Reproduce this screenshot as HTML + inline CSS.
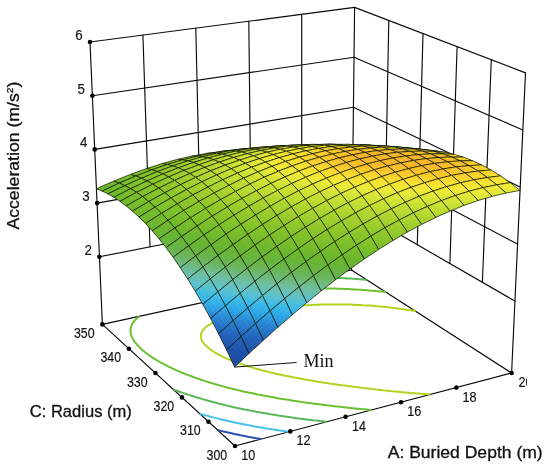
<!DOCTYPE html>
<html><head><meta charset="utf-8"><title>Response surface</title>
<style>html,body{margin:0;padding:0;background:#fff}svg{display:block}.s{stroke:none;shape-rendering:crispEdges}.m{fill:none;stroke:#161e06;stroke-width:.75;stroke-linejoin:round;shape-rendering:auto}</style></head>
<body>
<svg width="550" height="471" viewBox="0 0 550 471">
<rect width="550" height="471" fill="#fff"/>
<g stroke="#0a0a0a" stroke-width="1.15" fill="none" stroke-linecap="round">
<line x1="102.4" y1="324.4" x2="90" y2="42"/>
<line x1="150" y1="246.8" x2="142.9" y2="35.1"/>
<line x1="200.6" y1="236.9" x2="195.8" y2="28.2"/>
<line x1="251.1" y1="227" x2="248.8" y2="21.2"/>
<line x1="301.7" y1="217" x2="301.7" y2="14.3"/>
<line x1="351.5" y1="270" x2="354.6" y2="7.4"/>
<line x1="511.6" y1="373" x2="525.5" y2="72.9"/>
<line x1="482.4" y1="282.3" x2="491.3" y2="59.8"/>
<line x1="449.9" y1="263.5" x2="457.1" y2="46.7"/>
<line x1="417.3" y1="244.7" x2="423" y2="33.6"/>
<line x1="384.8" y1="225.9" x2="388.8" y2="20.5"/>
<line x1="102.4" y1="324.4" x2="351.5" y2="270"/>
<line x1="351.5" y1="270" x2="511.6" y2="373"/>
<line x1="99.4" y1="256.8" x2="352.2" y2="207.1"/>
<line x1="352.2" y1="207.1" x2="514.9" y2="301.1"/>
<line x1="97.1" y1="203.1" x2="352.8" y2="157.2"/>
<line x1="352.8" y1="157.2" x2="517.6" y2="244.1"/>
<line x1="94.7" y1="149.4" x2="353.4" y2="107.2"/>
<line x1="353.4" y1="107.2" x2="520.2" y2="187"/>
<line x1="92.4" y1="95.7" x2="354" y2="57.3"/>
<line x1="354" y1="57.3" x2="522.9" y2="130"/>
<line x1="90" y1="42" x2="354.6" y2="7.4"/>
<line x1="354.6" y1="7.4" x2="525.5" y2="72.9"/>
<line x1="102.4" y1="324.4" x2="235" y2="446"/>
<line x1="235" y1="446" x2="511.6" y2="373"/>
</g>
<g fill="none" stroke-width="2" stroke-linecap="butt">
<polyline stroke="#2a52b0" points="217.6,430 220,430.6 222.6,431.3 225.8,432 229,432.7 231.8,433.3 234.1,433.9 237.2,434.5 240.5,435.2 243.3,435.7 245.6,436.2 249,436.9 252.3,437.5 254.6,437.9 257.8,438.4 261.2,439 261.3,439"/>
<polyline stroke="#48c0e8" points="199.7,413.7 202.2,414.4 204.7,415.1 207.3,415.8 210.2,416.6 213.3,417.4 216.3,418.1 219.3,418.9 221.7,419.5 224,420 227.2,420.8 230.4,421.5 233.4,422.2 235.7,422.7 238.6,423.3 241.9,423.9 244.9,424.5 247.2,425 250.4,425.6 253.9,426.3 256.2,426.7 259.2,427.2 262.8,427.8 265,428.2 268.2,428.7 271.6,429.3 273.8,429.6 277.5,430.2 280.3,430.6 283.1,431 286.8,431.5 288.9,431.8"/>
<polyline stroke="#5ab85a" points="173.3,389.4 175.9,390.4 178.4,391.3 181,392.2 183.6,393.1 186.2,394 188.9,394.9 191.6,395.8 194.3,396.6 197.1,397.5 199.9,398.3 202.5,399.1 205,399.8 207.5,400.5 210,401.2 212.9,402 215.9,402.8 218.9,403.6 221.9,404.3 224.5,405 226.9,405.6 229.8,406.2 232.9,407 236.2,407.7 238.6,408.2 241.1,408.7 244.4,409.4 247.8,410.1 250.1,410.6 252.9,411.1 256.3,411.8 259.1,412.3 261.6,412.7 265.1,413.3 268,413.8 270.5,414.3 274.1,414.8 276.8,415.3 279.7,415.7 283.3,416.3 285.5,416.6 289.1,417.1 291.9,417.5 294.8,417.9 298.4,418.4 300.7,418.7 304.6,419.2 306.9,419.5 310.5,419.9 313.3,420.3 316.6,420.6 319.7,421 322.6,421.3 326,421.7 326.7,421.8"/>
<polyline stroke="#5ab85a" points="366.7,279.8 362.8,279.5 359.9,279.2 357.1,279 353.3,278.8 350.2,278.6 347.7,278.5 344.2,278.3 340.6,278.1 337.2,278 334.5,277.9 331.8,277.8 328.3,277.7 324.9,277.6 321.5,277.6 318.1,277.5 317.1,277.5"/>
<polyline stroke="#6cc030" points="385.8,292.1 382,291.6 379.6,291.4 375.6,291 373.5,290.8 369.5,290.5 366.7,290.2 363.7,290 359.9,289.7 357.3,289.6 354.3,289.4 350.6,289.2 347.3,289 344.6,288.9 341.6,288.8 338,288.7 334.5,288.6 331.1,288.5 327.8,288.5 324.8,288.4 321.7,288.4 318.5,288.4 315.3,288.4 312,288.5 308.6,288.5 305.1,288.6 301.5,288.7 298.2,288.8 295.1,288.9 292,289 288.9,289.1 285.8,289.3 281.9,289.5 278.2,289.7 275.2,289.8 272.2,290 268.4,290.3 264.8,290.5 261.8,290.8 258.4,291 254.6,291.4 253.1,291.5"/>
<polyline stroke="#6cc030" points="139.6,316.3 138,317.5 136.5,318.8 135,320.2 134.1,321.2 133.1,322.7 132.3,323.8 131.5,325.5 131.2,326.5 130.8,327.9 130.6,329.5 130.5,331 130.7,332.5 130.9,333.9 131.3,335.3 132,337.2 132.8,338.8 133.6,340.1 134.9,342.1 136.4,343.9 137.5,345.2 139.3,347.1 141.2,348.9 143.3,350.7 145.4,352.5 147.7,354.3 149.3,355.4 151.8,357.1 154.4,358.7 156.2,359.9 159,361.5 160.9,362.6 163.4,363.9 165.9,365.2 167.9,366.3 170.8,367.7 173.3,368.8 175.5,369.8 177.7,370.8 180.7,372.1 183.5,373.2 185.8,374.2 188.3,375.1 190.7,376 193.2,377 195.8,377.9 198.3,378.8 201,379.7 203.7,380.6 206.3,381.4 209,382.3 211.8,383.1 214.6,384 217.4,384.8 220.3,385.6 223.3,386.4 226.2,387.2 229.1,388 231.6,388.6 234,389.2 236.9,389.9 240,390.6 243.2,391.4 245.8,391.9 248.2,392.5 251.3,393.1 254.6,393.8 257.4,394.4 259.7,394.8 263.1,395.5 266.5,396.1 268.7,396.6 271.8,397.1 275.3,397.7 277.6,398.2 280.7,398.7 284.3,399.3 286.5,399.6 289.8,400.1 293.1,400.7 295.4,401 299.1,401.6 301.8,401.9 304.8,402.4 308.3,402.9 310.6,403.2 314.4,403.7 316.9,404 320.3,404.4 323.3,404.8 326.2,405.2 329.7,405.6 332.2,405.9 336.1,406.4 338.3,406.6 342.3,407.1 344.7,407.3 348.4,407.7 351,408 354.6,408.4 357.4,408.7 360.8,409 363.8,409.3 367.1,409.6 370.1,409.9 371.3,410"/>
<polyline stroke="#b2d420" points="415.6,311.2 413.2,310.8 410.2,310.3 406.7,309.8 403.8,309.3 401.2,309 397.4,308.4 394.9,308.1 391.5,307.7 388.4,307.3 385.4,307 382.2,306.7 379.1,306.4 376.1,306.1 372.4,305.8 370.1,305.6 366.3,305.4 362.9,305.2 360.5,305 356.9,304.9 353.3,304.7 350,304.6 347.3,304.5 344.4,304.5 340.9,304.4 337.4,304.4 334,304.4 330.7,304.4 327.3,304.5 324.1,304.5 320.8,304.6 317.6,304.7 314.4,304.8 311.2,305 307.1,305.2 303.5,305.4 300.4,305.6 297.4,305.8 293.5,306.1 289.9,306.4 286.9,306.7 282.6,307.1 279.7,307.5 276.3,307.9 272.6,308.3 269,308.8 265.6,309.3 261.5,309.9 258.7,310.3 254.7,311 250.7,311.7 246.8,312.4 243,313.2 239.2,314.1 235.4,315 231.8,315.9 228.2,317 224.7,318 222.4,318.8 219,320 216.9,320.9 214.8,321.8 212.3,323.1 210,324.3 208.2,325.5 206.7,326.5 205.4,327.6 204,328.9 202.8,330.4 202.2,331.4 201.4,332.9 201,334.4 200.9,335.7 200.9,337.1 201.3,338.7 201.8,340.3 202.5,341.6 203.9,343.5 204.9,344.8 206.8,346.6 208.9,348.3 211.2,350 212.8,351.1 215.4,352.8 218.2,354.4 220.2,355.4 222.6,356.6 225.4,357.9 227.7,358.9 229.9,359.8 233,361.1 235.9,362.2 238.4,363.1 240.9,363.9 243.5,364.8 246.2,365.7 248.9,366.5 251.6,367.4 254.4,368.2 257.3,369 260.2,369.8 263.1,370.6 265.8,371.2 268.3,371.9 270.8,372.5 273.8,373.2 277,373.9 280.2,374.6 282.8,375.2 285.2,375.7 288.3,376.3 291.7,377 294.6,377.6 296.9,378 300.2,378.6 303.7,379.3 306,379.7 308.9,380.2 312.5,380.8 315.1,381.2 317.9,381.7 321.5,382.3 324,382.7 327,383.1 330.7,383.7 332.9,384 336.4,384.5 339.5,384.9 342,385.3 345.9,385.8 348.3,386.1 351.7,386.6 354.8,387 357.5,387.3 361.4,387.8 363.5,388.1 367.4,388.5 370,388.8 373.4,389.2 376.5,389.6 379.5,389.9 383,390.3 385.6,390.5 389.4,390.9 391.8,391.2 395.9,391.6 398,391.8 402.2,392.2 404.4,392.4 408.6,392.7 410.8,392.9 415,393.3 417.2,393.5 421.4,393.8 423.6,394 427.8,394.3 430.2,394.5"/>
</g>
<g class="s">
<path fill="#8fc62a" d="M224.8 151l13.3-1.6-5.4 1.1-13.2 1.2z"/>
<path fill="#8bc52a" d="M228.8 150.5l6.6-.6-2.7 .6-6.6 .5z"/>
<path fill="#8cc52a" d="M222.2 151.3l6.6-.8-2.7 .5-6.6 .7z"/>
<path fill="#92c82b" d="M231.5 150.1l6.6-.7-2.7 .5-6.6 .6z"/>
<path fill="#93c92b" d="M224.8 151l6.7-.9-2.7 .4-6.6 .8z"/>
<path class="m" d="M224.8 151l13.3-1.6-5.4 1.1-13.2 1.2z"/>
<path fill="#91c72a" d="M211.2 153.2l13.6-2.2-5.3 .7-13.6 1.8z"/>
<path fill="#8dc62a" d="M215.4 152.2l6.8-.9-2.7 .4-6.8 .8z"/>
<path fill="#8dc62a" d="M208.5 153.3l6.9-1.1-2.7 .3-6.8 1z"/>
<path fill="#94c92b" d="M218.1 152l6.7-1-2.6 .3-6.8 .9z"/>
<path fill="#95c92b" d="M211.2 153.2l6.9-1.2-2.7 .2-6.9 1.1z"/>
<path class="m" d="M211.2 153.2l13.6-2.2-5.3 .7-13.6 1.8z"/>
<path fill="#91c72a" d="M197 156.2l14.2-3-5.3 .3-14.1 2.6z"/>
<path fill="#8dc62a" d="M201.5 154.6l7-1.3-2.6 .2-7 1.2z"/>
<path fill="#8dc62a" d="M194.4 156.1l7.1-1.5-2.6 .1-7.1 1.4z"/>
<path fill="#94c92b" d="M204.2 154.6l7-1.4-2.7 .1-7 1.3z"/>
<path fill="#94c92b" d="M197 156.2l7.2-1.6-2.7 0-7.1 1.5z"/>
<path class="m" d="M197 156.2l14.2-3-5.3 .3-14.1 2.6z"/>
<path fill="#8ec62a" d="M182.5 159.9l14.5-3.7-5.2-.1-14.6 3.3z"/>
<path fill="#8cc52a" d="M187.2 157.7l7.2-1.6-2.6 0-7.2 1.6z"/>
<path fill="#8bc52a" d="M179.8 159.6l7.4-1.9-2.6 0-7.4 1.7z"/>
<path fill="#92c82b" d="M189.8 158l7.2-1.8-2.6-.1-7.2 1.6z"/>
<path fill="#90c72a" d="M182.5 159.9l7.3-1.9-2.6-.3-7.4 1.9z"/>
<path class="m" d="M182.5 159.9l14.5-3.7-5.2-.1-14.6 3.3z"/>
<path fill="#8bc52a" d="M167.4 164.4l15.1-4.5-5.3-.5-15 4.2z"/>
<path fill="#89c42a" d="M172.4 161.7l7.4-2.1-2.6-.2-7.5 2z"/>
<path fill="#87c32a" d="M164.8 163.9l7.6-2.2-2.7-.3-7.5 2.2z"/>
<path fill="#8ec62a" d="M175 162.1l7.5-2.2-2.7-.3-7.4 2.1z"/>
<path fill="#8cc52a" d="M167.4 164.4l7.6-2.3-2.6-.4-7.6 2.2z"/>
<path class="m" d="M167.4 164.4l15.1-4.5-5.3-.5-15 4.2z"/>
<path fill="#85c32a" d="M151.9 169.8l15.5-5.4-5.2-.8-15.6 4.9z"/>
<path fill="#85c22a" d="M157.1 166.4l7.7-2.5-2.6-.3-7.8 2.3z"/>
<path fill="#82c12a" d="M149.2 169.1l7.9-2.7-2.7-.5-7.8 2.6z"/>
<path fill="#89c42a" d="M159.7 167l7.7-2.6-2.6-.5-7.7 2.5z"/>
<path fill="#86c32a" d="M151.9 169.8l7.8-2.8-2.6-.6-7.9 2.7z"/>
<path class="m" d="M151.9 169.8l15.5-5.4-5.2-.8-15.6 4.9z"/>
<path fill="#7ec02a" d="M135.8 176l16.1-6.2-5.3-1.3-16.2 5.9z"/>
<path fill="#7ec02a" d="M141.2 172l8-2.9-2.6-.6-8 2.8z"/>
<path fill="#7abe2a" d="M133.1 175.1l8.1-3.1-2.6-.7-8.2 3.1z"/>
<path fill="#82c12a" d="M143.9 172.8l8-3-2.7-.7-8 2.9z"/>
<path fill="#7ec02a" d="M135.8 176l8.1-3.2-2.7-.8-8.1 3.1z"/>
<path class="m" d="M135.8 176l16.1-6.2-5.3-1.3-16.2 5.9z"/>
<path fill="#76bc2b" d="M119.3 183.1l16.5-7.1-5.4-1.6-16.7 6.7z"/>
<path fill="#77bc2b" d="M124.9 178.5l8.2-3.4-2.7-.7-8.2 3.2z"/>
<path fill="#73ba2c" d="M116.5 182l8.4-3.5-2.7-.9-8.5 3.5z"/>
<path fill="#79be2a" d="M127.6 179.4l8.2-3.4-2.7-.9-8.2 3.4z"/>
<path fill="#75bb2b" d="M119.3 183.1l8.3-3.7-2.7-.9-8.4 3.5z"/>
<path class="m" d="M119.3 183.1l16.5-7.1-5.4-1.6-16.7 6.7z"/>
<path fill="#6db72e" d="M102.1 191.1l17.2-8-5.6-2-17.3 7.6z"/>
<path fill="#6fb72d" d="M107.9 185.8l8.6-3.8-2.8-.9-8.5 3.7z"/>
<path fill="#6bb630" d="M99.3 189.8l8.6-4-2.7-1-8.8 3.9z"/>
<path fill="#71b92d" d="M110.8 187l8.5-3.9-2.8-1.1-8.6 3.8z"/>
<path fill="#6cb62e" d="M102.1 191.1l8.7-4.1-2.9-1.2-8.6 4z"/>
<path class="m" d="M102.1 191.1l17.2-8-5.6-2-17.3 7.6z"/>
<path fill="#9ccc2c" d="M243.6 148.9l12.9-1.3-5.6 .9-12.8 .9z"/>
<path fill="#95c92b" d="M248.5 148.4l4.3-.2-1.9 .3-4.2 .3z"/>
<path fill="#96ca2b" d="M244.3 148.8l4.2-.4-1.8 .4-4.3 .3z"/>
<path fill="#97ca2b" d="M239.9 149.2l4.4-.4-1.9 .3-4.3 .3z"/>
<path fill="#9acc2c" d="M250.4 148.1l4.3-.3-1.9 .4-4.3 .2z"/>
<path fill="#9ccc2c" d="M246.1 148.5l4.3-.4-1.9 .3-4.2 .4z"/>
<path fill="#9dcd2c" d="M241.8 149l4.3-.5-1.8 .3-4.4 .4z"/>
<path fill="#a0ce2d" d="M252.3 147.9l4.2-.3-1.8 .2-4.3 .3z"/>
<path fill="#a1cf2d" d="M248 148.4l4.3-.5-1.9 .2-4.3 .4z"/>
<path fill="#a2cf2d" d="M243.6 148.9l4.4-.5-1.9 .1-4.3 .5z"/>
<path class="m" d="M243.6 148.9l12.9-1.3-5.6 .9-12.8 .9z"/>
<path fill="#9ece2d" d="M230.3 150.8l13.3-1.9-5.5 .5-13.3 1.6z"/>
<path fill="#9acc2c" d="M234.2 149.9l6.6-.8-2.7 .3-6.6 .7z"/>
<path fill="#9bcc2c" d="M227.6 150.8l6.6-.9-2.7 .2-6.7 .9z"/>
<path fill="#a1cf2d" d="M237 149.7l6.6-.8-2.8 .2-6.6 .8z"/>
<path fill="#a2cf2d" d="M230.3 150.8l6.7-1.1-2.8 .2-6.6 .9z"/>
<path class="m" d="M230.3 150.8l13.3-1.9-5.5 .5-13.3 1.6z"/>
<path fill="#9fce2d" d="M216.6 153.4l13.7-2.6-5.5 .2-13.6 2.2z"/>
<path fill="#9ccc2c" d="M220.8 152l6.8-1.2-2.8 .2-6.7 1z"/>
<path fill="#9ccc2c" d="M213.9 153.3l6.9-1.3-2.7 0-6.9 1.2z"/>
<path fill="#a2cf2d" d="M223.5 152l6.8-1.2-2.7 0-6.8 1.2z"/>
<path fill="#a2cf2d" d="M216.6 153.4l6.9-1.4-2.7 0-6.9 1.3z"/>
<path class="m" d="M216.6 153.4l13.7-2.6-5.5 .2-13.6 2.2z"/>
<path fill="#9ecd2c" d="M202.4 156.8l14.2-3.4-5.4-.2-14.2 3z"/>
<path fill="#9bcc2c" d="M206.8 154.8l7.1-1.5-2.7-.1-7 1.4z"/>
<path fill="#9acc2c" d="M199.7 156.4l7.1-1.6-2.6-.2-7.2 1.6z"/>
<path fill="#a1cf2d" d="M209.6 155l7-1.6-2.7-.1-7.1 1.5z"/>
<path fill="#a0ce2d" d="M202.4 156.8l7.2-1.8-2.8-.2-7.1 1.6z"/>
<path class="m" d="M202.4 156.8l14.2-3.4-5.4-.2-14.2 3z"/>
<path fill="#9acc2c" d="M187.9 160.9l14.5-4.1-5.4-.6-14.5 3.7z"/>
<path fill="#98cb2c" d="M192.5 158.3l7.2-1.9-2.7-.2-7.2 1.8z"/>
<path fill="#96ca2b" d="M185.2 160.4l7.3-2.1-2.7-.3-7.3 1.9z"/>
<path fill="#9ecd2c" d="M195.2 158.8l7.2-2-2.7-.4-7.2 1.9z"/>
<path fill="#9bcc2c" d="M187.9 160.9l7.3-2.1-2.7-.5-7.3 2.1z"/>
<path class="m" d="M187.9 160.9l14.5-4.1-5.4-.6-14.5 3.7z"/>
<path fill="#94c92b" d="M172.8 165.9l15.1-5-5.4-1-15.1 4.5z"/>
<path fill="#93c92b" d="M177.7 162.6l7.5-2.2-2.7-.5-7.5 2.2z"/>
<path fill="#90c72a" d="M170.1 165.1l7.6-2.5-2.7-.5-7.6 2.3z"/>
<path fill="#98cb2c" d="M180.4 163.3l7.5-2.4-2.7-.5-7.5 2.2z"/>
<path fill="#95c92b" d="M172.8 165.9l7.6-2.6-2.7-.7-7.6 2.5z"/>
<path class="m" d="M172.8 165.9l15.1-5-5.4-1-15.1 4.5z"/>
<path fill="#8dc52a" d="M157.4 171.6l15.4-5.7-5.4-1.5-15.5 5.4z"/>
<path fill="#8dc52a" d="M162.4 167.7l7.7-2.6-2.7-.7-7.7 2.6z"/>
<path fill="#89c42a" d="M154.6 170.6l7.8-2.9-2.7-.7-7.8 2.8z"/>
<path fill="#91c72a" d="M165.2 168.6l7.6-2.7-2.7-.8-7.7 2.6z"/>
<path fill="#8cc52a" d="M157.4 171.6l7.8-3-2.8-.9-7.8 2.9z"/>
<path class="m" d="M157.4 171.6l15.4-5.7-5.4-1.5-15.5 5.4z"/>
<path fill="#85c22a" d="M141.4 178.2l16-6.6-5.5-1.8-16.1 6.2z"/>
<path fill="#85c32a" d="M146.7 173.7l7.9-3.1-2.7-.8-8 3z"/>
<path fill="#81c12a" d="M138.6 177l8.1-3.3-2.8-.9-8.1 3.2z"/>
<path fill="#88c42a" d="M149.4 174.8l8-3.2-2.8-1-7.9 3.1z"/>
<path fill="#84c22a" d="M141.4 178.2l8-3.4-2.7-1.1-8.1 3.3z"/>
<path class="m" d="M141.4 178.2l16-6.6-5.5-1.8-16.1 6.2z"/>
<path fill="#7bbe2a" d="M124.9 185.6l16.5-7.4-5.6-2.2-16.5 7.1z"/>
<path fill="#7cbf2a" d="M130.4 180.5l8.2-3.5-2.8-1-8.2 3.4z"/>
<path fill="#77bd2b" d="M122.1 184.3l8.3-3.8-2.8-1.1-8.3 3.7z"/>
<path fill="#7fc02a" d="M133.2 181.8l8.2-3.6-2.8-1.2-8.2 3.5z"/>
<path fill="#79be2a" d="M124.9 185.6l8.3-3.8-2.8-1.3-8.3 3.8z"/>
<path class="m" d="M124.9 185.6l16.5-7.4-5.6-2.2-16.5 7.1z"/>
<path fill="#71b92d" d="M107.9 193.9l17-8.3-5.6-2.5-17.2 8z"/>
<path fill="#73ba2c" d="M113.6 188.2l8.5-3.9-2.8-1.2-8.5 3.9z"/>
<path fill="#6eb72d" d="M105 192.4l8.6-4.2-2.8-1.2-8.7 4.1z"/>
<path fill="#75bb2c" d="M116.5 189.6l8.4-4-2.8-1.3-8.5 3.9z"/>
<path fill="#6fb82d" d="M107.9 193.9l8.6-4.3-2.9-1.4-8.6 4.2z"/>
<path class="m" d="M107.9 193.9l17-8.3-5.6-2.5-17.2 8z"/>
<path fill="#a7d22e" d="M262.3 147.2l12.6-1.1-5.8 .8-12.6 .7z"/>
<path fill="#a0ce2d" d="M266.9 146.8l4.1-.2-1.9 .3-4.2 .2z"/>
<path fill="#a2cf2d" d="M262.7 147.1l4.2-.3-2 .3-4.1 .2z"/>
<path fill="#a3d02d" d="M258.4 147.4l4.3-.3-1.9 .2-4.3 .3z"/>
<path fill="#a6d12e" d="M268.8 146.6l4.2-.3-2 .3-4.1 .2z"/>
<path fill="#a7d22e" d="M264.6 146.9l4.2-.3-1.9 .2-4.2 .3z"/>
<path fill="#a9d22e" d="M260.3 147.2l4.3-.3-1.9 .2-4.3 .3z"/>
<path fill="#abd32e" d="M270.7 146.4l4.2-.3-1.9 .2-4.2 .3z"/>
<path fill="#add42f" d="M266.5 146.7l4.2-.3-1.9 .2-4.2 .3z"/>
<path fill="#afd52f" d="M262.3 147.2l4.2-.5-1.9 .2-4.3 .3z"/>
<path class="m" d="M262.3 147.2l12.6-1.1-5.8 .8-12.6 .7z"/>
<path fill="#abd32e" d="M249.3 148.8l13-1.6-5.8 .4-12.9 1.3z"/>
<path fill="#a5d02d" d="M254.2 147.8l4.2-.4-1.9 .2-4.2 .3z"/>
<path fill="#a6d12e" d="M249.8 148.2l4.4-.4-1.9 .1-4.3 .5z"/>
<path fill="#a7d12e" d="M245.5 148.8l4.3-.6-1.8 .2-4.4 .5z"/>
<path fill="#aad32e" d="M256.1 147.7l4.2-.5-1.9 .2-4.2 .4z"/>
<path fill="#abd32e" d="M251.7 148.2l4.4-.5-1.9 .1-4.4 .4z"/>
<path fill="#acd42f" d="M247.4 148.8l4.3-.6-1.9 0-4.3 .6z"/>
<path fill="#b0d52f" d="M258 147.6l4.3-.4-2 0-4.2 .5z"/>
<path fill="#b1d62f" d="M253.6 148.2l4.4-.6-1.9 .1-4.4 .5z"/>
<path fill="#b2d62f" d="M249.3 148.8l4.3-.6-1.9 0-4.3 .6z"/>
<path class="m" d="M249.3 148.8l13-1.6-5.8 .4-12.9 1.3z"/>
<path fill="#add42f" d="M235.9 151.2l13.4-2.4-5.7 .1-13.3 1.9z"/>
<path fill="#a9d22e" d="M239.8 149.8l6.6-1-2.8 .1-6.6 .8z"/>
<path fill="#a9d32e" d="M233.1 150.9l6.7-1.1-2.8-.1-6.7 1.1z"/>
<path fill="#b1d62f" d="M242.6 149.9l6.7-1.1-2.9 0-6.6 1z"/>
<path fill="#b1d62f" d="M235.9 151.2l6.7-1.3-2.8-.1-6.7 1.1z"/>
<path class="m" d="M235.9 151.2l13.4-2.4-5.7 .1-13.3 1.9z"/>
<path fill="#acd42f" d="M222.1 154.2l13.8-3-5.6-.4-13.7 2.6z"/>
<path fill="#a9d22e" d="M226.2 152.2l6.9-1.3-2.8-.1-6.8 1.2z"/>
<path fill="#a8d22e" d="M219.3 153.8l6.9-1.6-2.7-.2-6.9 1.4z"/>
<path fill="#b1d62f" d="M229 152.6l6.9-1.4-2.8-.3-6.9 1.3z"/>
<path fill="#afd52f" d="M222.1 154.2l6.9-1.6-2.8-.4-6.9 1.6z"/>
<path class="m" d="M222.1 154.2l13.8-3-5.6-.4-13.7 2.6z"/>
<path fill="#a9d32e" d="M207.9 158l14.2-3.8-5.5-.8-14.2 3.4z"/>
<path fill="#a7d22e" d="M212.3 155.4l7-1.6-2.7-.4-7 1.6z"/>
<path fill="#a5d12e" d="M205.2 157.3l7.1-1.9-2.7-.4-7.2 1.8z"/>
<path fill="#aed42f" d="M215.1 156l7-1.8-2.8-.4-7 1.6z"/>
<path fill="#abd32e" d="M207.9 158l7.2-2-2.8-.6-7.1 1.9z"/>
<path class="m" d="M207.9 158l14.2-3.8-5.5-.8-14.2 3.4z"/>
<path fill="#a4d02d" d="M193.4 162.5l14.5-4.5-5.5-1.2-14.5 4.1z"/>
<path fill="#a3d02d" d="M197.9 159.4l7.3-2.1-2.8-.5-7.2 2z"/>
<path fill="#a0ce2d" d="M190.6 161.7l7.3-2.3-2.7-.6-7.3 2.1z"/>
<path fill="#a8d22e" d="M200.7 160.2l7.2-2.2-2.7-.7-7.3 2.1z"/>
<path fill="#a5d12e" d="M193.4 162.5l7.3-2.3-2.8-.8-7.3 2.3z"/>
<path class="m" d="M193.4 162.5l14.5-4.5-5.5-1.2-14.5 4.1z"/>
<path fill="#9dcd2c" d="M178.4 167.8l15-5.3-5.5-1.6-15.1 5z"/>
<path fill="#9dcd2c" d="M183.1 164.1l7.5-2.4-2.7-.8-7.5 2.4z"/>
<path fill="#99cb2c" d="M175.6 166.8l7.5-2.7-2.7-.8-7.6 2.6z"/>
<path fill="#a1cf2d" d="M185.9 165.1l7.5-2.6-2.8-.8-7.5 2.4z"/>
<path fill="#9dcd2c" d="M178.4 167.8l7.5-2.7-2.8-1-7.5 2.7z"/>
<path class="m" d="M178.4 167.8l15-5.3-5.5-1.6-15.1 5z"/>
<path fill="#94c92b" d="M162.9 173.9l15.5-6.1-5.6-1.9-15.4 5.7z"/>
<path fill="#95c92b" d="M167.9 169.6l7.7-2.8-2.8-.9-7.6 2.7z"/>
<path fill="#90c72a" d="M160.1 172.7l7.8-3.1-2.7-1-7.8 3z"/>
<path fill="#98cb2c" d="M170.7 170.8l7.7-3-2.8-1-7.7 2.8z"/>
<path fill="#93c82b" d="M162.9 173.9l7.8-3.1-2.8-1.2-7.8 3.1z"/>
<path class="m" d="M162.9 173.9l15.5-6.1-5.6-1.9-15.4 5.7z"/>
<path fill="#8ac42a" d="M147.1 180.9l15.8-7-5.5-2.3-16 6.6z"/>
<path fill="#8bc52a" d="M152.2 176l7.9-3.3-2.7-1.1-8 3.2z"/>
<path fill="#86c32a" d="M144.2 179.5l8-3.5-2.8-1.2-8 3.4z"/>
<path fill="#8dc62a" d="M155.1 177.3l7.8-3.4-2.8-1.2-7.9 3.3z"/>
<path fill="#88c42a" d="M147.1 180.9l8-3.6-2.9-1.3-8 3.5z"/>
<path class="m" d="M147.1 180.9l15.8-7-5.5-2.3-16 6.6z"/>
<path fill="#7fc02a" d="M130.7 188.7l16.4-7.8-5.7-2.7-16.5 7.4z"/>
<path fill="#81c12a" d="M136.1 183.2l8.1-3.7-2.8-1.3-8.2 3.6z"/>
<path fill="#7bbe2a" d="M127.8 187.1l8.3-3.9-2.9-1.4-8.3 3.8z"/>
<path fill="#83c22a" d="M138.9 184.7l8.2-3.8-2.9-1.4-8.1 3.7z"/>
<path fill="#7dbf2a" d="M130.7 188.7l8.2-4-2.8-1.5-8.3 3.9z"/>
<path class="m" d="M130.7 188.7l16.4-7.8-5.7-2.7-16.5 7.4z"/>
<path fill="#74bb2c" d="M113.9 197.3l16.8-8.6-5.8-3.1-17 8.3z"/>
<path fill="#76bc2b" d="M119.4 191.2l8.4-4.1-2.9-1.5-8.4 4z"/>
<path fill="#71b92d" d="M110.9 195.5l8.5-4.3-2.9-1.6-8.6 4.3z"/>
<path fill="#77bc2b" d="M122.3 192.9l8.4-4.2-2.9-1.6-8.4 4.1z"/>
<path fill="#72b92c" d="M113.9 197.3l8.4-4.4-2.9-1.7-8.5 4.3z"/>
<path class="m" d="M113.9 197.3l16.8-8.6-5.8-3.1-17 8.3z"/>
<path fill="#b4d730" d="M280.9 145.9l12.4-.8-6.1 .6-12.3 .4z"/>
<path fill="#acd42f" d="M285.1 145.6l4.1-.2-2 .3-4.1 .1z"/>
<path fill="#aed42f" d="M281 145.7l4.1-.1-2 .2-4 .1z"/>
<path fill="#b0d52f" d="M276.9 146l4.1-.3-1.9 .2-4.2 .2z"/>
<path fill="#b2d62f" d="M287.2 145.4l4-.2-2 .2-4.1 .2z"/>
<path fill="#b4d730" d="M283 145.6l4.2-.2-2.1 .2-4.1 .1z"/>
<path fill="#b6d830" d="M278.9 145.9l4.1-.3-2 .1-4.1 .3z"/>
<path fill="#b8d930" d="M289.2 145.3l4.1-.2-2.1 .1-4 .2z"/>
<path fill="#bada31" d="M285 145.5l4.2-.2-2 .1-4.2 .2z"/>
<path fill="#bcda31" d="M280.9 145.9l4.1-.4-2 .1-4.1 .3z"/>
<path class="m" d="M280.9 145.9l12.4-.8-6.1 .6-12.3 .4z"/>
<path fill="#b9d930" d="M268.1 147.3l12.8-1.4-6 .2-12.6 1.1z"/>
<path fill="#b2d62f" d="M272.7 146.3l4.2-.3-2 .1-4.2 .3z"/>
<path fill="#b3d730" d="M268.5 146.7l4.2-.4-2 .1-4.2 .3z"/>
<path fill="#b5d730" d="M264.2 147.1l4.3-.4-2 0-4.2 .5z"/>
<path fill="#b8d930" d="M274.7 146.2l4.2-.3-2 .1-4.2 .3z"/>
<path fill="#b9d930" d="M270.4 146.7l4.3-.5-2 .1-4.2 .4z"/>
<path fill="#bada31" d="M266.2 147.2l4.2-.5-1.9 0-4.3 .4z"/>
<path fill="#bddb31" d="M276.7 146.3l4.2-.4-2 0-4.2 .3z"/>
<path fill="#bfdc31" d="M272.4 146.7l4.3-.4-2-.1-4.3 .5z"/>
<path fill="#c0dc31" d="M268.1 147.3l4.3-.6-2 0-4.2 .5z"/>
<path class="m" d="M268.1 147.3l12.8-1.4-6 .2-12.6 1.1z"/>
<path fill="#bcda31" d="M255 149.4l13.1-2.1-5.8-.1-13 1.6z"/>
<path fill="#b7d930" d="M258.7 148l6.5-.9-2.9 .1-6.5 .7z"/>
<path fill="#b8d930" d="M252.1 149l6.6-1-2.9-.1-6.5 .9z"/>
<path fill="#bfdc31" d="M261.6 148.2l6.5-.9-2.9-.2-6.5 .9z"/>
<path fill="#c0dc31" d="M255 149.4l6.6-1.2-2.9-.2-6.6 1z"/>
<path class="m" d="M255 149.4l13.1-2.1-5.8-.1-13 1.6z"/>
<path fill="#bcdb31" d="M241.6 152.1l13.4-2.7-5.7-.6-13.4 2.4z"/>
<path fill="#b9d930" d="M245.5 150.2l6.6-1.2-2.8-.2-6.7 1.1z"/>
<path fill="#b8d930" d="M238.7 151.6l6.8-1.4-2.9-.3-6.7 1.3z"/>
<path fill="#c0dc31" d="M248.3 150.6l6.7-1.2-2.9-.4-6.6 1.2z"/>
<path fill="#bfdc31" d="M241.6 152.1l6.7-1.5-2.8-.4-6.8 1.4z"/>
<path class="m" d="M241.6 152.1l13.4-2.7-5.7-.6-13.4 2.4z"/>
<path fill="#bada31" d="M227.8 155.6l13.8-3.5-5.7-.9-13.8 3z"/>
<path fill="#b7d930" d="M231.9 153.1l6.8-1.5-2.8-.4-6.9 1.4z"/>
<path fill="#b6d830" d="M224.9 154.8l7-1.7-2.9-.5-6.9 1.6z"/>
<path fill="#bedb31" d="M234.7 153.7l6.9-1.6-2.9-.5-6.8 1.5z"/>
<path fill="#bcdb31" d="M227.8 155.6l6.9-1.9-2.8-.6-7 1.7z"/>
<path class="m" d="M227.8 155.6l13.8-3.5-5.7-.9-13.8 3z"/>
<path fill="#b5d830" d="M213.6 159.7l14.2-4.1-5.7-1.4-14.2 3.8z"/>
<path fill="#b4d730" d="M217.9 156.7l7-1.9-2.8-.6-7 1.8z"/>
<path fill="#b1d62f" d="M210.7 158.8l7.2-2.1-2.8-.7-7.2 2z"/>
<path fill="#b9d930" d="M220.7 157.6l7.1-2-2.9-.8-7 1.9z"/>
<path fill="#b6d830" d="M213.6 159.7l7.1-2.1-2.8-.9-7.2 2.1z"/>
<path class="m" d="M213.6 159.7l14.2-4.1-5.7-1.4-14.2 3.8z"/>
<path fill="#aed42f" d="M199 164.7l14.6-5-5.7-1.7-14.5 4.5z"/>
<path fill="#add42f" d="M203.5 161.1l7.2-2.3-2.8-.8-7.2 2.2z"/>
<path fill="#a9d32e" d="M196.2 163.5l7.3-2.4-2.8-.9-7.3 2.3z"/>
<path fill="#b2d62f" d="M206.3 162.1l7.3-2.4-2.9-.9-7.2 2.3z"/>
<path fill="#aed42f" d="M199 164.7l7.3-2.6-2.8-1-7.3 2.4z"/>
<path class="m" d="M199 164.7l14.6-5-5.7-1.7-14.5 4.5z"/>
<path fill="#a4d02d" d="M184 170.4l15-5.7-5.6-2.2-15 5.3z"/>
<path fill="#a5d12e" d="M188.7 166.2l7.5-2.7-2.8-1-7.5 2.6z"/>
<path fill="#a1cf2d" d="M181.2 169l7.5-2.8-2.8-1.1-7.5 2.7z"/>
<path fill="#a8d22e" d="M191.6 167.4l7.4-2.7-2.8-1.2-7.5 2.7z"/>
<path fill="#a4d02d" d="M184 170.4l7.6-3-2.9-1.2-7.5 2.8z"/>
<path class="m" d="M184 170.4l15-5.7-5.6-2.2-15 5.3z"/>
<path fill="#9acc2c" d="M168.6 176.9l15.4-6.5-5.6-2.6-15.5 6.1z"/>
<path fill="#9bcc2c" d="M173.5 172.1l7.7-3.1-2.8-1.2-7.7 3z"/>
<path fill="#96ca2b" d="M165.8 175.3l7.7-3.2-2.8-1.3-7.8 3.1z"/>
<path fill="#9ecd2c" d="M176.4 173.5l7.6-3.1-2.8-1.4-7.7 3.1z"/>
<path fill="#98cb2c" d="M168.6 176.9l7.8-3.4-2.9-1.4-7.7 3.2z"/>
<path class="m" d="M168.6 176.9l15.4-6.5-5.6-2.6-15.5 6.1z"/>
<path fill="#8ec62a" d="M152.8 184.2l15.8-7.3-5.7-3-15.8 7z"/>
<path fill="#90c72a" d="M157.9 178.8l7.9-3.5-2.9-1.4-7.8 3.4z"/>
<path fill="#8ac42a" d="M149.9 182.5l8-3.7-2.8-1.5-8 3.6z"/>
<path fill="#92c82b" d="M160.8 180.4l7.8-3.5-2.8-1.6-7.9 3.5z"/>
<path fill="#8cc52a" d="M152.8 184.2l8-3.8-2.9-1.6-8 3.7z"/>
<path class="m" d="M152.8 184.2l15.8-7.3-5.7-3-15.8 7z"/>
<path fill="#82c12a" d="M136.6 192.3l16.2-8.1-5.7-3.3-16.4 7.8z"/>
<path fill="#84c22a" d="M141.8 186.3l8.1-3.8-2.8-1.6-8.2 3.8z"/>
<path fill="#7ec02a" d="M133.6 190.4l8.2-4.1-2.9-1.6-8.2 4z"/>
<path fill="#86c32a" d="M144.8 188.2l8-4-2.9-1.7-8.1 3.8z"/>
<path fill="#80c02a" d="M136.6 192.3l8.2-4.1-3-1.9-8.2 4.1z"/>
<path class="m" d="M136.6 192.3l16.2-8.1-5.7-3.3-16.4 7.8z"/>
<path fill="#76bc2b" d="M119.9 201.3l16.7-9-5.9-3.6-16.8 8.6z"/>
<path fill="#78bd2a" d="M125.3 194.7l8.3-4.3-2.9-1.7-8.4 4.2z"/>
<path fill="#73ba2c" d="M116.9 199.2l8.4-4.5-3-1.8-8.4 4.4z"/>
<path fill="#79bd2a" d="M128.3 196.7l8.3-4.4-3-1.9-8.3 4.3z"/>
<path fill="#73ba2c" d="M119.9 201.3l8.4-4.6-3-2-8.4 4.5z"/>
<path class="m" d="M119.9 201.3l16.7-9-5.9-3.6-16.8 8.6z"/>
<path fill="#c0dc31" d="M299.5 145l12.2-.6-6.3 .5-12.1 .2z"/>
<path fill="#b7d930" d="M303.4 144.7l4 0-2 .2-4 0z"/>
<path fill="#bada31" d="M299.4 144.8l4-.1-2 .2-4.1 0z"/>
<path fill="#bcdb31" d="M295.3 145l4.1-.2-2.1 .1-4 .2z"/>
<path fill="#bddb31" d="M305.5 144.6l4.1-.1-2.2 .2-4 0z"/>
<path fill="#c0dc31" d="M301.5 144.7l4-.1-2.1 .1-4 .1z"/>
<path fill="#c2dd32" d="M297.4 145l4.1-.3-2.1 .1-4.1 .2z"/>
<path fill="#c3de32" d="M307.6 144.6l4.1-.2-2.1 .1-4.1 .1z"/>
<path fill="#c6df33" d="M303.6 144.7l4-.1-2.1 0-4 .1z"/>
<path fill="#c8e033" d="M299.5 145l4.1-.3-2.1 0-4.1 .3z"/>
<path class="m" d="M299.5 145l12.2-.6-6.3 .5-12.1 .2z"/>
<path fill="#c6df32" d="M286.9 146.2l12.6-1.2-6.2 .1-12.4 .8z"/>
<path fill="#bedb31" d="M291.2 145.2l4.1-.2-2 .1-4.1 .2z"/>
<path fill="#c0dc31" d="M287.1 145.5l4.1-.3-2 .1-4.2 .2z"/>
<path fill="#c1dd32" d="M282.9 145.9l4.2-.4-2.1 0-4.1 .4z"/>
<path fill="#c4de32" d="M293.3 145.2l4.1-.2-2.1 0-4.1 .2z"/>
<path fill="#c6df32" d="M289.1 145.6l4.2-.4-2.1 0-4.1 .3z"/>
<path fill="#c8df33" d="M284.9 146l4.2-.4-2-.1-4.2 .4z"/>
<path fill="#cbe034" d="M295.3 145.3l4.2-.3-2.1 0-4.1 .2z"/>
<path fill="#cce134" d="M291.2 145.7l4.1-.4-2-.1-4.2 .4z"/>
<path fill="#cee235" d="M286.9 146.2l4.3-.5-2.1-.1-4.2 .4z"/>
<path class="m" d="M286.9 146.2l12.6-1.2-6.2 .1-12.4 .8z"/>
<path fill="#cae034" d="M274.1 148l12.8-1.8-6-.3-12.8 1.4z"/>
<path fill="#c3dd32" d="M278.7 146.3l4.2-.4-2 0-4.2 .4z"/>
<path fill="#c4de32" d="M274.4 146.9l4.3-.6-2 0-4.3 .4z"/>
<path fill="#c5de32" d="M270.1 147.5l4.3-.6-2-.2-4.3 .6z"/>
<path fill="#c9e033" d="M280.7 146.5l4.2-.5-2-.1-4.2 .4z"/>
<path fill="#cae034" d="M276.4 147.1l4.3-.6-2-.2-4.3 .6z"/>
<path fill="#cbe134" d="M272.1 147.7l4.3-.6-2-.2-4.3 .6z"/>
<path fill="#cfe235" d="M282.7 146.7l4.2-.5-2-.2-4.2 .5z"/>
<path fill="#d0e235" d="M278.4 147.3l4.3-.6-2-.2-4.3 .6z"/>
<path fill="#d1e336" d="M274.1 148l4.3-.7-2-.2-4.3 .6z"/>
<path class="m" d="M274.1 148l12.8-1.8-6-.3-12.8 1.4z"/>
<path fill="#cce134" d="M260.9 150.5l13.2-2.5-6-.7-13.1 2.1z"/>
<path fill="#c7df33" d="M264.6 148.6l6.5-1-3-.3-6.5 .9z"/>
<path fill="#c8df33" d="M258 149.8l6.6-1.2-3-.4-6.6 1.2z"/>
<path fill="#d0e235" d="M267.5 149.1l6.6-1.1-3-.4-6.5 1z"/>
<path fill="#d0e235" d="M260.9 150.5l6.6-1.4-2.9-.5-6.6 1.2z"/>
<path class="m" d="M260.9 150.5l13.2-2.5-6-.7-13.1 2.1z"/>
<path fill="#cae034" d="M247.4 153.6l13.5-3.1-5.9-1.1-13.4 2.7z"/>
<path fill="#c7df33" d="M251.3 151.2l6.7-1.4-3-.4-6.7 1.2z"/>
<path fill="#c6df32" d="M244.5 152.8l6.8-1.6-3-.6-6.7 1.5z"/>
<path fill="#cfe235" d="M254.2 152l6.7-1.5-2.9-.7-6.7 1.4z"/>
<path fill="#cde134" d="M247.4 153.6l6.8-1.6-2.9-.8-6.8 1.6z"/>
<path class="m" d="M247.4 153.6l13.5-3.1-5.9-1.1-13.4 2.7z"/>
<path fill="#c6df32" d="M233.5 157.5l13.9-3.9-5.8-1.5-13.8 3.5z"/>
<path fill="#c4de32" d="M237.6 154.5l6.9-1.7-2.9-.7-6.9 1.6z"/>
<path fill="#c1dd32" d="M230.6 156.4l7-1.9-2.9-.8-6.9 1.9z"/>
<path fill="#cae034" d="M240.5 155.5l6.9-1.9-2.9-.8-6.9 1.7z"/>
<path fill="#c7df33" d="M233.5 157.5l7-2-2.9-1-7 1.9z"/>
<path class="m" d="M233.5 157.5l13.9-3.9-5.8-1.5-13.8 3.5z"/>
<path fill="#bfdc31" d="M219.3 162.1l14.2-4.6-5.7-1.9-14.2 4.1z"/>
<path fill="#bedc31" d="M223.6 158.5l7-2.1-2.8-.8-7.1 2z"/>
<path fill="#bbda31" d="M216.4 160.8l7.2-2.3-2.9-.9-7.1 2.1z"/>
<path fill="#c3de32" d="M226.5 159.7l7-2.2-2.9-1.1-7 2.1z"/>
<path fill="#bfdc31" d="M219.3 162.1l7.2-2.4-2.9-1.2-7.2 2.3z"/>
<path class="m" d="M219.3 162.1l14.2-4.6-5.7-1.9-14.2 4.1z"/>
<path fill="#b6d830" d="M204.8 167.4l14.5-5.3-5.7-2.4-14.6 5z"/>
<path fill="#b7d830" d="M209.2 163.3l7.2-2.5-2.8-1.1-7.3 2.4z"/>
<path fill="#b2d62f" d="M201.9 166l7.3-2.7-2.9-1.2-7.3 2.6z"/>
<path fill="#bada31" d="M212.1 164.7l7.2-2.6-2.9-1.3-7.2 2.5z"/>
<path fill="#b5d830" d="M204.8 167.4l7.3-2.7-2.9-1.4-7.3 2.7z"/>
<path class="m" d="M204.8 167.4l14.5-5.3-5.7-2.4-14.6 5z"/>
<path fill="#aad32e" d="M189.8 173.5l15-6.1-5.8-2.7-15 5.7z"/>
<path fill="#acd42f" d="M194.4 168.8l7.5-2.8-2.9-1.3-7.4 2.7z"/>
<path fill="#a6d12e" d="M186.9 171.9l7.5-3.1-2.8-1.4-7.6 3z"/>
<path fill="#afd52f" d="M197.3 170.4l7.5-3-2.9-1.4-7.5 2.8z"/>
<path fill="#a8d22e" d="M189.8 173.5l7.5-3.1-2.9-1.6-7.5 3.1z"/>
<path class="m" d="M189.8 173.5l15-6.1-5.8-2.7-15 5.7z"/>
<path fill="#9ece2d" d="M174.5 180.4l15.3-6.9-5.8-3.1-15.4 6.5z"/>
<path fill="#a1cf2d" d="M179.3 175.1l7.6-3.2-2.9-1.5-7.6 3.1z"/>
<path fill="#9acc2c" d="M171.6 178.6l7.7-3.5-2.9-1.6-7.8 3.4z"/>
<path fill="#a2cf2d" d="M182.2 176.9l7.6-3.4-2.9-1.6-7.6 3.2z"/>
<path fill="#9ccc2c" d="M174.5 180.4l7.7-3.5-2.9-1.8-7.7 3.5z"/>
<path class="m" d="M174.5 180.4l15.3-6.9-5.8-3.1-15.4 6.5z"/>
<path fill="#91c72a" d="M158.8 188.1l15.7-7.7-5.9-3.5-15.8 7.3z"/>
<path fill="#94c92b" d="M163.7 182.2l7.9-3.6-3-1.7-7.8 3.5z"/>
<path fill="#8dc62a" d="M155.8 186.1l7.9-3.9-2.9-1.8-8 3.8z"/>
<path fill="#95c92b" d="M166.7 184.2l7.8-3.8-2.9-1.8-7.9 3.6z"/>
<path fill="#8ec62a" d="M158.8 188.1l7.9-3.9-3-2-7.9 3.9z"/>
<path class="m" d="M158.8 188.1l15.7-7.7-5.9-3.5-15.8 7.3z"/>
<path fill="#84c22a" d="M142.7 196.6l16.1-8.5-6-3.9-16.2 8.1z"/>
<path fill="#87c32a" d="M147.8 190.1l8-4-3-1.9-8 4z"/>
<path fill="#80c12a" d="M139.6 194.4l8.2-4.3-3-1.9-8.2 4.1z"/>
<path fill="#87c32a" d="M150.8 192.3l8-4.2-3-2-8 4z"/>
<path fill="#81c12a" d="M142.7 196.6l8.1-4.3-3-2.2-8.2 4.3z"/>
<path class="m" d="M142.7 196.6l16.1-8.5-6-3.9-16.2 8.1z"/>
<path fill="#77bc2b" d="M126.1 205.9l16.6-9.3-6.1-4.3-16.7 9z"/>
<path fill="#7abe2a" d="M131.4 198.8l8.2-4.4-3-2.1-8.3 4.4z"/>
<path fill="#74ba2c" d="M123 203.5l8.4-4.7-3.1-2.1-8.4 4.6z"/>
<path fill="#7abe2a" d="M134.4 201.1l8.3-4.5-3.1-2.2-8.2 4.4z"/>
<path fill="#74ba2c" d="M126.1 205.9l8.3-4.8-3-2.3-8.4 4.7z"/>
<path class="m" d="M126.1 205.9l16.6-9.3-6.1-4.3-16.7 9z"/>
<path fill="#cce134" d="M318.1 144.5l12.1-.3-6.6 .3-11.9-.1z"/>
<path fill="#c1dd32" d="M321.8 144.3l4 0-2.2 .2-4-.1z"/>
<path fill="#c4de32" d="M317.8 144.3l4 0-2.2 .1-3.9 0z"/>
<path fill="#c7df33" d="M313.8 144.4l4-.1-2.1 .1-4 0z"/>
<path fill="#c8e033" d="M324 144.2l4 0-2.2 .1-4 0z"/>
<path fill="#cce134" d="M320 144.3l4-.1-2.2 .1-4 0z"/>
<path fill="#cfe235" d="M316 144.4l4-.1-2.2 0-4 .1z"/>
<path fill="#cfe235" d="M326.2 144.2l4 0-2.2 0-4 0z"/>
<path fill="#d3e336" d="M322.2 144.4l4-.2-2.2 0-4 .1z"/>
<path fill="#d5e437" d="M318.1 144.5l4.1-.1-2.2-.1-4 .1z"/>
<path class="m" d="M318.1 144.5l12.1-.3-6.6 .3-11.9-.1z"/>
<path fill="#d4e436" d="M305.8 145.5l12.3-1-6.4-.1-12.2 .6z"/>
<path fill="#cae034" d="M309.8 144.6l4-.2-2.1 0-4.1 .2z"/>
<path fill="#cde134" d="M305.7 144.8l4.1-.2-2.2 0-4 .1z"/>
<path fill="#cfe235" d="M301.6 145.1l4.1-.3-2.1-.1-4.1 .3z"/>
<path fill="#d1e336" d="M311.9 144.6l4.1-.2-2.2 0-4 .2z"/>
<path fill="#d4e436" d="M307.8 144.9l4.1-.3-2.1 0-4.1 .2z"/>
<path fill="#d6e437" d="M303.7 145.3l4.1-.4-2.1-.1-4.1 .3z"/>
<path fill="#d8e537" d="M314 144.8l4.1-.3-2.1-.1-4.1 .2z"/>
<path fill="#dae638" d="M309.9 145.1l4.1-.3-2.1-.2-4.1 .3z"/>
<path fill="#dce638" d="M305.8 145.5l4.1-.4-2.1-.2-4.1 .4z"/>
<path class="m" d="M305.8 145.5l12.3-1-6.4-.1-12.2 .6z"/>
<path fill="#d9e638" d="M293.1 147.1l12.7-1.6-6.3-.5-12.6 1.2z"/>
<path fill="#d1e336" d="M297.4 145.5l4.2-.4-2.1-.1-4.2 .3z"/>
<path fill="#d3e336" d="M293.2 145.9l4.2-.4-2.1-.2-4.1 .4z"/>
<path fill="#d4e436" d="M289 146.4l4.2-.5-2-.2-4.3 .5z"/>
<path fill="#d7e537" d="M299.5 145.7l4.2-.4-2.1-.2-4.2 .4z"/>
<path fill="#d9e638" d="M295.3 146.2l4.2-.5-2.1-.2-4.2 .4z"/>
<path fill="#dae638" d="M291.1 146.7l4.2-.5-2.1-.3-4.2 .5z"/>
<path fill="#dfe738" d="M301.6 146l4.2-.5-2.1-.2-4.2 .4z"/>
<path fill="#e0e738" d="M297.4 146.5l4.2-.5-2.1-.3-4.2 .5z"/>
<path fill="#e1e738" d="M293.1 147.1l4.3-.6-2.1-.3-4.2 .5z"/>
<path class="m" d="M293.1 147.1l12.7-1.6-6.3-.5-12.6 1.2z"/>
<path fill="#dce638" d="M280.2 149.3l12.9-2.2-6.2-.9-12.8 1.8z"/>
<path fill="#d5e437" d="M284.7 147l4.3-.6-2.1-.2-4.2 .5z"/>
<path fill="#d6e537" d="M280.4 147.6l4.3-.6-2-.3-4.3 .6z"/>
<path fill="#d6e537" d="M276.1 148.4l4.3-.8-2-.3-4.3 .7z"/>
<path fill="#dbe638" d="M286.8 147.3l4.3-.6-2.1-.3-4.3 .6z"/>
<path fill="#dce638" d="M282.5 148l4.3-.7-2.1-.3-4.3 .6z"/>
<path fill="#dce638" d="M278.1 148.8l4.4-.8-2.1-.4-4.3 .8z"/>
<path fill="#e2e838" d="M288.9 147.7l4.2-.6-2-.4-4.3 .6z"/>
<path fill="#e3e838" d="M284.5 148.5l4.4-.8-2.1-.4-4.3 .7z"/>
<path fill="#e3e838" d="M280.2 149.3l4.3-.8-2-.5-4.4 .8z"/>
<path class="m" d="M280.2 149.3l12.9-2.2-6.2-.9-12.8 1.8z"/>
<path fill="#dbe638" d="M266.9 152.2l13.3-2.9-6.1-1.3-13.2 2.5z"/>
<path fill="#d8e537" d="M270.6 149.8l6.5-1.2-3-.6-6.6 1.1z"/>
<path fill="#d7e537" d="M263.9 151.3l6.7-1.5-3.1-.7-6.6 1.4z"/>
<path fill="#e1e738" d="M273.6 150.7l6.6-1.4-3.1-.7-6.5 1.2z"/>
<path fill="#dfe738" d="M266.9 152.2l6.7-1.5-3-.9-6.7 1.5z"/>
<path class="m" d="M266.9 152.2l13.3-2.9-6.1-1.3-13.2 2.5z"/>
<path fill="#d8e537" d="M253.4 155.8l13.5-3.6-6-1.7-13.5 3.1z"/>
<path fill="#d6e437" d="M257.2 152.9l6.7-1.6-3-.8-6.7 1.5z"/>
<path fill="#d3e436" d="M250.4 154.6l6.8-1.7-3-.9-6.8 1.6z"/>
<path fill="#dce638" d="M260.2 153.9l6.7-1.7-3-.9-6.7 1.6z"/>
<path fill="#d9e638" d="M253.4 155.8l6.8-1.9-3-1-6.8 1.7z"/>
<path class="m" d="M253.4 155.8l13.5-3.6-6-1.7-13.5 3.1z"/>
<path fill="#d1e336" d="M239.5 160.1l13.9-4.3-6-2.2-13.9 3.9z"/>
<path fill="#d0e235" d="M243.5 156.6l6.9-2-3-1-6.9 1.9z"/>
<path fill="#cce134" d="M236.5 158.7l7-2.1-3-1.1-7 2z"/>
<path fill="#d6e437" d="M246.4 157.8l7-2-3-1.2-6.9 2z"/>
<path fill="#d1e336" d="M239.5 160.1l6.9-2.3-2.9-1.2-7 2.1z"/>
<path class="m" d="M239.5 160.1l13.9-4.3-6-2.2-13.9 3.9z"/>
<path fill="#c7df33" d="M225.2 165.1l14.3-5-6-2.6-14.2 4.6z"/>
<path fill="#c8df33" d="M229.4 161l7.1-2.3-3-1.2-7 2.2z"/>
<path fill="#c3dd32" d="M222.3 163.5l7.1-2.5-2.9-1.3-7.2 2.4z"/>
<path fill="#cce134" d="M232.4 162.5l7.1-2.4-3-1.4-7.1 2.3z"/>
<path fill="#c6df33" d="M225.2 165.1l7.2-2.6-3-1.5-7.1 2.5z"/>
<path class="m" d="M225.2 165.1l14.3-5-6-2.6-14.2 4.6z"/>
<path fill="#bcdb31" d="M210.6 170.8l14.6-5.7-5.9-3-14.5 5.3z"/>
<path fill="#bddb31" d="M215 166.2l7.3-2.7-3-1.4-7.2 2.6z"/>
<path fill="#b8d930" d="M207.7 169.1l7.3-2.9-2.9-1.5-7.3 2.7z"/>
<path fill="#c0dc31" d="M218 167.9l7.2-2.8-2.9-1.6-7.3 2.7z"/>
<path fill="#bada31" d="M210.6 170.8l7.4-2.9-3-1.7-7.3 2.9z"/>
<path class="m" d="M210.6 170.8l14.6-5.7-5.9-3-14.5 5.3z"/>
<path fill="#afd52f" d="M195.7 177.4l14.9-6.6-5.8-3.4-15 6.1z"/>
<path fill="#b1d62f" d="M200.3 172.1l7.4-3-2.9-1.7-7.5 3z"/>
<path fill="#aad32e" d="M192.8 175.4l7.5-3.3-3-1.7-7.5 3.1z"/>
<path fill="#b3d730" d="M203.2 174l7.4-3.2-2.9-1.7-7.4 3z"/>
<path fill="#acd42f" d="M195.7 177.4l7.5-3.4-2.9-1.9-7.5 3.3z"/>
<path class="m" d="M195.7 177.4l14.9-6.6-5.8-3.4-15 6.1z"/>
<path fill="#a1cf2d" d="M180.5 184.6l15.2-7.2-5.9-3.9-15.3 6.9z"/>
<path fill="#a4d02d" d="M185.2 178.8l7.6-3.4-3-1.9-7.6 3.4z"/>
<path fill="#9dcd2c" d="M177.5 182.5l7.7-3.7-3-1.9-7.7 3.5z"/>
<path fill="#a5d12e" d="M188.1 180.9l7.6-3.5-2.9-2-7.6 3.4z"/>
<path fill="#9ecd2c" d="M180.5 184.6l7.6-3.7-2.9-2.1-7.7 3.7z"/>
<path class="m" d="M180.5 184.6l15.2-7.2-5.9-3.9-15.3 6.9z"/>
<path fill="#92c82b" d="M164.8 192.7l15.7-8.1-6-4.2-15.7 7.7z"/>
<path fill="#96ca2b" d="M169.7 186.3l7.8-3.8-3-2.1-7.8 3.8z"/>
<path fill="#8ec62a" d="M161.8 190.3l7.9-4-3-2.1-7.9 3.9z"/>
<path fill="#96ca2b" d="M172.7 188.6l7.8-4-3-2.1-7.8 3.8z"/>
<path fill="#8ec62a" d="M164.8 192.7l7.9-4.1-3-2.3-7.9 4z"/>
<path class="m" d="M164.8 192.7l15.7-8.1-6-4.2-15.7 7.7z"/>
<path fill="#84c22a" d="M148.8 201.5l16-8.8-6-4.6-16.1 8.5z"/>
<path fill="#88c32a" d="M153.8 194.5l8-4.2-3-2.2-8 4.2z"/>
<path fill="#81c12a" d="M145.7 199l8.1-4.5-3-2.2-8.1 4.3z"/>
<path fill="#88c32a" d="M156.9 197l7.9-4.3-3-2.4-8 4.2z"/>
<path fill="#81c12a" d="M148.8 201.5l8.1-4.5-3.1-2.5-8.1 4.5z"/>
<path class="m" d="M148.8 201.5l16-8.8-6-4.6-16.1 8.5z"/>
<path fill="#77bc2b" d="M132.4 211.1l16.4-9.6-6.1-4.9-16.6 9.3z"/>
<path fill="#7abe2a" d="M137.5 203.6l8.2-4.6-3-2.4-8.3 4.5z"/>
<path fill="#74ba2c" d="M129.3 208.4l8.2-4.8-3.1-2.5-8.3 4.8z"/>
<path fill="#79be2a" d="M140.7 206.2l8.1-4.7-3.1-2.5-8.2 4.6z"/>
<path fill="#73ba2c" d="M132.4 211.1l8.3-4.9-3.2-2.6-8.2 4.8z"/>
<path class="m" d="M132.4 211.1l16.4-9.6-6.1-4.9-16.6 9.3z"/>
<path fill="#d7e537" d="M336.9 144.5l11.9-.1-6.9 0-11.7-.2z"/>
<path fill="#cce134" d="M340.3 144.2l3.9 .1-2.3 .1-3.9-.1z"/>
<path fill="#d0e235" d="M336.4 144.2l3.9 0-2.3 .1-3.9-.1z"/>
<path fill="#d3e436" d="M332.4 144.2l4 0-2.3 0-3.9 0z"/>
<path fill="#d3e336" d="M342.6 144.3l3.9 0-2.3 0-3.9-.1z"/>
<path fill="#d7e537" d="M338.6 144.3l4 0-2.3-.1-3.9 0z"/>
<path fill="#dae638" d="M334.6 144.3l4 0-2.2-.1-4 0z"/>
<path fill="#dae638" d="M344.9 144.4l3.9 0-2.3-.1-3.9 0z"/>
<path fill="#dee738" d="M340.9 144.4l4 0-2.3-.1-4 0z"/>
<path fill="#e2e838" d="M336.9 144.5l4-.1-2.3-.1-4 0z"/>
<path class="m" d="M336.9 144.5l11.9-.1-6.9 0-11.7-.2z"/>
<path fill="#e1e738" d="M324.7 145.3l12.2-.8-6.7-.3-12.1 .3z"/>
<path fill="#d6e537" d="M328.4 144.3l4-.1-2.2 0-4 0z"/>
<path fill="#d9e638" d="M324.4 144.5l4-.2-2.2-.1-4 .2z"/>
<path fill="#dce638" d="M320.3 144.7l4.1-.2-2.2-.1-4.1 .1z"/>
<path fill="#dee738" d="M330.6 144.5l4-.2-2.2-.1-4 .1z"/>
<path fill="#e1e738" d="M326.6 144.7l4-.2-2.2-.2-4 .2z"/>
<path fill="#e5e838" d="M322.5 145l4.1-.3-2.2-.2-4.1 .2z"/>
<path fill="#e6e838" d="M332.9 144.7l4-.2-2.3-.2-4 .2z"/>
<path fill="#e9e938" d="M328.8 145l4.1-.3-2.3-.2-4 .2z"/>
<path fill="#ece938" d="M324.7 145.3l4.1-.3-2.2-.3-4.1 .3z"/>
<path class="m" d="M324.7 145.3l12.2-.8-6.7-.3-12.1 .3z"/>
<path fill="#eae938" d="M312.2 146.6l12.5-1.3-6.6-.8-12.3 1z"/>
<path fill="#dfe738" d="M316.2 145l4.1-.3-2.2-.2-4.1 .3z"/>
<path fill="#e2e738" d="M312.1 145.4l4.1-.4-2.2-.2-4.1 .3z"/>
<path fill="#e4e838" d="M307.9 145.8l4.2-.4-2.2-.3-4.1 .4z"/>
<path fill="#e7e838" d="M318.4 145.3l4.1-.3-2.2-.3-4.1 .3z"/>
<path fill="#eae938" d="M314.2 145.7l4.2-.4-2.2-.3-4.1 .4z"/>
<path fill="#ece938" d="M310.1 146.2l4.1-.5-2.1-.3-4.2 .4z"/>
<path fill="#efea38" d="M320.6 145.6l4.1-.3-2.2-.3-4.1 .3z"/>
<path fill="#f0ea38" d="M316.4 146.1l4.2-.5-2.2-.3-4.2 .4z"/>
<path fill="#f1e937" d="M312.2 146.6l4.2-.5-2.2-.4-4.1 .5z"/>
<path class="m" d="M312.2 146.6l12.5-1.3-6.6-.8-12.3 1z"/>
<path fill="#eeea38" d="M299.5 148.6l12.7-2-6.4-1.1-12.7 1.6z"/>
<path fill="#e8e938" d="M302.7 146.8l6.3-.8-3.2-.5-6.3 .7z"/>
<path fill="#eae938" d="M296.3 147.8l6.4-1-3.2-.6-6.4 .9z"/>
<path fill="#f1e937" d="M305.9 147.5l6.3-.9-3.2-.6-6.3 .8z"/>
<path fill="#f1e937" d="M299.5 148.6l6.4-1.1-3.2-.7-6.4 1z"/>
<path class="m" d="M299.5 148.6l12.7-2-6.4-1.1-12.7 1.6z"/>
<path fill="#efea38" d="M286.4 151.3l13.1-2.7-6.4-1.5-12.9 2.2z"/>
<path fill="#ebe938" d="M289.8 148.9l6.5-1.1-3.2-.7-6.4 1z"/>
<path fill="#eae938" d="M283.3 150.2l6.5-1.3-3.1-.8-6.5 1.2z"/>
<path fill="#f2e837" d="M293 149.9l6.5-1.3-3.2-.8-6.5 1.1z"/>
<path fill="#f1e937" d="M286.4 151.3l6.6-1.4-3.2-1-6.5 1.3z"/>
<path class="m" d="M286.4 151.3l13.1-2.7-6.4-1.5-12.9 2.2z"/>
<path fill="#ece938" d="M273.1 154.6l13.3-3.3-6.2-2-13.3 2.9z"/>
<path fill="#e9e938" d="M276.7 151.7l6.6-1.5-3.1-.9-6.6 1.4z"/>
<path fill="#e7e838" d="M270 153.3l6.7-1.6-3.1-1-6.7 1.5z"/>
<path fill="#f0ea38" d="M279.8 152.8l6.6-1.5-3.1-1.1-6.6 1.5z"/>
<path fill="#eeea38" d="M273.1 154.6l6.7-1.8-3.1-1.1-6.7 1.6z"/>
<path class="m" d="M273.1 154.6l13.3-3.3-6.2-2-13.3 2.9z"/>
<path fill="#e5e838" d="M259.4 158.6l13.7-4-6.2-2.4-13.5 3.6z"/>
<path fill="#e3e838" d="M264.5 154.1l4.5-1.2-2.1-.7-4.5 1.1z"/>
<path fill="#e1e738" d="M259.9 155.3l4.6-1.2-2.1-.8-4.5 1.2z"/>
<path fill="#dee738" d="M255.4 156.6l4.5-1.3-2-.8-4.5 1.3z"/>
<path fill="#e8e838" d="M266.5 154.9l4.5-1.2-2-.8-4.5 1.2z"/>
<path fill="#e5e838" d="M262 156.2l4.5-1.3-2-.8-4.6 1.2z"/>
<path fill="#e1e738" d="M257.4 157.6l4.6-1.4-2.1-.9-4.5 1.3z"/>
<path fill="#ece938" d="M268.6 155.8l4.5-1.2-2.1-.9-4.5 1.2z"/>
<path fill="#e9e938" d="M264 157.2l4.6-1.4-2.1-.9-4.5 1.3z"/>
<path fill="#e5e838" d="M259.4 158.6l4.6-1.4-2-1-4.6 1.4z"/>
<path class="m" d="M259.4 158.6l13.7-4-6.2-2.4-13.5 3.6z"/>
<path fill="#dae638" d="M245.5 163.3l13.9-4.7-6-2.8-13.9 4.3z"/>
<path fill="#dae638" d="M249.5 159.3l6.9-2.2-3-1.3-7 2z"/>
<path fill="#d5e437" d="M242.5 161.6l7-2.3-3.1-1.5-6.9 2.3z"/>
<path fill="#dfe738" d="M252.5 160.9l6.9-2.3-3-1.5-6.9 2.2z"/>
<path fill="#d8e538" d="M245.5 163.3l7-2.4-3-1.6-7 2.3z"/>
<path class="m" d="M245.5 163.3l13.9-4.7-6-2.8-13.9 4.3z"/>
<path fill="#cee235" d="M231.2 168.7l14.3-5.4-6-3.2-14.3 5z"/>
<path fill="#cfe235" d="M235.4 164.1l7.1-2.5-3-1.5-7.1 2.4z"/>
<path fill="#c9e033" d="M228.2 166.8l7.2-2.7-3-1.6-7.2 2.6z"/>
<path fill="#d2e336" d="M238.4 165.9l7.1-2.6-3-1.7-7.1 2.5z"/>
<path fill="#cbe134" d="M231.2 168.7l7.2-2.8-3-1.8-7.2 2.7z"/>
<path class="m" d="M231.2 168.7l14.3-5.4-6-3.2-14.3 5z"/>
<path fill="#c0dc31" d="M216.7 174.9l14.5-6.2-6-3.6-14.6 5.7z"/>
<path fill="#c2dd32" d="M221 169.7l7.2-2.9-3-1.7-7.2 2.8z"/>
<path fill="#bcda31" d="M213.6 172.8l7.4-3.1-3-1.8-7.4 2.9z"/>
<path fill="#c4de32" d="M224 171.7l7.2-3-3-1.9-7.2 2.9z"/>
<path fill="#bddb31" d="M216.7 174.9l7.3-3.2-3-2-7.4 3.1z"/>
<path class="m" d="M216.7 174.9l14.5-6.2-6-3.6-14.6 5.7z"/>
<path fill="#b1d62f" d="M201.8 181.8l14.9-6.9-6.1-4.1-14.9 6.6z"/>
<path fill="#b5d730" d="M206.2 176.1l7.4-3.3-3-2-7.4 3.2z"/>
<path fill="#add42f" d="M198.7 179.5l7.5-3.4-3-2.1-7.5 3.4z"/>
<path fill="#b5d830" d="M209.3 178.3l7.4-3.4-3.1-2.1-7.4 3.3z"/>
<path fill="#add42f" d="M201.8 181.8l7.5-3.5-3.1-2.2-7.5 3.4z"/>
<path class="m" d="M201.8 181.8l14.9-6.9-6.1-4.1-14.9 6.6z"/>
<path fill="#a2cf2d" d="M186.6 189.5l15.2-7.7-6.1-4.4-15.2 7.2z"/>
<path fill="#a5d12e" d="M191.2 183.1l7.5-3.6-3-2.1-7.6 3.5z"/>
<path fill="#9ecd2c" d="M183.5 187l7.7-3.9-3.1-2.2-7.6 3.7z"/>
<path fill="#a5d12e" d="M194.2 185.6l7.6-3.8-3.1-2.3-7.5 3.6z"/>
<path fill="#9ecd2c" d="M186.6 189.5l7.6-3.9-3-2.5-7.7 3.9z"/>
<path class="m" d="M186.6 189.5l15.2-7.7-6.1-4.4-15.2 7.2z"/>
<path fill="#92c82b" d="M171 197.9l15.6-8.4-6.1-4.9-15.7 8.1z"/>
<path fill="#96ca2b" d="M175.7 191l7.8-4-3-2.4-7.8 4z"/>
<path fill="#8ec62a" d="M167.9 195.2l7.8-4.2-3-2.4-7.9 4.1z"/>
<path fill="#96ca2b" d="M178.8 193.6l7.8-4.1-3.1-2.5-7.8 4z"/>
<path fill="#8dc62a" d="M171 197.9l7.8-4.3-3.1-2.6-7.8 4.2z"/>
<path class="m" d="M171 197.9l15.6-8.4-6.1-4.9-15.7 8.1z"/>
<path fill="#83c22a" d="M155.1 207.1l15.9-9.2-6.2-5.2-16 8.8z"/>
<path fill="#87c32a" d="M160 199.6l7.9-4.4-3.1-2.5-7.9 4.3z"/>
<path fill="#80c02a" d="M152 204.2l8-4.6-3.1-2.6-8.1 4.5z"/>
<path fill="#87c32a" d="M163.1 202.4l7.9-4.5-3.1-2.7-7.9 4.4z"/>
<path fill="#7fc02a" d="M155.1 207.1l8-4.7-3.1-2.8-8 4.6z"/>
<path class="m" d="M155.1 207.1l15.9-9.2-6.2-5.2-16 8.8z"/>
<path fill="#75bb2b" d="M138.9 217l16.2-9.9-6.3-5.6-16.4 9.6z"/>
<path fill="#79bd2a" d="M143.8 209l8.2-4.8-3.2-2.7-8.1 4.7z"/>
<path fill="#73ba2c" d="M135.6 213.9l8.2-4.9-3.1-2.8-8.3 4.9z"/>
<path fill="#78bd2b" d="M147.1 211.9l8-4.8-3.1-2.9-8.2 4.8z"/>
<path fill="#72b92c" d="M138.9 217l8.2-5.1-3.3-2.9-8.2 4.9z"/>
<path class="m" d="M138.9 217l16.2-9.9-6.3-5.6-16.4 9.6z"/>
<path fill="#d3e436" d="M367.6 145l11.6 .7-7.3 .1-11.4-1z"/>
<path fill="#c6df32" d="M370.8 145.4l2.9 .3-1.8 .1-2.9-.3z"/>
<path fill="#c9e033" d="M368 145.2l2.8 .2-1.8 .1-2.8-.3z"/>
<path fill="#cde134" d="M365.1 145l2.9 .2-1.8 0-2.9-.2z"/>
<path fill="#d0e335" d="M362.2 144.8l2.9 .2-1.8 0-2.8-.2z"/>
<path fill="#cbe134" d="M372.7 145.4l2.8 .3-1.8 0-2.9-.3z"/>
<path fill="#cfe235" d="M369.8 145.2l2.9 .2-1.9 0-2.8-.2z"/>
<path fill="#d2e336" d="M366.9 145l2.9 .2-1.8 0-2.9-.2z"/>
<path fill="#d6e437" d="M364 144.8l2.9 .2-1.8 0-2.9-.2z"/>
<path fill="#d1e335" d="M374.5 145.4l2.9 .2-1.9 .1-2.8-.3z"/>
<path fill="#d4e436" d="M371.6 145.2l2.9 .2-1.8 0-2.9-.2z"/>
<path fill="#d8e537" d="M368.7 145l2.9 .2-1.8 0-2.9-.2z"/>
<path fill="#dbe638" d="M365.8 144.9l2.9 .1-1.8 0-2.9-.2z"/>
<path fill="#d6e437" d="M376.4 145.4l2.8 .3-1.8-.1-2.9-.2z"/>
<path fill="#d9e638" d="M373.5 145.3l2.9 .1-1.9 0-2.9-.2z"/>
<path fill="#dde738" d="M370.6 145.1l2.9 .2-1.9-.1-2.9-.2z"/>
<path fill="#e1e738" d="M367.6 145l3 .1-1.9-.1-2.9-.1z"/>
<path class="m" d="M367.6 145l11.6 .7-7.3 .1-11.4-1z"/>
<path fill="#e2e738" d="M355.8 145l11.8 0-7.1-.2-11.7-.4z"/>
<path fill="#d5e437" d="M359 144.7l3.8 .1-2.3 0-3.9-.2z"/>
<path fill="#d9e638" d="M355.1 144.5l3.9 .2-2.4-.1-3.9-.1z"/>
<path fill="#dee738" d="M351.1 144.5l4 0-2.4 0-3.9-.1z"/>
<path fill="#dce638" d="M361.3 144.8l3.9 .1-2.4-.1-3.8-.1z"/>
<path fill="#e2e738" d="M357.4 144.7l3.9 .1-2.3-.1-3.9-.2z"/>
<path fill="#e6e838" d="M353.5 144.7l3.9 0-2.3-.2-4 0z"/>
<path fill="#e5e838" d="M363.7 144.9l3.9 .1-2.4-.1-3.9-.1z"/>
<path fill="#eae938" d="M359.8 144.9l3.9 0-2.4-.1-3.9-.1z"/>
<path fill="#eeea38" d="M355.8 145l4-.1-2.4-.2-3.9 0z"/>
<path class="m" d="M355.8 145l11.8 0-7.1-.2-11.7-.4z"/>
<path fill="#efea38" d="M343.7 145.5l12.1-.5-7-.6-11.9 .1z"/>
<path fill="#e2e838" d="M347.2 144.5l3.9 0-2.3-.1-3.9 0z"/>
<path fill="#e7e838" d="M343.2 144.6l4-.1-2.3-.1-4 0z"/>
<path fill="#ebe938" d="M339.2 144.8l4-.2-2.3-.2-4 .1z"/>
<path fill="#ebe938" d="M349.5 144.8l4-.1-2.4-.2-3.9 0z"/>
<path fill="#efea38" d="M345.5 144.9l4-.1-2.3-.3-4 .1z"/>
<path fill="#f1e937" d="M341.4 145.1l4.1-.2-2.3-.3-4 .2z"/>
<path fill="#f1e937" d="M351.8 145.1l4-.1-2.3-.3-4 .1z"/>
<path fill="#f3e736" d="M347.8 145.2l4-.1-2.3-.3-4 .1z"/>
<path fill="#f4e635" d="M343.7 145.5l4.1-.3-2.3-.3-4.1 .2z"/>
<path class="m" d="M343.7 145.5l12.1-.5-7-.6-11.9 .1z"/>
<path fill="#f3e735" d="M331.4 146.6l12.3-1.1-6.8-1-12.2 .8z"/>
<path fill="#f0ea38" d="M334.2 145.3l6.1-.4-3.4-.4-6.1 .3z"/>
<path fill="#f2e836" d="M328 145.9l6.2-.6-3.4-.5-6.1 .5z"/>
<path fill="#f5e534" d="M337.6 146l6.1-.5-3.4-.6-6.1 .4z"/>
<path fill="#f6e433" d="M331.4 146.6l6.2-.6-3.4-.7-6.2 .6z"/>
<path class="m" d="M331.4 146.6l12.3-1.1-6.8-1-12.2 .8z"/>
<path fill="#f6e433" d="M318.8 148.4l12.6-1.8-6.7-1.3-12.5 1.3z"/>
<path fill="#f3e735" d="M321.8 146.6l6.2-.7-3.3-.6-6.2 .6z"/>
<path fill="#f4e635" d="M315.5 147.4l6.3-.8-3.3-.7-6.3 .7z"/>
<path fill="#f8e232" d="M325.1 147.4l6.3-.8-3.4-.7-6.2 .7z"/>
<path fill="#f8e132" d="M318.8 148.4l6.3-1-3.3-.8-6.3 .8z"/>
<path class="m" d="M318.8 148.4l12.6-1.8-6.7-1.3-12.5 1.3z"/>
<path fill="#f7e333" d="M305.9 150.8l12.9-2.4-6.6-1.8-12.7 2z"/>
<path fill="#f5e534" d="M309.1 148.4l6.4-1-3.3-.8-6.3 .9z"/>
<path fill="#f5e534" d="M302.7 149.6l6.4-1.2-3.2-.9-6.4 1.1z"/>
<path fill="#f8e132" d="M312.4 149.5l6.4-1.1-3.3-1-6.4 1z"/>
<path fill="#f8e132" d="M305.9 150.8l6.5-1.3-3.3-1.1-6.4 1.2z"/>
<path class="m" d="M305.9 150.8l12.9-2.4-6.6-1.8-12.7 2z"/>
<path fill="#f6e433" d="M292.8 153.9l13.1-3.1-6.4-2.2-13.1 2.7z"/>
<path fill="#f5e534" d="M296.2 151l6.5-1.4-3.2-1-6.5 1.3z"/>
<path fill="#f4e635" d="M289.6 152.5l6.6-1.5-3.2-1.1-6.6 1.4z"/>
<path fill="#f8e232" d="M299.4 152.3l6.5-1.5-3.2-1.2-6.5 1.4z"/>
<path fill="#f7e333" d="M292.8 153.9l6.6-1.6-3.2-1.3-6.6 1.5z"/>
<path class="m" d="M292.8 153.9l13.1-3.1-6.4-2.2-13.1 2.7z"/>
<path fill="#f4e635" d="M279.3 157.6l13.5-3.7-6.4-2.6-13.3 3.3z"/>
<path fill="#f3e736" d="M282.9 154.2l6.7-1.7-3.2-1.2-6.6 1.5z"/>
<path fill="#f2e837" d="M276.2 156l6.7-1.8-3.1-1.4-6.7 1.8z"/>
<path fill="#f6e434" d="M286.1 155.7l6.7-1.8-3.2-1.4-6.7 1.7z"/>
<path fill="#f4e635" d="M279.3 157.6l6.8-1.9-3.2-1.5-6.7 1.8z"/>
<path class="m" d="M279.3 157.6l13.5-3.7-6.4-2.6-13.3 3.3z"/>
<path fill="#efea38" d="M265.6 162.1l13.7-4.5-6.2-3-13.7 4z"/>
<path fill="#efea38" d="M269.4 158l6.8-2-3.1-1.4-6.8 1.9z"/>
<path fill="#eae938" d="M262.5 160.2l6.9-2.2-3.1-1.5-6.9 2.1z"/>
<path fill="#f1e937" d="M272.5 159.8l6.8-2.2-3.1-1.6-6.8 2z"/>
<path fill="#ede938" d="M265.6 162.1l6.9-2.3-3.1-1.8-6.9 2.2z"/>
<path class="m" d="M265.6 162.1l13.7-4.5-6.2-3-13.7 4z"/>
<path fill="#e1e738" d="M251.6 167.2l14-5.1-6.2-3.5-13.9 4.7z"/>
<path fill="#e3e838" d="M256.9 161.2l4.6-1.5-2.1-1.1-4.6 1.5z"/>
<path fill="#dfe738" d="M252.2 162.8l4.7-1.6-2.1-1.1-4.6 1.6z"/>
<path fill="#d9e638" d="M247.5 164.5l4.7-1.7-2-1.1-4.7 1.6z"/>
<path fill="#e6e838" d="M258.9 162.4l4.6-1.6-2-1.1-4.6 1.5z"/>
<path fill="#e1e738" d="M254.3 164.1l4.6-1.7-2-1.2-4.7 1.6z"/>
<path fill="#dbe638" d="M249.6 165.8l4.7-1.7-2.1-1.3-4.7 1.7z"/>
<path fill="#e7e838" d="M261 163.7l4.6-1.6-2.1-1.3-4.6 1.6z"/>
<path fill="#e2e738" d="M256.3 165.4l4.7-1.7-2.1-1.3-4.6 1.7z"/>
<path fill="#dce638" d="M251.6 167.2l4.7-1.8-2-1.3-4.7 1.7z"/>
<path class="m" d="M251.6 167.2l14-5.1-6.2-3.5-13.9 4.7z"/>
<path fill="#d1e336" d="M237.4 173.1l14.2-5.9-6.1-3.9-14.3 5.4z"/>
<path fill="#d4e436" d="M241.5 167.9l7-2.7-3-1.9-7.1 2.6z"/>
<path fill="#cde134" d="M234.3 170.8l7.2-2.9-3.1-2-7.2 2.8z"/>
<path fill="#d5e437" d="M244.5 170.1l7.1-2.9-3.1-2-7 2.7z"/>
<path fill="#cde135" d="M237.4 173.1l7.1-3-3-2.2-7.2 2.9z"/>
<path class="m" d="M237.4 173.1l14.2-5.9-6.1-3.9-14.3 5.4z"/>
<path fill="#c1dd32" d="M222.8 179.7l14.6-6.6-6.2-4.4-14.5 6.2z"/>
<path fill="#c4de32" d="M227 173.9l7.3-3.1-3.1-2.1-7.2 3z"/>
<path fill="#bddb31" d="M219.7 177.2l7.3-3.3-3-2.2-7.3 3.2z"/>
<path fill="#c5de32" d="M230.1 176.3l7.3-3.2-3.1-2.3-7.3 3.1z"/>
<path fill="#bddb31" d="M222.8 179.7l7.3-3.4-3.1-2.4-7.3 3.3z"/>
<path class="m" d="M222.8 179.7l14.6-6.6-6.2-4.4-14.5 6.2z"/>
<path fill="#b1d62f" d="M208 187l14.8-7.3-6.1-4.8-14.9 6.9z"/>
<path fill="#b6d830" d="M212.3 180.7l7.4-3.5-3-2.3-7.4 3.4z"/>
<path fill="#add42f" d="M204.8 184.3l7.5-3.6-3-2.4-7.5 3.5z"/>
<path fill="#b5d830" d="M215.4 183.2l7.4-3.5-3.1-2.5-7.4 3.5z"/>
<path fill="#acd42f" d="M208 187l7.4-3.8-3.1-2.5-7.5 3.6z"/>
<path class="m" d="M208 187l14.8-7.3-6.1-4.8-14.9 6.9z"/>
<path fill="#a1cf2d" d="M192.8 195l15.2-8-6.2-5.2-15.2 7.7z"/>
<path fill="#a5d12e" d="M197.3 188.1l7.5-3.8-3-2.5-7.6 3.8z"/>
<path fill="#9dcd2c" d="M189.7 192.2l7.6-4.1-3.1-2.5-7.6 3.9z"/>
<path fill="#a4d02d" d="M200.4 190.9l7.6-3.9-3.2-2.7-7.5 3.8z"/>
<path fill="#9ccc2c" d="M192.8 195l7.6-4.1-3.1-2.8-7.6 4.1z"/>
<path class="m" d="M192.8 195l15.2-8-6.2-5.2-15.2 7.7z"/>
<path fill="#90c72a" d="M177.3 203.8l15.5-8.8-6.2-5.5-15.6 8.4z"/>
<path fill="#95c92b" d="M182 196.4l7.7-4.2-3.1-2.7-7.8 4.1z"/>
<path fill="#8dc52a" d="M174.2 200.8l7.8-4.4-3.2-2.8-7.8 4.3z"/>
<path fill="#93c92b" d="M185.1 199.3l7.7-4.3-3.1-2.8-7.7 4.2z"/>
<path fill="#8bc52a" d="M177.3 203.8l7.8-4.5-3.1-2.9-7.8 4.4z"/>
<path class="m" d="M177.3 203.8l15.5-8.8-6.2-5.5-15.6 8.4z"/>
<path fill="#81c12a" d="M161.6 213.3l15.7-9.5-6.3-5.9-15.9 9.2z"/>
<path fill="#85c32a" d="M166.3 205.3l7.9-4.5-3.2-2.9-7.9 4.5z"/>
<path fill="#7ec02a" d="M158.3 210.1l8-4.8-3.2-2.9-8 4.7z"/>
<path fill="#84c22a" d="M169.5 208.5l7.8-4.7-3.1-3-7.9 4.5z"/>
<path fill="#7cbf2a" d="M161.6 213.3l7.9-4.8-3.2-3.2-8 4.8z"/>
<path class="m" d="M161.6 213.3l15.7-9.5-6.3-5.9-15.9 9.2z"/>
<path fill="#73ba2c" d="M145.5 223.5l16.1-10.2-6.5-6.2-16.2 9.9z"/>
<path fill="#77bc2b" d="M150.3 215l8-4.9-3.2-3-8 4.8z"/>
<path fill="#70b82d" d="M142.2 220.2l8.1-5.2-3.2-3.1-8.2 5.1z"/>
<path fill="#75bb2b" d="M153.6 218.3l8-5-3.3-3.2-8 4.9z"/>
<path fill="#6fb82d" d="M145.5 223.5l8.1-5.2-3.3-3.3-8.1 5.2z"/>
<path class="m" d="M145.5 223.5l16.1-10.2-6.5-6.2-16.2 9.9z"/>
<path fill="#d9e638" d="M386.7 146.1l11.5 .9-7.7-.1-11.3-1.2z"/>
<path fill="#cce134" d="M389.6 146.5l2.9 .3-2 .1-2.8-.4z"/>
<path fill="#d0e235" d="M386.8 146.2l2.8 .3-1.9 0-2.8-.3z"/>
<path fill="#d4e436" d="M383.9 145.9l2.9 .3-1.9 0-2.8-.3z"/>
<path fill="#d7e537" d="M381.1 145.7l2.8 .2-1.8 0-2.9-.2z"/>
<path fill="#d1e336" d="M391.5 146.5l2.9 .3-1.9 0-2.9-.3z"/>
<path fill="#d5e437" d="M388.7 146.3l2.8 .2-1.9 0-2.8-.3z"/>
<path fill="#d9e538" d="M385.8 146l2.9 .3-1.9-.1-2.9-.3z"/>
<path fill="#dde738" d="M383 145.8l2.8 .2-1.9-.1-2.8-.2z"/>
<path fill="#d6e537" d="M393.5 146.6l2.8 .3-1.9-.1-2.9-.3z"/>
<path fill="#dae638" d="M390.6 146.3l2.9 .3-2-.1-2.8-.2z"/>
<path fill="#dee738" d="M387.7 146.1l2.9 .2-1.9 0-2.9-.3z"/>
<path fill="#e3e838" d="M384.8 145.9l2.9 .2-1.9-.1-2.8-.2z"/>
<path fill="#dbe638" d="M395.4 146.7l2.8 .3-1.9-.1-2.8-.3z"/>
<path fill="#e0e738" d="M392.5 146.5l2.9 .2-1.9-.1-2.9-.3z"/>
<path fill="#e5e838" d="M389.6 146.3l2.9 .2-1.9-.2-2.9-.2z"/>
<path fill="#e9e938" d="M386.7 146.1l2.9 .2-1.9-.2-2.9-.2z"/>
<path class="m" d="M386.7 146.1l11.5 .9-7.7-.1-11.3-1.2z"/>
<path fill="#ebe938" d="M375 145.8l11.7 .3-7.5-.4-11.6-.7z"/>
<path fill="#dde738" d="M377.9 145.5l3.8 .2-2.5 0-3.8-.3z"/>
<path fill="#e3e838" d="M374 145.3l3.9 .2-2.5-.1-3.9-.2z"/>
<path fill="#e8e938" d="M370.1 145.2l3.9 .1-2.5-.1-3.9-.2z"/>
<path fill="#e5e838" d="M380.3 145.7l3.9 .2-2.5-.2-3.8-.2z"/>
<path fill="#ebe938" d="M376.4 145.6l3.9 .1-2.4-.2-3.9-.2z"/>
<path fill="#f0ea38" d="M372.5 145.5l3.9 .1-2.4-.3-3.9-.1z"/>
<path fill="#ede938" d="M382.8 146l3.9 .1-2.5-.2-3.9-.2z"/>
<path fill="#f1e937" d="M378.9 145.9l3.9 .1-2.5-.3-3.9-.1z"/>
<path fill="#f3e736" d="M375 145.8l3.9 .1-2.5-.3-3.9-.1z"/>
<path class="m" d="M375 145.8l11.7 .3-7.5-.4-11.6-.7z"/>
<path fill="#f4e635" d="M363 146.2l12-.4-7.4-.8-11.8 0z"/>
<path fill="#f0ea38" d="M365.4 145.3l5.9 0-3.7-.3-5.8-.1z"/>
<path fill="#f3e736" d="M359.4 145.5l6-.2-3.6-.4-6 .1z"/>
<path fill="#f5e534" d="M369 145.9l6-.1-3.7-.5-5.9 0z"/>
<path fill="#f7e332" d="M363 146.2l6-.3-3.6-.6-6 .2z"/>
<path class="m" d="M363 146.2l12-.4-7.4-.8-11.8 0z"/>
<path fill="#f8e132" d="M350.7 147.1l12.3-.9-7.2-1.2-12.1 .5z"/>
<path fill="#f4e635" d="M354.2 145.4l4-.1-2.4-.3-4 .1z"/>
<path fill="#f6e434" d="M350.1 145.7l4.1-.3-2.4-.3-4 .1z"/>
<path fill="#f7e333" d="M346 145.9l4.1-.2-2.3-.5-4.1 .3z"/>
<path fill="#f7e333" d="M356.5 145.9l4.1-.2-2.4-.4-4 .1z"/>
<path fill="#f8e132" d="M352.5 146.1l4-.2-2.3-.5-4.1 .3z"/>
<path fill="#f8de31" d="M348.4 146.5l4.1-.4-2.4-.4-4.1 .2z"/>
<path fill="#f8dd31" d="M358.9 146.4l4.1-.2-2.4-.5-4.1 .2z"/>
<path fill="#f8da30" d="M354.8 146.7l4.1-.3-2.4-.5-4 .2z"/>
<path fill="#f8d72f" d="M350.7 147.1l4.1-.4-2.3-.6-4.1 .4z"/>
<path class="m" d="M350.7 147.1l12.3-.9-7.2-1.2-12.1 .5z"/>
<path fill="#f8d930" d="M338.2 148.6l12.5-1.5-7-1.6-12.3 1.1z"/>
<path fill="#f8e232" d="M341.9 146.3l4.1-.4-2.3-.4-4.1 .3z"/>
<path fill="#f8df31" d="M337.8 146.7l4.1-.4-2.3-.5-4.1 .4z"/>
<path fill="#f8dd31" d="M333.7 147.2l4.1-.5-2.3-.5-4.1 .4z"/>
<path fill="#f8db30" d="M344.2 146.9l4.2-.4-2.4-.6-4.1 .4z"/>
<path fill="#f8d930" d="M340.1 147.3l4.1-.4-2.3-.6-4.1 .4z"/>
<path fill="#f8d72f" d="M335.9 147.9l4.2-.6-2.3-.6-4.1 .5z"/>
<path fill="#f8d52f" d="M346.6 147.5l4.1-.4-2.3-.6-4.2 .4z"/>
<path fill="#f8d32e" d="M342.4 148l4.2-.5-2.4-.6-4.1 .4z"/>
<path fill="#f8d22e" d="M338.2 148.6l4.2-.6-2.3-.7-4.2 .6z"/>
<path class="m" d="M338.2 148.6l12.5-1.5-7-1.6-12.3 1.1z"/>
<path fill="#f8d62f" d="M325.5 150.8l12.7-2.2-6.8-2-12.6 1.8z"/>
<path fill="#f8da30" d="M328.5 148.5l6.3-1-3.4-.9-6.3 .8z"/>
<path fill="#f8d930" d="M322.1 149.5l6.4-1-3.4-1.1-6.3 1z"/>
<path fill="#f8d22e" d="M331.9 149.7l6.3-1.1-3.4-1.1-6.3 1z"/>
<path fill="#f8d22e" d="M325.5 150.8l6.4-1.1-3.4-1.2-6.4 1z"/>
<path class="m" d="M325.5 150.8l12.7-2.2-6.8-2-12.6 1.8z"/>
<path fill="#f8d62f" d="M312.5 153.7l13-2.9-6.7-2.4-12.9 2.4z"/>
<path fill="#f8d930" d="M315.7 150.8l6.4-1.3-3.3-1.1-6.4 1.1z"/>
<path fill="#f8da30" d="M309.2 152.2l6.5-1.4-3.3-1.3-6.5 1.3z"/>
<path fill="#f8d32e" d="M319 152.2l6.5-1.4-3.4-1.3-6.4 1.3z"/>
<path fill="#f8d42f" d="M312.5 153.7l6.5-1.5-3.3-1.4-6.5 1.4z"/>
<path class="m" d="M312.5 153.7l13-2.9-6.7-2.4-12.9 2.4z"/>
<path fill="#f8db30" d="M299.2 157.2l13.3-3.5-6.6-2.9-13.1 3.1z"/>
<path fill="#f8dc31" d="M302.6 153.7l6.6-1.5-3.3-1.4-6.5 1.5z"/>
<path fill="#f8df31" d="M296 155.4l6.6-1.7-3.2-1.4-6.6 1.6z"/>
<path fill="#f8d72f" d="M305.9 155.4l6.6-1.7-3.3-1.5-6.6 1.5z"/>
<path fill="#f8db30" d="M299.2 157.2l6.7-1.8-3.3-1.7-6.6 1.7z"/>
<path class="m" d="M299.2 157.2l13.3-3.5-6.6-2.9-13.1 3.1z"/>
<path fill="#f7e333" d="M285.7 161.4l13.5-4.2-6.4-3.3-13.5 3.7z"/>
<path fill="#f7e332" d="M289.3 157.3l6.7-1.9-3.2-1.5-6.7 1.8z"/>
<path fill="#f5e534" d="M282.5 159.4l6.8-2.1-3.2-1.6-6.8 1.9z"/>
<path fill="#f8e031" d="M292.5 159.2l6.7-2-3.2-1.8-6.7 1.9z"/>
<path fill="#f7e333" d="M285.7 161.4l6.8-2.2-3.2-1.9-6.8 2.1z"/>
<path class="m" d="M285.7 161.4l13.5-4.2-6.4-3.3-13.5 3.7z"/>
<path fill="#f2e837" d="M272 166.3l13.7-4.9-6.4-3.8-13.7 4.5z"/>
<path fill="#f3e736" d="M275.7 161.7l6.8-2.3-3.2-1.8-6.8 2.2z"/>
<path fill="#f0ea38" d="M268.8 164.1l6.9-2.4-3.2-1.9-6.9 2.3z"/>
<path fill="#f4e635" d="M278.9 163.7l6.8-2.3-3.2-2-6.8 2.3z"/>
<path fill="#f0ea38" d="M272 166.3l6.9-2.6-3.2-2-6.9 2.4z"/>
<path class="m" d="M272 166.3l13.7-4.9-6.4-3.8-13.7 4.5z"/>
<path fill="#e4e838" d="M257.9 171.9l14.1-5.6-6.4-4.2-14 5.1z"/>
<path fill="#e9e938" d="M263.1 165.1l4.6-1.7-2.1-1.3-4.6 1.6z"/>
<path fill="#e3e838" d="M258.4 166.8l4.7-1.7-2.1-1.4-4.7 1.7z"/>
<path fill="#dde738" d="M253.7 168.7l4.7-1.9-2.1-1.4-4.7 1.8z"/>
<path fill="#eae938" d="M265.2 166.5l4.6-1.7-2.1-1.4-4.6 1.7z"/>
<path fill="#e4e838" d="M260.5 168.3l4.7-1.8-2.1-1.4-4.7 1.7z"/>
<path fill="#dde738" d="M255.8 170.2l4.7-1.9-2.1-1.5-4.7 1.9z"/>
<path fill="#eae938" d="M267.3 168.1l4.7-1.8-2.2-1.5-4.6 1.7z"/>
<path fill="#e4e838" d="M262.6 169.9l4.7-1.8-2.1-1.6-4.7 1.8z"/>
<path fill="#dde738" d="M257.9 171.9l4.7-2-2.1-1.6-4.7 1.9z"/>
<path class="m" d="M257.9 171.9l14.1-5.6-6.4-4.2-14 5.1z"/>
<path fill="#d2e336" d="M243.6 178.1l14.3-6.2-6.3-4.7-14.2 5.9z"/>
<path fill="#d6e437" d="M247.7 172.4l7.1-3-3.2-2.2-7.1 2.9z"/>
<path fill="#cde135" d="M240.5 175.5l7.2-3.1-3.2-2.3-7.1 3z"/>
<path fill="#d5e437" d="M250.8 174.9l7.1-3-3.1-2.5-7.1 3z"/>
<path fill="#cde134" d="M243.6 178.1l7.2-3.2-3.1-2.5-7.2 3.1z"/>
<path class="m" d="M243.6 178.1l14.3-6.2-6.3-4.7-14.2 5.9z"/>
<path fill="#c0dc31" d="M229.1 185.2l14.5-7.1-6.2-5-14.6 6.6z"/>
<path fill="#c4de32" d="M233.2 178.8l7.3-3.3-3.1-2.4-7.3 3.2z"/>
<path fill="#bcdb31" d="M225.9 182.3l7.3-3.5-3.1-2.5-7.3 3.4z"/>
<path fill="#c3de32" d="M236.4 181.6l7.2-3.5-3.1-2.6-7.3 3.3z"/>
<path fill="#bbda31" d="M229.1 185.2l7.3-3.6-3.2-2.8-7.3 3.5z"/>
<path class="m" d="M229.1 185.2l14.5-7.1-6.2-5-14.6 6.6z"/>
<path fill="#afd52f" d="M214.3 192.9l14.8-7.7-6.3-5.5-14.8 7.3z"/>
<path fill="#b6d830" d="M220 183.8l4.9-2.4-2.1-1.7-4.9 2.3z"/>
<path fill="#b0d52f" d="M215 186.3l5-2.5-2.1-1.8-5 2.5z"/>
<path fill="#aad32e" d="M210 188.9l5-2.6-2.1-1.8-4.9 2.5z"/>
<path fill="#b5d730" d="M222.1 185.7l4.9-2.5-2.1-1.8-4.9 2.4z"/>
<path fill="#afd52f" d="M217.1 188.2l5-2.5-2.1-1.9-5 2.5z"/>
<path fill="#a8d22e" d="M212.1 190.8l5-2.6-2.1-1.9-5 2.6z"/>
<path fill="#b3d730" d="M224.2 187.6l4.9-2.4-2.1-2-4.9 2.5z"/>
<path fill="#add42f" d="M219.2 190.2l5-2.6-2.1-1.9-5 2.5z"/>
<path fill="#a7d22e" d="M214.3 192.9l4.9-2.7-2.1-2-5 2.6z"/>
<path class="m" d="M214.3 192.9l14.8-7.7-6.3-5.5-14.8 7.3z"/>
<path fill="#9ecd2c" d="M199.2 201.3l15.1-8.4-6.3-5.9-15.2 8z"/>
<path fill="#a4d02d" d="M205 191.5l5-2.6-2-1.9-5.1 2.6z"/>
<path fill="#9fce2d" d="M200 194.2l5-2.7-2.1-1.9-5 2.7z"/>
<path fill="#99cb2c" d="M194.9 197l5.1-2.8-2.1-1.9-5.1 2.7z"/>
<path fill="#a3d02d" d="M207.1 193.5l5-2.7-2.1-1.9-5 2.6z"/>
<path fill="#9ecd2c" d="M202.1 196.3l5-2.8-2.1-2-5 2.7z"/>
<path fill="#98cb2c" d="M197 199.1l5.1-2.8-2.1-2.1-5.1 2.8z"/>
<path fill="#a2cf2d" d="M209.3 195.6l5-2.7-2.2-2.1-5 2.7z"/>
<path fill="#9ccd2c" d="M204.2 198.4l5.1-2.8-2.2-2.1-5 2.8z"/>
<path fill="#96ca2b" d="M199.2 201.3l5-2.9-2.1-2.1-5.1 2.8z"/>
<path class="m" d="M199.2 201.3l15.1-8.4-6.3-5.9-15.2 8z"/>
<path fill="#8cc52a" d="M183.8 210.4l15.4-9.1-6.4-6.3-15.5 8.8z"/>
<path fill="#93c92b" d="M189.8 199.9l5.1-2.9-2.1-2-5.1 2.9z"/>
<path fill="#8ec62a" d="M184.6 202.9l5.2-3-2.1-2-5.2 2.9z"/>
<path fill="#89c42a" d="M179.5 205.9l5.1-3-2.1-2.1-5.2 3z"/>
<path fill="#92c82b" d="M191.9 202.1l5.1-3-2.1-2.1-5.1 2.9z"/>
<path fill="#8cc52a" d="M186.8 205.1l5.1-3-2.1-2.2-5.2 3z"/>
<path fill="#87c32a" d="M181.6 208.1l5.2-3-2.2-2.2-5.1 3z"/>
<path fill="#90c72a" d="M194.1 204.3l5.1-3-2.2-2.2-5.1 3z"/>
<path fill="#8bc52a" d="M188.9 207.3l5.2-3-2.2-2.2-5.1 3z"/>
<path fill="#86c32a" d="M183.8 210.4l5.1-3.1-2.1-2.2-5.2 3z"/>
<path class="m" d="M183.8 210.4l15.4-9.1-6.4-6.3-15.5 8.8z"/>
<path fill="#7dbf2a" d="M168.1 220.3l15.7-9.9-6.5-6.6-15.7 9.5z"/>
<path fill="#82c12a" d="M172.7 211.8l7.8-4.8-3.2-3.2-7.8 4.7z"/>
<path fill="#7abe2a" d="M164.8 216.7l7.9-4.9-3.2-3.3-7.9 4.8z"/>
<path fill="#80c02a" d="M176 215.3l7.8-4.9-3.3-3.4-7.8 4.8z"/>
<path fill="#78bd2a" d="M168.1 220.3l7.9-5-3.3-3.5-7.9 4.9z"/>
<path class="m" d="M168.1 220.3l15.7-9.9-6.5-6.6-15.7 9.5z"/>
<path fill="#6fb82d" d="M152.2 230.8l15.9-10.5-6.5-7-16.1 10.2z"/>
<path fill="#74ba2c" d="M156.9 221.8l7.9-5.1-3.2-3.4-8 5z"/>
<path fill="#6db72e" d="M148.8 227.1l8.1-5.3-3.3-3.5-8.1 5.2z"/>
<path fill="#72b92c" d="M160.2 225.4l7.9-5.1-3.3-3.6-7.9 5.1z"/>
<path fill="#6bb62f" d="M152.2 230.8l8-5.4-3.3-3.6-8.1 5.3z"/>
<path class="m" d="M152.2 230.8l15.9-10.5-6.5-7-16.1 10.2z"/>
<path fill="#dee738" d="M406.1 147.7l11.5 1.1-8.1-.4-11.3-1.4z"/>
<path fill="#cfe235" d="M408.7 148l2.8 .4-2 0-2.8-.4z"/>
<path fill="#d4e436" d="M405.9 147.7l2.8 .3-2 0-2.8-.4z"/>
<path fill="#d8e537" d="M403.1 147.4l2.8 .3-2-.1-2.8-.3z"/>
<path fill="#dce638" d="M400.2 147.1l2.9 .3-2-.1-2.9-.3z"/>
<path fill="#d4e436" d="M410.7 148.1l2.8 .4-2-.1-2.8-.4z"/>
<path fill="#d8e538" d="M407.9 147.8l2.8 .3-2-.1-2.8-.3z"/>
<path fill="#dde738" d="M405 147.5l2.9 .3-2-.1-2.8-.3z"/>
<path fill="#e2e738" d="M402.1 147.3l2.9 .2-1.9-.1-2.9-.3z"/>
<path fill="#d9e638" d="M412.7 148.3l2.9 .3-2.1-.1-2.8-.4z"/>
<path fill="#dee738" d="M409.9 148l2.8 .3-2-.2-2.8-.3z"/>
<path fill="#e3e838" d="M407 147.7l2.9 .3-2-.2-2.9-.3z"/>
<path fill="#e8e938" d="M404.1 147.5l2.9 .2-2-.2-2.9-.2z"/>
<path fill="#dee738" d="M414.7 148.5l2.9 .3-2-.2-2.9-.3z"/>
<path fill="#e4e838" d="M411.9 148.2l2.8 .3-2-.2-2.8-.3z"/>
<path fill="#e9e938" d="M409 147.9l2.9 .3-2-.2-2.9-.3z"/>
<path fill="#eeea38" d="M406.1 147.7l2.9 .2-2-.2-2.9-.2z"/>
<path class="m" d="M406.1 147.7l11.5 1.1-8.1-.4-11.3-1.4z"/>
<path fill="#f0ea38" d="M394.4 147.2l11.7 .5-7.9-.7-11.5-.9z"/>
<path fill="#e3e838" d="M397 146.8l3.8 .3-2.6-.1-3.8-.4z"/>
<path fill="#e9e938" d="M393.1 146.6l3.9 .2-2.6-.2-3.8-.3z"/>
<path fill="#efea38" d="M389.3 146.4l3.8 .2-2.5-.3-3.9-.2z"/>
<path fill="#ebe938" d="M399.6 147.1l3.9 .3-2.7-.3-3.8-.3z"/>
<path fill="#f0ea38" d="M395.7 146.9l3.9 .2-2.6-.3-3.9-.2z"/>
<path fill="#f3e736" d="M391.8 146.8l3.9 .1-2.6-.3-3.8-.2z"/>
<path fill="#f1e937" d="M402.2 147.5l3.9 .2-2.6-.3-3.9-.3z"/>
<path fill="#f3e735" d="M398.3 147.3l3.9 .2-2.6-.4-3.9-.2z"/>
<path fill="#f6e434" d="M394.4 147.2l3.9 .1-2.6-.4-3.9-.1z"/>
<path class="m" d="M394.4 147.2l11.7 .5-7.9-.7-11.5-.9z"/>
<path fill="#f7e333" d="M382.4 147.3l12-.1-7.7-1.1-11.7-.3z"/>
<path fill="#f2e837" d="M385.3 146.3l4 .1-2.6-.3-3.9-.1z"/>
<path fill="#f4e635" d="M381.4 146.2l3.9 .1-2.5-.3-3.9-.1z"/>
<path fill="#f6e433" d="M377.4 146.3l4-.1-2.5-.3-3.9-.1z"/>
<path fill="#f5e534" d="M387.9 146.7l3.9 .1-2.5-.4-4-.1z"/>
<path fill="#f7e333" d="M383.9 146.7l4 0-2.6-.4-3.9-.1z"/>
<path fill="#f8e031" d="M379.9 146.7l4 0-2.5-.5-4 .1z"/>
<path fill="#f8e232" d="M390.4 147.2l4 0-2.6-.4-3.9-.1z"/>
<path fill="#f8dd31" d="M386.4 147.2l4 0-2.5-.5-4 0z"/>
<path fill="#f8d930" d="M382.4 147.3l4-.1-2.5-.5-4 0z"/>
<path class="m" d="M382.4 147.3l12-.1-7.7-1.1-11.7-.3z"/>
<path fill="#f8d72f" d="M370.2 148l12.2-.7-7.4-1.5-12 .4z"/>
<path fill="#f8e232" d="M373.4 146.3l4 0-2.4-.5-4 .1z"/>
<path fill="#f8de31" d="M369.4 146.5l4-.2-2.4-.4-4 .1z"/>
<path fill="#f8da30" d="M365.4 146.7l4-.2-2.4-.5-4 .2z"/>
<path fill="#f8db30" d="M375.9 146.9l4-.2-2.5-.4-4 0z"/>
<path fill="#f8d72f" d="M371.9 147.1l4-.2-2.5-.6-4 .2z"/>
<path fill="#f8d42e" d="M367.8 147.3l4.1-.2-2.5-.6-4 .2z"/>
<path fill="#f8d52f" d="M378.4 147.5l4-.2-2.5-.6-4 .2z"/>
<path fill="#f8d12e" d="M374.3 147.7l4.1-.2-2.5-.6-4 .2z"/>
<path fill="#f8ce2d" d="M370.2 148l4.1-.3-2.4-.6-4.1 .2z"/>
<path class="m" d="M370.2 148l12.2-.7-7.4-1.5-12 .4z"/>
<path fill="#f8ce2d" d="M357.8 149.4l12.4-1.4-7.2-1.8-12.3 .9z"/>
<path fill="#f8d72f" d="M361.3 147l4.1-.3-2.4-.5-4.1 .2z"/>
<path fill="#f8d42f" d="M357.2 147.3l4.1-.3-2.4-.6-4.1 .3z"/>
<path fill="#f8d22e" d="M353.1 147.8l4.1-.5-2.4-.6-4.1 .4z"/>
<path fill="#f8d12e" d="M363.7 147.7l4.1-.4-2.4-.6-4.1 .3z"/>
<path fill="#f8ce2d" d="M359.6 148.1l4.1-.4-2.4-.7-4.1 .3z"/>
<path fill="#f8cc2d" d="M355.4 148.5l4.2-.4-2.4-.8-4.1 .5z"/>
<path fill="#f8cb2c" d="M366.1 148.4l4.1-.4-2.4-.7-4.1 .4z"/>
<path fill="#f8c82c" d="M362 148.9l4.1-.5-2.4-.7-4.1 .4z"/>
<path fill="#f8c62b" d="M357.8 149.4l4.2-.5-2.4-.8-4.2 .4z"/>
<path class="m" d="M357.8 149.4l12.4-1.4-7.2-1.8-12.3 .9z"/>
<path fill="#f8c92c" d="M345.2 151.4l12.6-2-7.1-2.3-12.5 1.5z"/>
<path fill="#f8ce2d" d="M348 148.9l6.2-.8-3.5-1-6.2 .7z"/>
<path fill="#f8cc2d" d="M341.7 149.9l6.3-1-3.5-1.1-6.3 .8z"/>
<path fill="#f8c62b" d="M351.5 150.3l6.3-.9-3.6-1.3-6.2 .8z"/>
<path fill="#f8c52b" d="M345.2 151.4l6.3-1.1-3.5-1.4-6.3 1z"/>
<path class="m" d="M345.2 151.4l12.6-2-7.1-2.3-12.5 1.5z"/>
<path fill="#f8c82c" d="M332.3 154l12.9-2.6-7-2.8-12.7 2.2z"/>
<path fill="#f8cb2c" d="M335.3 151l6.4-1.1-3.5-1.3-6.3 1.1z"/>
<path fill="#f8cb2c" d="M328.9 152.3l6.4-1.3-3.4-1.3-6.4 1.1z"/>
<path fill="#f8c52b" d="M338.7 152.6l6.5-1.2-3.5-1.5-6.4 1.1z"/>
<path fill="#f8c62b" d="M332.3 154l6.4-1.4-3.4-1.6-6.4 1.3z"/>
<path class="m" d="M332.3 154l12.9-2.6-7-2.8-12.7 2.2z"/>
<path fill="#f8cc2d" d="M319.2 157.3l13.1-3.3-6.8-3.2-13 2.9z"/>
<path fill="#f8cd2d" d="M322.4 153.8l6.5-1.5-3.4-1.5-6.5 1.4z"/>
<path fill="#f8cf2d" d="M315.8 155.4l6.6-1.6-3.4-1.6-6.5 1.5z"/>
<path fill="#f8c82c" d="M325.8 155.5l6.5-1.5-3.4-1.7-6.5 1.5z"/>
<path fill="#f8cc2d" d="M319.2 157.3l6.6-1.8-3.4-1.7-6.6 1.6z"/>
<path class="m" d="M319.2 157.3l13.1-3.3-6.8-3.2-13 2.9z"/>
<path fill="#f8d42e" d="M305.8 161.2l13.4-3.9-6.7-3.6-13.3 3.5z"/>
<path fill="#f8d32e" d="M309.2 157.2l6.6-1.8-3.3-1.7-6.6 1.7z"/>
<path fill="#f8d82f" d="M302.5 159.1l6.7-1.9-3.3-1.8-6.7 1.8z"/>
<path fill="#f8d02e" d="M312.5 159.2l6.7-1.9-3.4-1.9-6.6 1.8z"/>
<path fill="#f8d62f" d="M305.8 161.2l6.7-2-3.3-2-6.7 1.9z"/>
<path class="m" d="M305.8 161.2l13.4-3.9-6.7-3.6-13.3 3.5z"/>
<path fill="#f8e031" d="M292.2 165.9l13.6-4.7-6.6-4-13.5 4.2z"/>
<path fill="#f8dd31" d="M295.8 161.2l6.7-2.1-3.3-1.9-6.7 2z"/>
<path fill="#f7e333" d="M289 163.5l6.8-2.3-3.3-2-6.8 2.2z"/>
<path fill="#f8dc30" d="M299.1 163.5l6.7-2.3-3.3-2.1-6.7 2.1z"/>
<path fill="#f7e332" d="M292.2 165.9l6.9-2.4-3.3-2.3-6.8 2.3z"/>
<path class="m" d="M292.2 165.9l13.6-4.7-6.6-4-13.5 4.2z"/>
<path fill="#f2e836" d="M278.4 171.2l13.8-5.3-6.5-4.5-13.7 4.9z"/>
<path fill="#f4e635" d="M282.1 166l6.9-2.5-3.3-2.1-6.8 2.3z"/>
<path fill="#f1e938" d="M275.2 168.6l6.9-2.6-3.2-2.3-6.9 2.6z"/>
<path fill="#f4e635" d="M285.4 168.5l6.8-2.6-3.2-2.4-6.9 2.5z"/>
<path fill="#f0ea38" d="M278.4 171.2l7-2.7-3.3-2.5-6.9 2.6z"/>
<path class="m" d="M278.4 171.2l13.8-5.3-6.5-4.5-13.7 4.9z"/>
<path fill="#e2e738" d="M264.3 177.2l14.1-6-6.4-4.9-14.1 5.6z"/>
<path fill="#eae938" d="M269.4 169.7l4.7-1.9-2.1-1.5-4.7 1.8z"/>
<path fill="#e3e838" d="M264.8 171.6l4.6-1.9-2.1-1.6-4.7 1.8z"/>
<path fill="#dce638" d="M260.1 173.6l4.7-2-2.2-1.7-4.7 2z"/>
<path fill="#e9e938" d="M271.6 171.4l4.6-1.9-2.1-1.7-4.7 1.9z"/>
<path fill="#e2e738" d="M266.9 173.3l4.7-1.9-2.2-1.7-4.6 1.9z"/>
<path fill="#dbe638" d="M262.2 175.4l4.7-2.1-2.1-1.7-4.7 2z"/>
<path fill="#e8e938" d="M273.7 173.1l4.7-1.9-2.2-1.7-4.6 1.9z"/>
<path fill="#e1e738" d="M269.1 175.2l4.6-2.1-2.1-1.7-4.7 1.9z"/>
<path fill="#d9e638" d="M264.3 177.2l4.8-2-2.2-1.9-4.7 2.1z"/>
<path class="m" d="M264.3 177.2l14.1-6-6.4-4.9-14.1 5.6z"/>
<path fill="#cfe235" d="M250 184l14.3-6.8-6.4-5.3-14.3 6.2z"/>
<path fill="#d6e537" d="M255.3 175.6l4.8-2-2.2-1.7-4.7 2z"/>
<path fill="#d0e235" d="M250.6 177.8l4.7-2.2-2.1-1.7-4.8 2.1z"/>
<path fill="#cae034" d="M245.8 180l4.8-2.2-2.2-1.8-4.8 2.1z"/>
<path fill="#d5e437" d="M257.5 177.5l4.7-2.1-2.1-1.8-4.8 2z"/>
<path fill="#cfe235" d="M252.7 179.7l4.8-2.2-2.2-1.9-4.7 2.2z"/>
<path fill="#c8e033" d="M247.9 181.9l4.8-2.2-2.1-1.9-4.8 2.2z"/>
<path fill="#d3e436" d="M259.6 179.4l4.7-2.2-2.1-1.8-4.7 2.1z"/>
<path fill="#cde134" d="M254.8 181.6l4.8-2.2-2.1-1.9-4.8 2.2z"/>
<path fill="#c6df33" d="M250 184l4.8-2.4-2.1-1.9-4.8 2.2z"/>
<path class="m" d="M250 184l14.3-6.8-6.4-5.3-14.3 6.2z"/>
<path fill="#bcdb31" d="M235.5 191.4l14.5-7.4-6.4-5.9-14.5 7.1z"/>
<path fill="#c3de32" d="M240.9 182.3l4.9-2.3-2.2-1.9-4.8 2.3z"/>
<path fill="#bedb31" d="M236.1 184.7l4.8-2.4-2.1-1.9-4.8 2.3z"/>
<path fill="#b8d930" d="M231.2 187.1l4.9-2.4-2.1-2-4.9 2.5z"/>
<path fill="#c2dd32" d="M243.1 184.3l4.8-2.4-2.1-1.9-4.9 2.3z"/>
<path fill="#bcdb31" d="M238.2 186.7l4.9-2.4-2.2-2-4.8 2.4z"/>
<path fill="#b6d830" d="M233.3 189.2l4.9-2.5-2.1-2-4.9 2.4z"/>
<path fill="#c0dc31" d="M245.2 186.4l4.8-2.4-2.1-2.1-4.8 2.4z"/>
<path fill="#bada31" d="M240.4 188.8l4.8-2.4-2.1-2.1-4.9 2.4z"/>
<path fill="#b4d730" d="M235.5 191.4l4.9-2.6-2.2-2.1-4.9 2.5z"/>
<path class="m" d="M235.5 191.4l14.5-7.4-6.4-5.9-14.5 7.1z"/>
<path fill="#aad32e" d="M220.7 199.5l14.8-8.1-6.4-6.2-14.8 7.7z"/>
<path fill="#b2d62f" d="M226.3 189.7l4.9-2.6-2.1-1.9-4.9 2.4z"/>
<path fill="#acd42f" d="M221.4 192.3l4.9-2.6-2.1-2.1-5 2.6z"/>
<path fill="#a6d12e" d="M216.4 195l5-2.7-2.2-2.1-4.9 2.7z"/>
<path fill="#b0d52f" d="M228.4 191.8l4.9-2.6-2.1-2.1-4.9 2.6z"/>
<path fill="#aad32e" d="M223.5 194.5l4.9-2.7-2.1-2.1-4.9 2.6z"/>
<path fill="#a4d02d" d="M218.5 197.2l5-2.7-2.1-2.2-5 2.7z"/>
<path fill="#aed52f" d="M230.6 194l4.9-2.6-2.2-2.2-4.9 2.6z"/>
<path fill="#a8d22e" d="M225.7 196.7l4.9-2.7-2.2-2.2-4.9 2.7z"/>
<path fill="#a2cf2d" d="M220.7 199.5l5-2.8-2.2-2.2-5 2.7z"/>
<path class="m" d="M220.7 199.5l14.8-8.1-6.4-6.2-14.8 7.7z"/>
<path fill="#99cb2c" d="M205.7 208.3l15-8.8-6.4-6.6-15.1 8.4z"/>
<path fill="#a0ce2d" d="M211.4 197.8l5-2.8-2.1-2.1-5 2.7z"/>
<path fill="#9acc2c" d="M206.4 200.6l5-2.8-2.1-2.2-5.1 2.8z"/>
<path fill="#95c92b" d="M201.3 203.6l5.1-3-2.2-2.2-5 2.9z"/>
<path fill="#9ece2d" d="M213.5 200l5-2.8-2.1-2.2-5 2.8z"/>
<path fill="#99cb2c" d="M208.5 202.9l5-2.9-2.1-2.2-5 2.8z"/>
<path fill="#93c82b" d="M203.5 205.9l5-3-2.1-2.3-5.1 3z"/>
<path fill="#9ccd2c" d="M215.7 202.4l5-2.9-2.2-2.3-5 2.8z"/>
<path fill="#96ca2b" d="M210.7 205.3l5-2.9-2.2-2.4-5 2.9z"/>
<path fill="#90c72a" d="M205.7 208.3l5-3-2.2-2.4-5 3z"/>
<path class="m" d="M205.7 208.3l15-8.8-6.4-6.6-15.1 8.4z"/>
<path fill="#88c42a" d="M190.4 217.8l15.3-9.5-6.5-7-15.4 9.1z"/>
<path fill="#8ec62a" d="M196.2 206.6l5.1-3-2.1-2.3-5.1 3z"/>
<path fill="#89c42a" d="M191.1 209.6l5.1-3-2.1-2.3-5.2 3z"/>
<path fill="#84c22a" d="M186 212.8l5.1-3.2-2.2-2.3-5.1 3.1z"/>
<path fill="#8dc52a" d="M198.4 208.9l5.1-3-2.2-2.3-5.1 3z"/>
<path fill="#88c42a" d="M193.3 212.1l5.1-3.2-2.2-2.3-5.1 3z"/>
<path fill="#83c12a" d="M188.2 215.3l5.1-3.2-2.2-2.5-5.1 3.2z"/>
<path fill="#8bc52a" d="M200.6 211.4l5.1-3.1-2.2-2.4-5.1 3z"/>
<path fill="#86c32a" d="M195.5 214.6l5.1-3.2-2.2-2.5-5.1 3.2z"/>
<path fill="#81c12a" d="M190.4 217.8l5.1-3.2-2.2-2.5-5.1 3.2z"/>
<path class="m" d="M190.4 217.8l15.3-9.5-6.5-7-15.4 9.1z"/>
<path fill="#78bd2a" d="M174.8 228l15.6-10.2-6.6-7.4-15.7 9.9z"/>
<path fill="#7fc02a" d="M180.8 216.1l5.2-3.3-2.2-2.4-5.2 3.2z"/>
<path fill="#7abe2a" d="M175.6 219.4l5.2-3.3-2.2-2.5-5.2 3.3z"/>
<path fill="#76bb2b" d="M170.3 222.8l5.3-3.4-2.2-2.5-5.3 3.4z"/>
<path fill="#7dbf2a" d="M183 218.5l5.2-3.2-2.2-2.5-5.2 3.3z"/>
<path fill="#78bd2a" d="M177.8 221.9l5.2-3.4-2.2-2.4-5.2 3.3z"/>
<path fill="#74bb2c" d="M172.6 225.3l5.2-3.4-2.2-2.5-5.3 3.4z"/>
<path fill="#7bbf2a" d="M185.2 221.1l5.2-3.3-2.2-2.5-5.2 3.2z"/>
<path fill="#77bc2b" d="M180 224.5l5.2-3.4-2.2-2.6-5.2 3.4z"/>
<path fill="#72ba2c" d="M174.8 228l5.2-3.5-2.2-2.6-5.2 3.4z"/>
<path class="m" d="M174.8 228l15.6-10.2-6.6-7.4-15.7 9.9z"/>
<path fill="#6bb630" d="M159 238.8l15.8-10.8-6.7-7.7-15.9 10.5z"/>
<path fill="#6fb82d" d="M163.5 229.3l8-5.3-3.4-3.7-7.9 5.1z"/>
<path fill="#6ab532" d="M155.6 234.7l7.9-5.4-3.3-3.9-8 5.4z"/>
<path fill="#6db62e" d="M166.9 233.3l7.9-5.3-3.3-4-8 5.3z"/>
<path fill="#68b535" d="M159 238.8l7.9-5.5-3.4-4-7.9 5.4z"/>
<path class="m" d="M159 238.8l15.8-10.8-6.7-7.7-15.9 10.5z"/>
<path fill="#dfe738" d="M425.8 149.8l11.5 1.3-8.4-.7-11.3-1.6z"/>
<path fill="#d1e335" d="M428.2 150.1l2.8 .4-2.1-.1-2.8-.4z"/>
<path fill="#d5e437" d="M425.3 149.7l2.9 .4-2.1-.1-2.8-.5z"/>
<path fill="#d9e638" d="M422.5 149.3l2.8 .4-2-.2-2.9-.4z"/>
<path fill="#dfe738" d="M419.6 149l2.9 .3-2.1-.2-2.8-.3z"/>
<path fill="#d5e437" d="M430.2 150.3l2.9 .4-2.1-.2-2.8-.4z"/>
<path fill="#d9e638" d="M427.4 149.9l2.8 .4-2-.2-2.9-.4z"/>
<path fill="#dfe738" d="M424.5 149.5l2.9 .4-2.1-.2-2.8-.4z"/>
<path fill="#e4e838" d="M421.7 149.2l2.8 .3-2-.2-2.9-.3z"/>
<path fill="#d9e638" d="M432.3 150.5l2.9 .4-2.1-.2-2.9-.4z"/>
<path fill="#dfe738" d="M429.5 150.1l2.8 .4-2.1-.2-2.8-.4z"/>
<path fill="#e4e838" d="M426.6 149.8l2.9 .3-2.1-.2-2.9-.4z"/>
<path fill="#eae938" d="M423.7 149.5l2.9 .3-2.1-.3-2.8-.3z"/>
<path fill="#dee738" d="M434.4 150.7l2.9 .4-2.1-.2-2.9-.4z"/>
<path fill="#e4e838" d="M431.6 150.4l2.8 .3-2.1-.2-2.8-.4z"/>
<path fill="#e9e938" d="M428.7 150.1l2.9 .3-2.1-.3-2.9-.3z"/>
<path fill="#efea38" d="M425.8 149.8l2.9 .3-2.1-.3-2.9-.3z"/>
<path class="m" d="M425.8 149.8l11.5 1.3-8.4-.7-11.3-1.6z"/>
<path fill="#f1e937" d="M414.1 149.1l11.7 .7-8.2-1-11.5-1.1z"/>
<path fill="#e6e838" d="M416.5 148.7l3.8 .3-2.7-.2-3.8-.4z"/>
<path fill="#ede938" d="M412.6 148.3l3.9 .4-2.7-.3-3.9-.4z"/>
<path fill="#f1e937" d="M408.7 148.1l3.9 .2-2.7-.3-3.8-.3z"/>
<path fill="#ede938" d="M419.2 149l3.8 .4-2.7-.4-3.8-.3z"/>
<path fill="#f1e937" d="M415.3 148.8l3.9 .2-2.7-.3-3.9-.4z"/>
<path fill="#f4e635" d="M411.4 148.6l3.9 .2-2.7-.5-3.9-.2z"/>
<path fill="#f2e837" d="M421.9 149.5l3.9 .3-2.8-.4-3.8-.4z"/>
<path fill="#f4e635" d="M418 149.3l3.9 .2-2.7-.5-3.9-.2z"/>
<path fill="#f7e333" d="M414.1 149.1l3.9 .2-2.7-.5-3.9-.2z"/>
<path class="m" d="M414.1 149.1l11.7 .7-8.2-1-11.5-1.1z"/>
<path fill="#f8e031" d="M402.1 149l12 .1-8-1.4-11.7-.5z"/>
<path fill="#f4e635" d="M404.8 147.9l3.9 .2-2.6-.4-3.9-.2z"/>
<path fill="#f6e433" d="M400.9 147.8l3.9 .1-2.6-.4-3.9-.2z"/>
<path fill="#f8e132" d="M396.9 147.7l4 .1-2.6-.5-3.9-.1z"/>
<path fill="#f7e333" d="M407.5 148.4l3.9 .2-2.7-.5-3.9-.2z"/>
<path fill="#f8e031" d="M403.5 148.3l4 .1-2.7-.5-3.9-.1z"/>
<path fill="#f8db30" d="M399.5 148.3l4 0-2.6-.5-4-.1z"/>
<path fill="#f8df31" d="M410.1 149l4 .1-2.7-.5-3.9-.2z"/>
<path fill="#f8da30" d="M406.1 148.9l4 .1-2.6-.6-4-.1z"/>
<path fill="#f8d52f" d="M402.1 149l4-.1-2.6-.6-4 0z"/>
<path class="m" d="M402.1 149l12 .1-8-1.4-11.7-.5z"/>
<path fill="#f8d12e" d="M390 149.5l12.1-.5-7.7-1.8-12 .1z"/>
<path fill="#f8dc30" d="M393 147.7l3.9 0-2.5-.5-4 0z"/>
<path fill="#f8d72f" d="M388.9 147.8l4.1-.1-2.6-.5-4 0z"/>
<path fill="#f8d32e" d="M384.9 148l4-.2-2.5-.6-4 .1z"/>
<path fill="#f8d62f" d="M395.5 148.4l4-.1-2.6-.6-3.9 0z"/>
<path fill="#f8d12e" d="M391.5 148.5l4-.1-2.5-.7-4.1 .1z"/>
<path fill="#f8cd2d" d="M387.4 148.7l4.1-.2-2.6-.7-4 .2z"/>
<path fill="#f8d02e" d="M398.1 149.1l4-.1-2.6-.7-4 .1z"/>
<path fill="#f8cb2d" d="M394.1 149.2l4-.1-2.6-.7-4 .1z"/>
<path fill="#f8c72c" d="M390 149.5l4.1-.3-2.6-.7-4.1 .2z"/>
<path class="m" d="M390 149.5l12.1-.5-7.7-1.8-12 .1z"/>
<path fill="#f8c62b" d="M377.6 150.6l12.4-1.1-7.6-2.2-12.2 .7z"/>
<path fill="#f8cf2d" d="M380.9 148.2l4-.2-2.5-.7-4 .2z"/>
<path fill="#f8cb2c" d="M376.8 148.5l4.1-.3-2.5-.7-4.1 .2z"/>
<path fill="#f8c82c" d="M372.7 148.8l4.1-.3-2.5-.8-4.1 .3z"/>
<path fill="#f8c92c" d="M383.4 148.9l4-.2-2.5-.7-4 .2z"/>
<path fill="#f8c62b" d="M379.3 149.3l4.1-.4-2.5-.7-4.1 .3z"/>
<path fill="#f8c32b" d="M375.1 149.7l4.2-.4-2.5-.8-4.1 .3z"/>
<path fill="#f8c42b" d="M385.9 149.8l4.1-.3-2.6-.8-4 .2z"/>
<path fill="#f8c12a" d="M381.8 150.2l4.1-.4-2.5-.9-4.1 .4z"/>
<path fill="#f8bf2a" d="M377.6 150.6l4.2-.4-2.5-.9-4.2 .4z"/>
<path class="m" d="M377.6 150.6l12.4-1.1-7.6-2.2-12.2 .7z"/>
<path fill="#f8bf2a" d="M365 152.4l12.6-1.8-7.4-2.6-12.4 1.4z"/>
<path fill="#f8c42b" d="M367.7 149.9l6.2-.7-3.7-1.2-6.2 .6z"/>
<path fill="#f8c12a" d="M361.4 150.8l6.3-.9-3.7-1.3-6.2 .8z"/>
<path fill="#f8be2a" d="M371.4 151.4l6.2-.8-3.7-1.4-6.2 .7z"/>
<path fill="#f8bc29" d="M365 152.4l6.4-1-3.7-1.5-6.3 .9z"/>
<path class="m" d="M365 152.4l12.6-1.8-7.4-2.6-12.4 1.4z"/>
<path fill="#f8bd29" d="M352.2 154.8l12.8-2.4-7.2-3-12.6 2z"/>
<path fill="#f8c02a" d="M355.1 151.8l6.3-1-3.6-1.4-6.3 .9z"/>
<path fill="#f8bf2a" d="M348.7 153l6.4-1.2-3.6-1.5-6.3 1.1z"/>
<path fill="#f8bc29" d="M358.7 153.5l6.3-1.1-3.6-1.6-6.3 1z"/>
<path fill="#f8bc29" d="M352.2 154.8l6.5-1.3-3.6-1.7-6.4 1.2z"/>
<path class="m" d="M352.2 154.8l12.8-2.4-7.2-3-12.6 2z"/>
<path fill="#f8bf2a" d="M339.2 157.9l13-3.1-7-3.4-12.9 2.6z"/>
<path fill="#f8c02a" d="M342.2 154.3l6.5-1.3-3.5-1.6-6.5 1.2z"/>
<path fill="#f8c22a" d="M335.7 155.8l6.5-1.5-3.5-1.7-6.4 1.4z"/>
<path fill="#f8bd29" d="M345.8 156.3l6.4-1.5-3.5-1.8-6.5 1.3z"/>
<path fill="#f8bf2a" d="M339.2 157.9l6.6-1.6-3.6-2-6.5 1.5z"/>
<path class="m" d="M339.2 157.9l13-3.1-7-3.4-12.9 2.6z"/>
<path fill="#f8c62b" d="M326 161.6l13.2-3.7-6.9-3.9-13.1 3.3z"/>
<path fill="#f8c52b" d="M329.2 157.5l6.5-1.7-3.4-1.8-6.5 1.5z"/>
<path fill="#f8c92c" d="M322.6 159.4l6.6-1.9-3.4-2-6.6 1.8z"/>
<path fill="#f8c32b" d="M332.6 159.7l6.6-1.8-3.5-2.1-6.5 1.7z"/>
<path fill="#f8c82c" d="M326 161.6l6.6-1.9-3.4-2.2-6.6 1.9z"/>
<path class="m" d="M326 161.6l13.2-3.7-6.9-3.9-13.1 3.3z"/>
<path fill="#f8d22e" d="M312.5 166l13.5-4.4-6.8-4.3-13.4 3.9z"/>
<path fill="#f8cf2d" d="M315.9 161.4l6.7-2-3.4-2.1-6.7 1.9z"/>
<path fill="#f8d52f" d="M309.2 163.5l6.7-2.1-3.4-2.2-6.7 2z"/>
<path fill="#f8ce2d" d="M319.3 163.7l6.7-2.1-3.4-2.2-6.7 2z"/>
<path fill="#f8d52f" d="M312.5 166l6.8-2.3-3.4-2.3-6.7 2.1z"/>
<path class="m" d="M312.5 166l13.5-4.4-6.8-4.3-13.4 3.9z"/>
<path fill="#f8e032" d="M298.9 171.1l13.6-5.1-6.7-4.8-13.6 4.7z"/>
<path fill="#f8dc30" d="M302.4 165.9l6.8-2.4-3.4-2.3-6.7 2.3z"/>
<path fill="#f7e333" d="M295.5 168.4l6.9-2.5-3.3-2.4-6.9 2.4z"/>
<path fill="#f8dd31" d="M305.7 168.5l6.8-2.5-3.3-2.5-6.8 2.4z"/>
<path fill="#f6e433" d="M298.9 171.1l6.8-2.6-3.3-2.6-6.9 2.5z"/>
<path class="m" d="M298.9 171.1l13.6-5.1-6.7-4.8-13.6 4.7z"/>
<path fill="#f1e937" d="M285 176.9l13.9-5.8-6.7-5.2-13.8 5.3z"/>
<path fill="#f4e635" d="M288.6 171.1l6.9-2.7-3.3-2.5-6.8 2.6z"/>
<path fill="#efea38" d="M281.7 174l6.9-2.9-3.2-2.6-7 2.7z"/>
<path fill="#f2e836" d="M292 174l6.9-2.9-3.4-2.7-6.9 2.7z"/>
<path fill="#ebe938" d="M285 176.9l7-2.9-3.4-2.9-6.9 2.9z"/>
<path class="m" d="M285 176.9l13.9-5.8-6.7-5.2-13.8 5.3z"/>
<path fill="#dce638" d="M270.9 183.4l14.1-6.5-6.6-5.7-14.1 6z"/>
<path fill="#e6e838" d="M275.9 175l4.7-2-2.2-1.8-4.7 1.9z"/>
<path fill="#dfe738" d="M271.2 177.1l4.7-2.1-2.2-1.9-4.6 2.1z"/>
<path fill="#d8e537" d="M266.5 179.2l4.7-2.1-2.1-1.9-4.8 2z"/>
<path fill="#e4e838" d="M278.1 177l4.7-2.1-2.2-1.9-4.7 2z"/>
<path fill="#dce638" d="M273.4 179.1l4.7-2.1-2.2-2-4.7 2.1z"/>
<path fill="#d6e437" d="M268.7 181.3l4.7-2.2-2.2-2-4.7 2.1z"/>
<path fill="#e2e738" d="M280.3 179l4.7-2.1-2.2-2-4.7 2.1z"/>
<path fill="#dae638" d="M275.6 181.2l4.7-2.2-2.2-2-4.7 2.1z"/>
<path fill="#d3e436" d="M270.9 183.4l4.7-2.2-2.2-2.1-4.7 2.2z"/>
<path class="m" d="M270.9 183.4l14.1-6.5-6.6-5.7-14.1 6z"/>
<path fill="#c9e033" d="M256.6 190.6l14.3-7.2-6.6-6.2-14.3 6.8z"/>
<path fill="#d2e336" d="M261.8 181.4l4.7-2.2-2.2-2-4.7 2.2z"/>
<path fill="#cbe134" d="M257 183.7l4.8-2.3-2.2-2-4.8 2.2z"/>
<path fill="#c4de32" d="M252.2 186.1l4.8-2.4-2.2-2.1-4.8 2.4z"/>
<path fill="#cfe235" d="M263.9 183.5l4.8-2.2-2.2-2.1-4.7 2.2z"/>
<path fill="#c9e033" d="M259.2 185.9l4.7-2.4-2.1-2.1-4.8 2.3z"/>
<path fill="#c2dd32" d="M254.4 188.3l4.8-2.4-2.2-2.2-4.8 2.4z"/>
<path fill="#cde134" d="M266.1 185.7l4.8-2.3-2.2-2.1-4.8 2.2z"/>
<path fill="#c6df32" d="M261.4 188.1l4.7-2.4-2.2-2.2-4.7 2.4z"/>
<path fill="#c0dc31" d="M256.6 190.6l4.8-2.5-2.2-2.2-4.8 2.4z"/>
<path class="m" d="M256.6 190.6l14.3-7.2-6.6-6.2-14.3 6.8z"/>
<path fill="#b6d830" d="M242 198.4l14.6-7.8-6.6-6.6-14.5 7.4z"/>
<path fill="#bedc31" d="M247.4 188.5l4.8-2.4-2.2-2.1-4.8 2.4z"/>
<path fill="#b8d930" d="M242.5 191l4.9-2.5-2.2-2.1-4.8 2.4z"/>
<path fill="#b2d62f" d="M237.7 193.6l4.8-2.6-2.1-2.2-4.9 2.6z"/>
<path fill="#bcdb31" d="M249.6 190.8l4.8-2.5-2.2-2.2-4.8 2.4z"/>
<path fill="#b6d830" d="M244.7 193.3l4.9-2.5-2.2-2.3-4.9 2.5z"/>
<path fill="#b0d52f" d="M239.8 196l4.9-2.7-2.2-2.3-4.8 2.6z"/>
<path fill="#bada31" d="M251.7 193.1l4.9-2.5-2.2-2.3-4.8 2.5z"/>
<path fill="#b3d730" d="M246.9 195.7l4.8-2.6-2.1-2.3-4.9 2.5z"/>
<path fill="#add42f" d="M242 198.4l4.9-2.7-2.2-2.4-4.9 2.7z"/>
<path class="m" d="M242 198.4l14.6-7.8-6.6-6.6-14.5 7.4z"/>
<path fill="#a3d02d" d="M227.3 206.9l14.7-8.5-6.5-7-14.8 8.1z"/>
<path fill="#acd42f" d="M232.8 196.3l4.9-2.7-2.2-2.2-4.9 2.6z"/>
<path fill="#a6d12e" d="M227.8 199.1l5-2.8-2.2-2.3-4.9 2.7z"/>
<path fill="#a0ce2d" d="M222.9 201.9l4.9-2.8-2.1-2.4-5 2.8z"/>
<path fill="#a9d22e" d="M234.9 198.7l4.9-2.7-2.1-2.4-4.9 2.7z"/>
<path fill="#a3d02d" d="M230 201.5l4.9-2.8-2.1-2.4-5 2.8z"/>
<path fill="#9ecd2c" d="M225.1 204.4l4.9-2.9-2.2-2.4-4.9 2.8z"/>
<path fill="#a6d12e" d="M237.1 201.2l4.9-2.8-2.2-2.4-4.9 2.7z"/>
<path fill="#a1cf2d" d="M232.2 204l4.9-2.8-2.2-2.5-4.9 2.8z"/>
<path fill="#9bcc2c" d="M227.3 206.9l4.9-2.9-2.2-2.5-4.9 2.9z"/>
<path class="m" d="M227.3 206.9l14.7-8.5-6.5-7-14.8 8.1z"/>
<path fill="#92c82b" d="M212.3 216.1l15-9.2-6.6-7.4-15 8.8z"/>
<path fill="#9acc2c" d="M217.9 204.8l5-2.9-2.2-2.4-5 2.9z"/>
<path fill="#94c92b" d="M212.9 207.8l5-3-2.2-2.4-5 2.9z"/>
<path fill="#8ec62a" d="M207.8 210.8l5.1-3-2.2-2.5-5 3z"/>
<path fill="#98ca2b" d="M220.1 207.3l5-2.9-2.2-2.5-5 2.9z"/>
<path fill="#92c82b" d="M215.1 210.3l5-3-2.2-2.5-5 3z"/>
<path fill="#8cc52a" d="M210.1 213.4l5-3.1-2.2-2.5-5.1 3z"/>
<path fill="#95c92b" d="M222.3 209.9l5-3-2.2-2.5-5 2.9z"/>
<path fill="#8fc62a" d="M217.3 213l5-3.1-2.2-2.6-5 3z"/>
<path fill="#8ac42a" d="M212.3 216.1l5-3.1-2.2-2.7-5 3.1z"/>
<path class="m" d="M212.3 216.1l15-9.2-6.6-7.4-15 8.8z"/>
<path fill="#82c12a" d="M197.1 226l15.2-9.9-6.6-7.8-15.3 9.5z"/>
<path fill="#89c42a" d="M202.8 214l5-3.2-2.1-2.5-5.1 3.1z"/>
<path fill="#84c22a" d="M197.7 217.2l5.1-3.2-2.2-2.6-5.1 3.2z"/>
<path fill="#7fc02a" d="M192.6 220.5l5.1-3.3-2.2-2.6-5.1 3.2z"/>
<path fill="#87c32a" d="M205 216.6l5.1-3.2-2.3-2.6-5 3.2z"/>
<path fill="#82c12a" d="M199.9 219.9l5.1-3.3-2.2-2.6-5.1 3.2z"/>
<path fill="#7cbf2a" d="M194.8 223.2l5.1-3.3-2.2-2.7-5.1 3.3z"/>
<path fill="#84c22a" d="M207.2 219.3l5.1-3.2-2.2-2.7-5.1 3.2z"/>
<path fill="#7fc02a" d="M202.2 222.6l5-3.3-2.2-2.7-5.1 3.3z"/>
<path fill="#7abe2a" d="M197.1 226l5.1-3.4-2.3-2.7-5.1 3.3z"/>
<path class="m" d="M197.1 226l15.2-9.9-6.6-7.8-15.3 9.5z"/>
<path fill="#73ba2c" d="M181.6 236.5l15.5-10.5-6.7-8.2-15.6 10.2z"/>
<path fill="#78bd2b" d="M186 226.9l7.7-5.1-3.3-4-7.8 5z"/>
<path fill="#71b92d" d="M178.2 232.1l7.8-5.2-3.4-4.1-7.8 5.2z"/>
<path fill="#75bb2b" d="M189.4 231.2l7.7-5.2-3.4-4.2-7.7 5.1z"/>
<path fill="#6eb72d" d="M181.6 236.5l7.8-5.3-3.4-4.3-7.8 5.2z"/>
<path class="m" d="M181.6 236.5l15.5-10.5-6.7-8.2-15.6 10.2z"/>
<path fill="#68b536" d="M166 247.6l15.6-11.1-6.8-8.5-15.8 10.8z"/>
<path fill="#6cb62e" d="M171.9 234.3l5.2-3.6-2.3-2.7-5.2 3.5z"/>
<path fill="#69b534" d="M166.6 237.9l5.3-3.6-2.3-2.8-5.3 3.6z"/>
<path fill="#66b439" d="M161.3 241.7l5.3-3.8-2.3-2.8-5.3 3.7z"/>
<path fill="#6bb631" d="M174.1 237.2l5.3-3.6-2.3-2.9-5.2 3.6z"/>
<path fill="#68b536" d="M168.9 240.8l5.2-3.6-2.2-2.9-5.3 3.6z"/>
<path fill="#67b43e" d="M163.6 244.6l5.3-3.8-2.3-2.9-5.3 3.8z"/>
<path fill="#69b533" d="M176.5 240.1l5.1-3.6-2.2-2.9-5.3 3.6z"/>
<path fill="#67b439" d="M171.2 243.8l5.3-3.7-2.4-2.9-5.2 3.6z"/>
<path fill="#68b545" d="M166 247.6l5.2-3.8-2.3-3-5.3 3.8z"/>
<path class="m" d="M166 247.6l15.6-11.1-6.8-8.5-15.8 10.8z"/>
<path fill="#f1e937" d="M434.1 151.5l11.8 1-8.6-1.4-11.5-1.3z"/>
<path fill="#e5e838" d="M436.3 151l3.8 .5-2.8-.4-3.8-.5z"/>
<path fill="#ede938" d="M432.4 150.6l3.9 .4-2.8-.4-3.8-.4z"/>
<path fill="#f1e937" d="M428.6 150.3l3.8 .3-2.7-.4-3.9-.4z"/>
<path fill="#ece938" d="M439.1 151.5l3.9 .4-2.9-.4-3.8-.5z"/>
<path fill="#f1e937" d="M435.3 151.2l3.8 .3-2.8-.5-3.9-.4z"/>
<path fill="#f4e635" d="M431.3 150.9l4 .3-2.9-.6-3.8-.3z"/>
<path fill="#f1e937" d="M442 152.1l3.9 .4-2.9-.6-3.9-.4z"/>
<path fill="#f4e635" d="M438.1 151.8l3.9 .3-2.9-.6-3.8-.3z"/>
<path fill="#f6e433" d="M434.1 151.5l4 .3-2.8-.6-4-.3z"/>
<path class="m" d="M434.1 151.5l11.8 1-8.6-1.4-11.5-1.3z"/>
<path fill="#f8df31" d="M422.2 151.2l11.9 .3-8.3-1.7-11.7-.7z"/>
<path fill="#f4e635" d="M424.7 150l3.9 .3-2.8-.5-3.9-.3z"/>
<path fill="#f7e333" d="M420.7 149.8l4 .2-2.8-.5-3.9-.2z"/>
<path fill="#f8df31" d="M416.8 149.7l3.9 .1-2.7-.5-3.9-.2z"/>
<path fill="#f7e333" d="M427.4 150.6l3.9 .3-2.7-.6-3.9-.3z"/>
<path fill="#f8df31" d="M423.4 150.5l4 .1-2.7-.6-4-.2z"/>
<path fill="#f8d930" d="M419.5 150.4l3.9 .1-2.7-.7-3.9-.1z"/>
<path fill="#f8e031" d="M430.2 151.3l3.9 .2-2.8-.6-3.9-.3z"/>
<path fill="#f8da30" d="M426.2 151.2l4 .1-2.8-.7-4-.1z"/>
<path fill="#f8d42f" d="M422.2 151.2l4 0-2.8-.7-3.9-.1z"/>
<path class="m" d="M422.2 151.2l11.9 .3-8.3-1.7-11.7-.7z"/>
<path fill="#f8cf2d" d="M410 151.4l12.2-.2-8.1-2.1-12-.1z"/>
<path fill="#f8d930" d="M412.8 149.6l4 .1-2.7-.6-4-.1z"/>
<path fill="#f8d42f" d="M408.8 149.6l4 0-2.7-.6-4-.1z"/>
<path fill="#f8cf2d" d="M404.8 149.7l4-.1-2.7-.7-4 .1z"/>
<path fill="#f8d42e" d="M415.5 150.4l4 0-2.7-.7-4-.1z"/>
<path fill="#f8cf2d" d="M411.4 150.4l4.1 0-2.7-.8-4 0z"/>
<path fill="#f8ca2c" d="M407.4 150.5l4-.1-2.6-.8-4 .1z"/>
<path fill="#f8cf2d" d="M418.2 151.2l4 0-2.7-.8-4 0z"/>
<path fill="#f8ca2c" d="M414.1 151.3l4.1-.1-2.7-.8-4.1 0z"/>
<path fill="#f8c52b" d="M410 151.4l4.1-.1-2.7-.9-4 .1z"/>
<path class="m" d="M410 151.4l12.2-.2-8.1-2.1-12-.1z"/>
<path fill="#f8c12a" d="M397.7 152.3l12.3-.9-7.9-2.4-12.1 .5z"/>
<path fill="#f8ca2c" d="M400.7 149.9l4.1-.2-2.7-.7-4 .1z"/>
<path fill="#f8c62b" d="M396.6 150.1l4.1-.2-2.6-.8-4 .1z"/>
<path fill="#f8c22b" d="M392.5 150.3l4.1-.2-2.5-.9-4.1 .3z"/>
<path fill="#f8c52b" d="M403.3 150.7l4.1-.2-2.6-.8-4.1 .2z"/>
<path fill="#f8c12a" d="M399.2 151l4.1-.3-2.6-.8-4.1 .2z"/>
<path fill="#f8bf2a" d="M395.1 151.3l4.1-.3-2.6-.9-4.1 .2z"/>
<path fill="#f8c12a" d="M405.9 151.7l4.1-.3-2.6-.9-4.1 .2z"/>
<path fill="#f8be2a" d="M401.8 152l4.1-.3-2.6-1-4.1 .3z"/>
<path fill="#f8bc29" d="M397.7 152.3l4.1-.3-2.6-1-4.1 .3z"/>
<path class="m" d="M397.7 152.3l12.3-.9-7.9-2.4-12.1 .5z"/>
<path fill="#f7bb29" d="M385.1 153.9l12.6-1.6-7.7-2.8-12.4 1.1z"/>
<path fill="#f8be2a" d="M387.6 151.4l6.2-.6-3.8-1.3-6.2 .5z"/>
<path fill="#f8bc29" d="M381.4 152.2l6.2-.8-3.8-1.4-6.2 .6z"/>
<path fill="#f7ba29" d="M391.4 153l6.3-.7-3.9-1.5-6.2 .6z"/>
<path fill="#f7b828" d="M385.1 153.9l6.3-.9-3.8-1.6-6.2 .8z"/>
<path class="m" d="M385.1 153.9l12.6-1.6-7.7-2.8-12.4 1.1z"/>
<path fill="#f7b828" d="M372.4 156.1l12.7-2.2-7.5-3.3-12.6 1.8z"/>
<path class="m" d="M372.4 156.1l12.7-2.2-7.5-3.3-12.6 1.8z"/>
<path fill="#f7b929" d="M359.4 159l13-2.9-7.4-3.7-12.8 2.4z"/>
<path class="m" d="M359.4 159l13-2.9-7.4-3.7-12.8 2.4z"/>
<path fill="#f8bd29" d="M346.3 162.5l13.1-3.5-7.2-4.2-13 3.1z"/>
<path class="m" d="M346.3 162.5l13.1-3.5-7.2-4.2-13 3.1z"/>
<path fill="#f8c62b" d="M332.9 166.8l13.4-4.3-7.1-4.6-13.2 3.7z"/>
<path fill="#f8c32b" d="M336.1 162l6.6-1.9-3.5-2.2-6.6 1.8z"/>
<path fill="#f8c82c" d="M329.4 164.1l6.7-2.1-3.5-2.3-6.6 1.9z"/>
<path fill="#f8c42b" d="M339.6 164.6l6.7-2.1-3.6-2.4-6.6 1.9z"/>
<path fill="#f8ca2c" d="M332.9 166.8l6.7-2.2-3.5-2.6-6.7 2.1z"/>
<path class="m" d="M332.9 166.8l13.4-4.3-7.1-4.6-13.2 3.7z"/>
<path fill="#f8d52f" d="M319.4 171.6l13.5-4.8-6.9-5.2-13.5 4.4z"/>
<path fill="#f8ce2d" d="M323.8 164.7l4.5-1.5-2.3-1.6-4.5 1.4z"/>
<path fill="#f8d32e" d="M319.3 166.2l4.5-1.5-2.3-1.7-4.5 1.5z"/>
<path fill="#f8d830" d="M314.8 167.8l4.5-1.6-2.3-1.7-4.5 1.5z"/>
<path fill="#f8cf2d" d="M326.1 166.5l4.5-1.5-2.3-1.8-4.5 1.5z"/>
<path fill="#f8d52f" d="M321.6 168l4.5-1.5-2.3-1.8-4.5 1.5z"/>
<path fill="#f8da30" d="M317.1 169.7l4.5-1.7-2.3-1.8-4.5 1.6z"/>
<path fill="#f8d12e" d="M328.4 168.3l4.5-1.5-2.3-1.8-4.5 1.5z"/>
<path fill="#f8d72f" d="M323.9 169.9l4.5-1.6-2.3-1.8-4.5 1.5z"/>
<path fill="#f8dc31" d="M319.4 171.6l4.5-1.7-2.3-1.9-4.5 1.7z"/>
<path class="m" d="M319.4 171.6l13.5-4.8-6.9-5.2-13.5 4.4z"/>
<path fill="#f6e433" d="M305.6 177.2l13.8-5.6-6.9-5.6-13.6 5.1z"/>
<path fill="#f8e031" d="M309.1 171.3l6.8-2.6-3.4-2.7-6.8 2.5z"/>
<path fill="#f5e534" d="M302.2 174.1l6.9-2.8-3.4-2.8-6.8 2.6z"/>
<path fill="#f7e332" d="M312.5 174.3l6.9-2.7-3.5-2.9-6.8 2.6z"/>
<path fill="#f3e735" d="M305.6 177.2l6.9-2.9-3.4-3-6.9 2.8z"/>
<path class="m" d="M305.6 177.2l13.8-5.6-6.9-5.6-13.6 5.1z"/>
<path fill="#eae938" d="M291.7 183.5l13.9-6.3-6.7-6.1-13.9 5.8z"/>
<path fill="#f2e837" d="M296.5 175l4.6-1.9-2.2-2-4.6 1.9z"/>
<path fill="#eeea38" d="M291.9 177l4.6-2-2.2-2-4.7 1.9z"/>
<path fill="#e6e838" d="M287.2 179l4.7-2-2.3-2.1-4.6 2z"/>
<path fill="#f1e937" d="M298.8 177.1l4.6-2-2.3-2-4.6 1.9z"/>
<path fill="#eae938" d="M294.1 179.1l4.7-2-2.3-2.1-4.6 2z"/>
<path fill="#e3e838" d="M289.4 181.2l4.7-2.1-2.2-2.1-4.7 2z"/>
<path fill="#eeea38" d="M301 179.2l4.6-2-2.2-2.1-4.6 2z"/>
<path fill="#e7e838" d="M296.4 181.3l4.6-2.1-2.2-2.1-4.7 2z"/>
<path fill="#dfe738" d="M291.7 183.5l4.7-2.2-2.3-2.2-4.7 2.1z"/>
<path class="m" d="M291.7 183.5l13.9-6.3-6.7-6.1-13.9 5.8z"/>
<path fill="#d4e436" d="M277.6 190.4l14.1-6.9-6.7-6.6-14.1 6.5z"/>
<path fill="#dee738" d="M282.5 181.2l4.7-2.2-2.2-2.1-4.7 2.1z"/>
<path fill="#d7e537" d="M277.8 183.4l4.7-2.2-2.2-2.2-4.7 2.2z"/>
<path fill="#d1e335" d="M273.1 185.6l4.7-2.2-2.2-2.2-4.7 2.2z"/>
<path fill="#dbe638" d="M284.8 183.4l4.6-2.2-2.2-2.2-4.7 2.2z"/>
<path fill="#d4e436" d="M280.1 185.6l4.7-2.2-2.3-2.2-4.7 2.2z"/>
<path fill="#cde135" d="M275.3 188l4.8-2.4-2.3-2.2-4.7 2.2z"/>
<path fill="#d7e537" d="M287 185.7l4.7-2.2-2.3-2.3-4.6 2.2z"/>
<path fill="#d1e335" d="M282.3 188l4.7-2.3-2.2-2.3-4.7 2.2z"/>
<path fill="#cae034" d="M277.6 190.4l4.7-2.4-2.2-2.4-4.8 2.4z"/>
<path class="m" d="M277.6 190.4l14.1-6.9-6.7-6.6-14.1 6.5z"/>
<path fill="#c0dc31" d="M263.2 198l14.4-7.6-6.7-7-14.3 7.2z"/>
<path fill="#cae034" d="M268.3 188l4.8-2.4-2.2-2.2-4.8 2.3z"/>
<path fill="#c3de32" d="M263.6 190.4l4.7-2.4-2.2-2.3-4.7 2.4z"/>
<path fill="#bddb31" d="M258.8 192.9l4.8-2.5-2.2-2.3-4.8 2.5z"/>
<path fill="#c6df33" d="M270.6 190.4l4.7-2.4-2.2-2.4-4.8 2.4z"/>
<path fill="#c0dc31" d="M265.8 192.9l4.8-2.5-2.3-2.4-4.7 2.4z"/>
<path fill="#bada31" d="M261 195.4l4.8-2.5-2.2-2.5-4.8 2.5z"/>
<path fill="#c3de32" d="M272.8 192.8l4.8-2.4-2.3-2.4-4.7 2.4z"/>
<path fill="#bddb31" d="M268 195.4l4.8-2.6-2.2-2.4-4.8 2.5z"/>
<path fill="#b7d830" d="M263.2 198l4.8-2.6-2.2-2.5-4.8 2.5z"/>
<path class="m" d="M263.2 198l14.4-7.6-6.7-7-14.3 7.2z"/>
<path fill="#add42f" d="M248.7 206.3l14.5-8.3-6.6-7.4-14.6 7.8z"/>
<path fill="#b7d830" d="M253.9 195.5l4.9-2.6-2.2-2.3-4.9 2.5z"/>
<path fill="#b0d62f" d="M249.1 198.2l4.8-2.7-2.2-2.4-4.8 2.6z"/>
<path fill="#aad32e" d="M244.2 200.9l4.9-2.7-2.2-2.5-4.9 2.7z"/>
<path fill="#b4d730" d="M256.2 198.1l4.8-2.7-2.2-2.5-4.9 2.6z"/>
<path fill="#add42f" d="M251.3 200.8l4.9-2.7-2.3-2.6-4.8 2.7z"/>
<path fill="#a7d12e" d="M246.5 203.5l4.8-2.7-2.2-2.6-4.9 2.7z"/>
<path fill="#b0d62f" d="M258.4 200.7l4.8-2.7-2.2-2.6-4.8 2.7z"/>
<path fill="#aad32e" d="M253.6 203.4l4.8-2.7-2.2-2.6-4.9 2.7z"/>
<path fill="#a4d02d" d="M248.7 206.3l4.9-2.9-2.3-2.6-4.8 2.7z"/>
<path class="m" d="M248.7 206.3l14.5-8.3-6.6-7.4-14.6 7.8z"/>
<path fill="#9bcc2c" d="M234 215.2l14.7-8.9-6.7-7.9-14.7 8.5z"/>
<path fill="#a4d02d" d="M239.3 203.7l4.9-2.8-2.2-2.5-4.9 2.8z"/>
<path fill="#9ecd2c" d="M234.4 206.6l4.9-2.9-2.2-2.5-4.9 2.8z"/>
<path fill="#98cb2c" d="M229.5 209.6l4.9-3-2.2-2.6-4.9 2.9z"/>
<path fill="#a1cf2d" d="M241.6 206.4l4.9-2.9-2.3-2.6-4.9 2.8z"/>
<path fill="#9bcc2c" d="M236.7 209.3l4.9-2.9-2.3-2.7-4.9 2.9z"/>
<path fill="#95c92b" d="M231.7 212.3l5-3-2.3-2.7-4.9 3z"/>
<path fill="#9ecd2c" d="M243.8 209.2l4.9-2.9-2.2-2.8-4.9 2.9z"/>
<path fill="#98cb2c" d="M238.9 212.1l4.9-2.9-2.2-2.8-4.9 2.9z"/>
<path fill="#92c82b" d="M234 215.2l4.9-3.1-2.2-2.8-5 3z"/>
<path class="m" d="M234 215.2l14.7-8.9-6.7-7.9-14.7 8.5z"/>
<path fill="#8ac42a" d="M219 224.8l15-9.6-6.7-8.3-15 9.2z"/>
<path fill="#92c82b" d="M224.5 212.6l5-3-2.2-2.7-5 3z"/>
<path fill="#8cc52a" d="M219.5 215.7l5-3.1-2.2-2.7-5 3.1z"/>
<path fill="#87c32a" d="M214.5 218.9l5-3.2-2.2-2.7-5 3.1z"/>
<path fill="#8fc62a" d="M226.8 215.4l4.9-3.1-2.2-2.7-5 3z"/>
<path fill="#8ac42a" d="M221.8 218.6l5-3.2-2.3-2.8-5 3.1z"/>
<path fill="#85c22a" d="M216.8 221.8l5-3.2-2.3-2.9-5 3.2z"/>
<path fill="#8cc52a" d="M229 218.3l5-3.1-2.3-2.9-4.9 3.1z"/>
<path fill="#87c32a" d="M224 221.5l5-3.2-2.2-2.9-5 3.2z"/>
<path fill="#82c12a" d="M219 224.8l5-3.3-2.2-2.9-5 3.2z"/>
<path class="m" d="M219 224.8l15-9.6-6.7-8.3-15 9.2z"/>
<path fill="#7abe2a" d="M203.9 235l15.1-10.2-6.7-8.7-15.2 9.9z"/>
<path fill="#82c12a" d="M209.5 222.2l5-3.3-2.2-2.8-5.1 3.2z"/>
<path fill="#7dbf2a" d="M204.4 225.5l5.1-3.3-2.3-2.9-5 3.3z"/>
<path fill="#78bd2b" d="M199.3 228.9l5.1-3.4-2.2-2.9-5.1 3.4z"/>
<path fill="#7fc02a" d="M211.7 225.1l5.1-3.3-2.3-2.9-5 3.3z"/>
<path fill="#7abe2a" d="M206.7 228.4l5-3.3-2.2-2.9-5.1 3.3z"/>
<path fill="#75bb2b" d="M201.6 231.9l5.1-3.5-2.3-2.9-5.1 3.4z"/>
<path fill="#7cbf2a" d="M214 228.1l5-3.3-2.2-3-5.1 3.3z"/>
<path fill="#78bd2b" d="M209 231.5l5-3.4-2.3-3-5 3.3z"/>
<path fill="#73ba2c" d="M203.9 235l5.1-3.5-2.3-3.1-5.1 3.5z"/>
<path class="m" d="M203.9 235l15.1-10.2-6.7-8.7-15.2 9.9z"/>
<path fill="#6cb62e" d="M188.6 245.8l15.3-10.8-6.8-9-15.5 10.5z"/>
<path fill="#72b92c" d="M192.8 235.6l7.7-5.2-3.4-4.4-7.7 5.2z"/>
<path fill="#6bb630" d="M185.1 241l7.7-5.4-3.4-4.4-7.8 5.3z"/>
<path fill="#6eb72d" d="M196.3 240.3l7.6-5.3-3.4-4.6-7.7 5.2z"/>
<path fill="#69b534" d="M188.6 245.8l7.7-5.5-3.5-4.7-7.7 5.4z"/>
<path class="m" d="M188.6 245.8l15.3-10.8-6.8-9-15.5 10.5z"/>
<path fill="#68b545" d="M173.1 257.2l15.5-11.4-7-9.3-15.6 11.1z"/>
<path fill="#69b535" d="M179.5 241.5l3.9-2.8-1.8-2.2-3.8 2.7z"/>
<path fill="#67b439" d="M175.6 244.3l3.9-2.8-1.7-2.3-4 2.8z"/>
<path fill="#67b442" d="M171.7 247.1l3.9-2.8-1.8-2.3-3.9 2.8z"/>
<path fill="#69b54d" d="M167.7 249.9l4-2.8-1.8-2.3-3.9 2.8z"/>
<path fill="#68b537" d="M181.2 243.8l3.9-2.8-1.7-2.3-3.9 2.8z"/>
<path fill="#66b43d" d="M177.3 246.6l3.9-2.8-1.7-2.3-3.9 2.8z"/>
<path fill="#68b548" d="M173.4 249.4l3.9-2.8-1.7-2.3-3.9 2.8z"/>
<path fill="#6ab553" d="M169.5 252.3l3.9-2.9-1.7-2.3-4 2.8z"/>
<path fill="#67b439" d="M183 246.2l3.9-2.8-1.8-2.4-3.9 2.8z"/>
<path fill="#67b442" d="M179.1 249l3.9-2.8-1.8-2.4-3.9 2.8z"/>
<path fill="#69b54d" d="M175.2 251.8l3.9-2.8-1.8-2.4-3.9 2.8z"/>
<path fill="#6bb659" d="M171.3 254.7l3.9-2.9-1.8-2.4-3.9 2.9z"/>
<path fill="#66b43d" d="M184.7 248.6l3.9-2.8-1.7-2.4-3.9 2.8z"/>
<path fill="#68b548" d="M180.9 251.4l3.8-2.8-1.7-2.4-3.9 2.8z"/>
<path fill="#6ab553" d="M177 254.3l3.9-2.9-1.8-2.4-3.9 2.8z"/>
<path fill="#6cb65f" d="M173.1 257.2l3.9-2.9-1.8-2.5-3.9 2.9z"/>
<path class="m" d="M173.1 257.2l15.5-11.4-7-9.3-15.6 11.1z"/>
<path fill="#f8e232" d="M442.6 153.9l12 .6-8.7-2-11.8-1z"/>
<path fill="#f3e736" d="M444.9 152.7l3.9 .4-2.9-.6-3.9-.4z"/>
<path fill="#f6e434" d="M440.9 152.4l4 .3-2.9-.6-3.9-.3z"/>
<path fill="#f8e132" d="M437 152.2l3.9 .2-2.8-.6-4-.3z"/>
<path fill="#f5e534" d="M447.7 153.4l4 .3-2.9-.6-3.9-.4z"/>
<path fill="#f8e232" d="M443.8 153.2l3.9 .2-2.8-.7-4-.3z"/>
<path fill="#f8dc30" d="M439.8 153l4 .2-2.9-.8-3.9-.2z"/>
<path fill="#f7e333" d="M450.6 154.2l4 .3-2.9-.8-4-.3z"/>
<path fill="#f8de31" d="M446.7 154l3.9 .2-2.9-.8-3.9-.2z"/>
<path fill="#f8d82f" d="M442.6 153.9l4.1 .1-2.9-.8-4-.2z"/>
<path class="m" d="M442.6 153.9l12 .6-8.7-2-11.8-1z"/>
<path fill="#f8d02e" d="M430.5 153.9l12.1 0-8.5-2.4-11.9-.3z"/>
<path fill="#f8db30" d="M433 152.1l4 .1-2.9-.7-3.9-.2z"/>
<path fill="#f8d52f" d="M429 152l4 .1-2.8-.8-4-.1z"/>
<path fill="#f8cf2d" d="M424.9 152l4.1 0-2.8-.8-4 0z"/>
<path fill="#f8d62f" d="M435.8 152.9l4 .1-2.8-.8-4-.1z"/>
<path fill="#f8d02e" d="M431.7 152.9l4.1 0-2.8-.8-4-.1z"/>
<path fill="#f8cb2c" d="M427.7 152.9l4 0-2.7-.9-4.1 0z"/>
<path fill="#f8d22e" d="M438.6 153.8l4 .1-2.8-.9-4-.1z"/>
<path fill="#f8cc2d" d="M434.5 153.8l4.1 0-2.8-.9-4.1 0z"/>
<path fill="#f8c72c" d="M430.5 153.9l4-.1-2.8-.9-4 0z"/>
<path class="m" d="M430.5 153.9l12.1 0-8.5-2.4-11.9-.3z"/>
<path fill="#f8c12a" d="M418.1 154.6l12.4-.7-8.3-2.7-12.2 .2z"/>
<path fill="#f8ca2c" d="M420.9 152.1l4-.1-2.7-.8-4 0z"/>
<path fill="#f8c52b" d="M416.8 152.2l4.1-.1-2.7-.9-4.1 .1z"/>
<path fill="#f8c12a" d="M412.7 152.4l4.1-.2-2.7-.9-4.1 .1z"/>
<path fill="#f8c62b" d="M423.6 153l4.1-.1-2.8-.9-4 .1z"/>
<path fill="#f8c12a" d="M419.5 153.2l4.1-.2-2.7-.9-4.1 .1z"/>
<path fill="#f8be2a" d="M415.4 153.5l4.1-.3-2.7-1-4.1 .2z"/>
<path fill="#f8c22b" d="M426.4 154.1l4.1-.2-2.8-1-4.1 .1z"/>
<path fill="#f8bf2a" d="M422.2 154.3l4.2-.2-2.8-1.1-4.1 .2z"/>
<path fill="#f8bc29" d="M418.1 154.6l4.1-.3-2.7-1.1-4.1 .3z"/>
<path class="m" d="M418.1 154.6l12.4-.7-8.3-2.7-12.2 .2z"/>
<path fill="#f7b929" d="M405.5 156l12.6-1.4-8.1-3.2-12.3 .9z"/>
<path fill="#f8bd29" d="M407.8 153.4l6.2-.5-4-1.5-6.1 .4z"/>
<path fill="#f7b929" d="M401.6 154.1l6.2-.7-3.9-1.6-6.2 .5z"/>
<path fill="#f7ba29" d="M411.8 155.2l6.3-.6-4.1-1.7-6.2 .5z"/>
<path fill="#f7b728" d="M405.5 156l6.3-.8-4-1.8-6.2 .7z"/>
<path class="m" d="M405.5 156l12.6-1.4-8.1-3.2-12.3 .9z"/>
<path fill="#f7b628" d="M392.8 158l12.7-2-7.8-3.7-12.6 1.6z"/>
<path class="m" d="M392.8 158l12.7-2-7.8-3.7-12.6 1.6z"/>
<path fill="#f7b628" d="M379.9 160.7l12.9-2.7-7.7-4.1-12.7 2.2z"/>
<path class="m" d="M379.9 160.7l12.9-2.7-7.7-4.1-12.7 2.2z"/>
<path fill="#f7b828" d="M366.8 164l13.1-3.3-7.5-4.6-13 2.9z"/>
<path class="m" d="M366.8 164l13.1-3.3-7.5-4.6-13 2.9z"/>
<path fill="#f8bf2a" d="M353.5 168l13.3-4-7.4-5-13.1 3.5z"/>
<path fill="#f8bc29" d="M356.5 163.2l6.6-1.8-3.7-2.4-6.5 1.7z"/>
<path fill="#f8c02a" d="M349.9 165.2l6.6-2-3.6-2.5-6.6 1.8z"/>
<path fill="#f8be2a" d="M360.1 165.9l6.7-1.9-3.7-2.6-6.6 1.8z"/>
<path fill="#f8c32b" d="M353.5 168l6.6-2.1-3.6-2.7-6.6 2z"/>
<path class="m" d="M353.5 168l13.3-4-7.4-5-13.1 3.5z"/>
<path fill="#f8cc2d" d="M340 172.7l13.5-4.7-7.2-5.5-13.4 4.3z"/>
<path fill="#f8c42b" d="M344.2 165.7l4.5-1.4-2.4-1.8-4.4 1.4z"/>
<path fill="#f8c92c" d="M339.8 167.1l4.4-1.4-2.3-1.8-4.5 1.4z"/>
<path fill="#f8ce2d" d="M335.3 168.7l4.5-1.6-2.4-1.8-4.5 1.5z"/>
<path fill="#f8c72b" d="M346.6 167.5l4.5-1.4-2.4-1.8-4.5 1.4z"/>
<path fill="#f8cc2d" d="M342.1 169l4.5-1.5-2.4-1.8-4.4 1.4z"/>
<path fill="#f8d12e" d="M337.6 170.6l4.5-1.6-2.3-1.9-4.5 1.6z"/>
<path fill="#f8c92c" d="M349 169.5l4.5-1.5-2.4-1.9-4.5 1.4z"/>
<path fill="#f8cf2d" d="M344.5 171.1l4.5-1.6-2.4-2-4.5 1.5z"/>
<path fill="#f8d42f" d="M340 172.7l4.5-1.6-2.4-2.1-4.5 1.6z"/>
<path class="m" d="M340 172.7l13.5-4.7-7.2-5.5-13.4 4.3z"/>
<path fill="#f8dc31" d="M326.4 178.1l13.6-5.4-7.1-5.9-13.5 4.8z"/>
<path fill="#f8d42e" d="M330.8 170.3l4.5-1.6-2.4-1.9-4.5 1.5z"/>
<path fill="#f8d930" d="M326.2 171.9l4.6-1.6-2.4-2-4.5 1.6z"/>
<path fill="#f8df31" d="M321.7 173.7l4.5-1.8-2.3-2-4.5 1.7z"/>
<path fill="#f8d72f" d="M333.1 172.3l4.5-1.7-2.3-1.9-4.5 1.6z"/>
<path fill="#f8dc31" d="M328.6 174l4.5-1.7-2.3-2-4.6 1.6z"/>
<path fill="#f8e232" d="M324 175.8l4.6-1.8-2.4-2.1-4.5 1.8z"/>
<path fill="#f8da30" d="M335.5 174.4l4.5-1.7-2.4-2.1-4.5 1.7z"/>
<path fill="#f8e032" d="M330.9 176.2l4.6-1.8-2.4-2.1-4.5 1.7z"/>
<path fill="#f6e433" d="M326.4 178.1l4.5-1.9-2.3-2.2-4.6 1.8z"/>
<path class="m" d="M326.4 178.1l13.6-5.4-7.1-5.9-13.5 4.8z"/>
<path fill="#f2e836" d="M312.5 184.1l13.9-6-7-6.5-13.8 5.6z"/>
<path fill="#f7e333" d="M317.1 175.5l4.6-1.8-2.3-2.1-4.6 1.8z"/>
<path fill="#f4e635" d="M312.5 177.4l4.6-1.9-2.3-2.1-4.6 1.9z"/>
<path fill="#f1e937" d="M307.9 179.4l4.6-2-2.3-2.1-4.6 1.9z"/>
<path fill="#f5e534" d="M319.4 177.7l4.6-1.9-2.3-2.1-4.6 1.8z"/>
<path fill="#f2e836" d="M314.8 179.7l4.6-2-2.3-2.2-4.6 1.9z"/>
<path fill="#eeea38" d="M310.2 181.7l4.6-2-2.3-2.3-4.6 2z"/>
<path fill="#f3e736" d="M321.8 180l4.6-1.9-2.4-2.3-4.6 1.9z"/>
<path fill="#f0ea38" d="M317.2 182l4.6-2-2.4-2.3-4.6 2z"/>
<path fill="#e9e938" d="M312.5 184.1l4.7-2.1-2.4-2.3-4.6 2z"/>
<path class="m" d="M312.5 184.1l13.9-6-7-6.5-13.8 5.6z"/>
<path fill="#dee738" d="M298.5 190.8l14-6.7-6.9-6.9-13.9 6.3z"/>
<path fill="#eae938" d="M303.3 181.5l4.6-2.1-2.3-2.2-4.6 2z"/>
<path fill="#e3e838" d="M298.6 183.6l4.7-2.1-2.3-2.3-4.6 2.1z"/>
<path fill="#dae638" d="M294 185.8l4.6-2.2-2.2-2.3-4.7 2.2z"/>
<path fill="#e6e838" d="M305.6 183.8l4.6-2.1-2.3-2.3-4.6 2.1z"/>
<path fill="#dee738" d="M300.9 186l4.7-2.2-2.3-2.3-4.7 2.1z"/>
<path fill="#d7e537" d="M296.2 188.3l4.7-2.3-2.3-2.4-4.6 2.2z"/>
<path fill="#e1e738" d="M307.9 186.3l4.6-2.2-2.3-2.4-4.6 2.1z"/>
<path fill="#d9e638" d="M303.2 188.5l4.7-2.2-2.3-2.5-4.7 2.2z"/>
<path fill="#d3e336" d="M298.5 190.8l4.7-2.3-2.3-2.5-4.7 2.3z"/>
<path class="m" d="M298.5 190.8l14-6.7-6.9-6.9-13.9 6.3z"/>
<path fill="#c9e033" d="M284.4 198.2l14.1-7.4-6.8-7.3-14.1 6.9z"/>
<path fill="#d4e436" d="M289.3 188.1l4.7-2.3-2.3-2.3-4.7 2.2z"/>
<path fill="#cde134" d="M284.5 190.5l4.8-2.4-2.3-2.4-4.7 2.3z"/>
<path fill="#c6df33" d="M279.8 192.9l4.7-2.4-2.2-2.5-4.7 2.4z"/>
<path fill="#d0e235" d="M291.5 190.6l4.7-2.3-2.2-2.5-4.7 2.3z"/>
<path fill="#c9e033" d="M286.8 193l4.7-2.4-2.2-2.5-4.8 2.4z"/>
<path fill="#c2dd32" d="M282.1 195.5l4.7-2.5-2.3-2.5-4.7 2.4z"/>
<path fill="#cce134" d="M293.8 193.2l4.7-2.4-2.3-2.5-4.7 2.3z"/>
<path fill="#c4de32" d="M289.1 195.7l4.7-2.5-2.3-2.6-4.7 2.4z"/>
<path fill="#bedc31" d="M284.4 198.2l4.7-2.5-2.3-2.7-4.7 2.5z"/>
<path class="m" d="M284.4 198.2l14.1-7.4-6.8-7.3-14.1 6.9z"/>
<path fill="#b6d830" d="M270 206.3l14.4-8.1-6.8-7.8-14.4 7.6z"/>
<path fill="#c0dc31" d="M275.1 195.4l4.7-2.5-2.2-2.5-4.8 2.4z"/>
<path fill="#bada31" d="M270.3 198l4.8-2.6-2.3-2.6-4.8 2.6z"/>
<path fill="#b3d730" d="M265.5 200.7l4.8-2.7-2.3-2.6-4.8 2.6z"/>
<path fill="#bcdb31" d="M277.3 198.1l4.8-2.6-2.3-2.6-4.7 2.5z"/>
<path fill="#b6d830" d="M272.5 200.7l4.8-2.6-2.2-2.7-4.8 2.6z"/>
<path fill="#afd52f" d="M267.7 203.4l4.8-2.7-2.2-2.7-4.8 2.7z"/>
<path fill="#b8d930" d="M279.6 200.8l4.8-2.6-2.3-2.7-4.8 2.6z"/>
<path fill="#b2d62f" d="M274.8 203.5l4.8-2.7-2.3-2.7-4.8 2.6z"/>
<path fill="#abd32e" d="M270 206.3l4.8-2.8-2.3-2.8-4.8 2.7z"/>
<path class="m" d="M270 206.3l14.4-8.1-6.8-7.8-14.4 7.6z"/>
<path fill="#a3d02d" d="M255.5 215l14.5-8.7-6.8-8.3-14.5 8.3z"/>
<path fill="#add42f" d="M260.6 203.4l4.9-2.7-2.3-2.7-4.8 2.7z"/>
<path fill="#a6d12e" d="M255.8 206.2l4.8-2.8-2.2-2.7-4.8 2.7z"/>
<path fill="#a1cf2d" d="M250.9 209.1l4.9-2.9-2.2-2.8-4.9 2.9z"/>
<path fill="#a9d22e" d="M262.9 206.2l4.8-2.8-2.2-2.7-4.9 2.7z"/>
<path fill="#a3d02d" d="M258.1 209l4.8-2.8-2.3-2.8-4.8 2.8z"/>
<path fill="#9dcd2c" d="M253.2 212l4.9-3-2.3-2.8-4.9 2.9z"/>
<path fill="#a5d12e" d="M265.2 209.1l4.8-2.8-2.3-2.9-4.8 2.8z"/>
<path fill="#9fce2d" d="M260.3 212l4.9-2.9-2.3-2.9-4.8 2.8z"/>
<path fill="#99cb2c" d="M255.5 215l4.8-3-2.2-3-4.9 3z"/>
<path class="m" d="M255.5 215l14.5-8.7-6.8-8.3-14.5 8.3z"/>
<path fill="#91c72a" d="M240.8 224.3l14.7-9.3-6.8-8.7-14.7 8.9z"/>
<path fill="#9bcc2c" d="M246.1 212l4.8-2.9-2.2-2.8-4.9 2.9z"/>
<path fill="#95c92b" d="M241.2 215l4.9-3-2.3-2.8-4.9 2.9z"/>
<path fill="#8ec62a" d="M236.2 218.1l5-3.1-2.3-2.9-4.9 3.1z"/>
<path fill="#97ca2b" d="M248.3 215l4.9-3-2.3-2.9-4.8 2.9z"/>
<path fill="#91c72a" d="M243.4 218l4.9-3-2.2-3-4.9 3z"/>
<path fill="#8bc52a" d="M238.5 221.2l4.9-3.2-2.2-3-5 3.1z"/>
<path fill="#93c82b" d="M250.6 218l4.9-3-2.3-3-4.9 3z"/>
<path fill="#8dc62a" d="M245.7 221.1l4.9-3.1-2.3-3-4.9 3z"/>
<path fill="#88c42a" d="M240.8 224.3l4.9-3.2-2.3-3.1-4.9 3.2z"/>
<path class="m" d="M240.8 224.3l14.7-9.3-6.8-8.7-14.7 8.9z"/>
<path fill="#81c12a" d="M225.9 234.2l14.9-9.9-6.8-9.1-15 9.6z"/>
<path fill="#89c42a" d="M231.3 221.3l4.9-3.2-2.2-2.9-5 3.1z"/>
<path fill="#84c22a" d="M226.3 224.5l5-3.2-2.3-3-5 3.2z"/>
<path fill="#7fc02a" d="M221.3 227.8l5-3.3-2.3-3-5 3.3z"/>
<path fill="#86c32a" d="M233.6 224.4l4.9-3.2-2.3-3.1-4.9 3.2z"/>
<path fill="#81c12a" d="M228.6 227.6l5-3.2-2.3-3.1-5 3.2z"/>
<path fill="#7cbf2a" d="M223.6 231l5-3.4-2.3-3.1-5 3.3z"/>
<path fill="#83c22a" d="M235.9 227.5l4.9-3.2-2.3-3.1-4.9 3.2z"/>
<path fill="#7ec02a" d="M230.9 230.9l5-3.4-2.3-3.1-5 3.2z"/>
<path fill="#79bd2a" d="M225.9 234.2l5-3.3-2.3-3.3-5 3.4z"/>
<path class="m" d="M225.9 234.2l14.9-9.9-6.8-9.1-15 9.6z"/>
<path fill="#72ba2c" d="M210.9 244.8l15-10.6-6.9-9.4-15.1 10.2z"/>
<path fill="#7abe2a" d="M216.3 231.2l5-3.4-2.3-3-5 3.3z"/>
<path fill="#75bb2b" d="M211.3 234.6l5-3.4-2.3-3.1-5 3.4z"/>
<path fill="#70b92d" d="M206.2 238.1l5.1-3.5-2.3-3.1-5.1 3.5z"/>
<path fill="#77bc2b" d="M218.6 234.4l5-3.4-2.3-3.2-5 3.4z"/>
<path fill="#72ba2c" d="M213.6 237.9l5-3.5-2.3-3.2-5 3.4z"/>
<path fill="#6eb72d" d="M208.6 241.4l5-3.5-2.3-3.3-5.1 3.5z"/>
<path fill="#74bb2c" d="M220.9 237.7l5-3.5-2.3-3.2-5 3.4z"/>
<path fill="#70b82d" d="M215.9 241.2l5-3.5-2.3-3.3-5 3.5z"/>
<path fill="#6bb62f" d="M210.9 244.8l5-3.6-2.3-3.3-5 3.5z"/>
<path class="m" d="M210.9 244.8l15-10.6-6.9-9.4-15.1 10.2z"/>
<path fill="#68b537" d="M195.7 255.9l15.2-11.1-7-9.8-15.3 10.8z"/>
<path fill="#6db62e" d="M201.8 240l3.9-2.7-1.8-2.3-3.8 2.6z"/>
<path fill="#6ab531" d="M198 242.7l3.8-2.7-1.7-2.4-3.8 2.7z"/>
<path fill="#68b535" d="M194.2 245.5l3.8-2.8-1.7-2.4-3.8 2.7z"/>
<path fill="#66b439" d="M190.4 248.3l3.8-2.8-1.7-2.5-3.9 2.8z"/>
<path fill="#6bb62f" d="M203.6 242.5l3.8-2.7-1.7-2.5-3.9 2.7z"/>
<path fill="#69b533" d="M199.8 245.2l3.8-2.7-1.8-2.5-3.8 2.7z"/>
<path fill="#67b438" d="M196 248l3.8-2.8-1.8-2.5-3.8 2.8z"/>
<path fill="#67b43e" d="M192.1 250.8l3.9-2.8-1.8-2.5-3.8 2.8z"/>
<path fill="#6ab532" d="M205.4 245l3.7-2.7-1.7-2.5-3.8 2.7z"/>
<path fill="#68b536" d="M201.5 247.7l3.9-2.7-1.8-2.5-3.8 2.7z"/>
<path fill="#66b43a" d="M197.7 250.5l3.8-2.8-1.7-2.5-3.8 2.8z"/>
<path fill="#68b545" d="M193.9 253.3l3.8-2.8-1.7-2.5-3.9 2.8z"/>
<path fill="#69b534" d="M207.1 247.5l3.8-2.7-1.8-2.5-3.7 2.7z"/>
<path fill="#67b438" d="M203.3 250.3l3.8-2.8-1.7-2.5-3.9 2.7z"/>
<path fill="#67b441" d="M199.5 253.1l3.8-2.8-1.8-2.6-3.8 2.8z"/>
<path fill="#69b54c" d="M195.7 255.9l3.8-2.8-1.8-2.6-3.8 2.8z"/>
<path class="m" d="M195.7 255.9l15.2-11.1-7-9.8-15.3 10.8z"/>
<path fill="#6cb65e" d="M180.3 267.7l15.4-11.8-7.1-10.1-15.5 11.4z"/>
<path fill="#67b443" d="M186.5 251.1l3.9-2.8-1.8-2.5-3.9 2.8z"/>
<path fill="#69b54e" d="M182.6 253.9l3.9-2.8-1.8-2.5-3.8 2.8z"/>
<path fill="#6bb65a" d="M178.8 256.8l3.8-2.9-1.7-2.5-3.9 2.9z"/>
<path fill="#6db768" d="M174.9 259.7l3.9-2.9-1.8-2.5-3.9 2.9z"/>
<path fill="#68b54a" d="M188.3 253.6l3.8-2.8-1.7-2.5-3.9 2.8z"/>
<path fill="#6ab555" d="M184.4 256.5l3.9-2.9-1.8-2.5-3.9 2.8z"/>
<path fill="#6cb660" d="M180.6 259.4l3.8-2.9-1.8-2.6-3.8 2.9z"/>
<path fill="#6db873" d="M176.7 262.3l3.9-2.9-1.8-2.6-3.9 2.9z"/>
<path fill="#69b550" d="M190.1 256.2l3.8-2.9-1.8-2.5-3.8 2.8z"/>
<path fill="#6bb65b" d="M186.2 259.1l3.9-2.9-1.8-2.6-3.9 2.9z"/>
<path fill="#6db76b" d="M182.4 262l3.8-2.9-1.8-2.6-3.8 2.9z"/>
<path fill="#6eba7e" d="M178.5 265l3.9-3-1.8-2.6-3.9 2.9z"/>
<path fill="#6bb657" d="M191.9 258.8l3.8-2.9-1.8-2.6-3.8 2.9z"/>
<path fill="#6cb664" d="M188 261.7l3.9-2.9-1.8-2.6-3.9 2.9z"/>
<path fill="#6db977" d="M184.2 264.7l3.8-3-1.8-2.6-3.8 2.9z"/>
<path fill="#6fbb8a" d="M180.3 267.7l3.9-3-1.8-2.7-3.9 3z"/>
<path class="m" d="M180.3 267.7l15.4-11.8-7.1-10.1-15.5 11.4z"/>
<path fill="#f8d62f" d="M451.3 157l12.2 .2-8.9-2.7-12-.6z"/>
<path fill="#f8e031" d="M453.6 155.1l4 .2-3-.8-4-.3z"/>
<path fill="#f8da30" d="M449.5 154.9l4.1 .2-3-.9-3.9-.2z"/>
<path fill="#f8d42e" d="M445.5 154.8l4 .1-2.8-.9-4.1-.1z"/>
<path fill="#f8dc31" d="M456.5 156l4 .2-2.9-.9-4-.2z"/>
<path fill="#f8d62f" d="M452.4 155.9l4.1 .1-2.9-.9-4.1-.2z"/>
<path fill="#f8d02e" d="M448.4 155.9l4 0-2.9-1-4-.1z"/>
<path fill="#f8d930" d="M459.5 157.1l4 .1-3-1-4-.2z"/>
<path fill="#f8d32e" d="M455.4 157l4.1 .1-3-1.1-4.1-.1z"/>
<path fill="#f8cd2d" d="M451.3 157l4.1 0-3-1.1-4 0z"/>
<path class="m" d="M451.3 157l12.2 .2-8.9-2.7-12-.6z"/>
<path fill="#f8c62b" d="M438.9 157.5l12.4-.5-8.7-3.1-12.1 0z"/>
<path fill="#f8ce2d" d="M441.4 154.8l4.1 0-2.9-.9-4-.1z"/>
<path fill="#f8c92c" d="M437.3 154.9l4.1-.1-2.8-1-4.1 0z"/>
<path fill="#f8c42b" d="M433.2 155l4.1-.1-2.8-1.1-4 .1z"/>
<path fill="#f8cb2c" d="M444.3 155.9l4.1 0-2.9-1.1-4.1 0z"/>
<path fill="#f8c62b" d="M440.2 156l4.1-.1-2.9-1.1-4.1 .1z"/>
<path fill="#f8c12a" d="M436 156.2l4.2-.2-2.9-1.1-4.1 .1z"/>
<path fill="#f8c82c" d="M447.2 157.1l4.1-.1-2.9-1.1-4.1 0z"/>
<path fill="#f8c32b" d="M443 157.2l4.2-.1-2.9-1.2-4.1 .1z"/>
<path fill="#f8bf2a" d="M438.9 157.5l4.1-.3-2.8-1.2-4.2 .2z"/>
<path class="m" d="M438.9 157.5l12.4-.5-8.7-3.1-12.1 0z"/>
<path fill="#f8bb29" d="M426.3 158.6l12.6-1.1-8.4-3.6-12.4 .7z"/>
<path fill="#f8be2a" d="M428.4 156l6.2-.4-4.1-1.7-6.2 .3z"/>
<path fill="#f7ba29" d="M422.2 156.5l6.2-.5-4.1-1.8-6.2 .4z"/>
<path fill="#f8bc29" d="M432.6 157.9l6.3-.4-4.3-1.9-6.2 .4z"/>
<path fill="#f7b929" d="M426.3 158.6l6.3-.7-4.2-1.9-6.2 .5z"/>
<path class="m" d="M426.3 158.6l12.6-1.1-8.4-3.6-12.4 .7z"/>
<path fill="#f7b628" d="M413.5 160.4l12.8-1.8-8.2-4-12.6 1.4z"/>
<path class="m" d="M413.5 160.4l12.8-1.8-8.2-4-12.6 1.4z"/>
<path fill="#f7b628" d="M400.6 162.9l12.9-2.5-8-4.4-12.7 2z"/>
<path class="m" d="M400.6 162.9l12.9-2.5-8-4.4-12.7 2z"/>
<path fill="#f7b628" d="M387.5 166l13.1-3.1-7.8-4.9-12.9 2.7z"/>
<path class="m" d="M387.5 166l13.1-3.1-7.8-4.9-12.9 2.7z"/>
<path fill="#f8bc29" d="M374.2 169.8l13.3-3.8-7.6-5.3-13.1 3.3z"/>
<path fill="#f7b929" d="M377.1 164.9l6.6-1.7-3.8-2.5-6.6 1.5z"/>
<path fill="#f8bc29" d="M370.5 166.8l6.6-1.9-3.8-2.7-6.5 1.8z"/>
<path fill="#f8bb29" d="M380.9 167.8l6.6-1.8-3.8-2.8-6.6 1.7z"/>
<path fill="#f8bf2a" d="M374.2 169.8l6.7-2-3.8-2.9-6.6 1.9z"/>
<path class="m" d="M374.2 169.8l13.3-3.8-7.6-5.3-13.1 3.3z"/>
<path fill="#f8c62b" d="M360.8 174.3l13.4-4.5-7.4-5.8-13.3 4z"/>
<path fill="#f8bf2a" d="M364.8 167.2l4.4-1.3-2.4-1.9-4.4 1.3z"/>
<path fill="#f8c32b" d="M360.4 168.6l4.4-1.4-2.4-1.9-4.5 1.3z"/>
<path fill="#f8c82c" d="M355.9 170l4.5-1.4-2.5-2-4.4 1.4z"/>
<path fill="#f8c22a" d="M367.3 169.2l4.4-1.4-2.5-1.9-4.4 1.3z"/>
<path fill="#f8c62b" d="M362.8 170.6l4.5-1.4-2.5-2-4.4 1.4z"/>
<path fill="#f8cb2d" d="M358.3 172.1l4.5-1.5-2.4-2-4.5 1.4z"/>
<path fill="#f8c52b" d="M369.8 171.3l4.4-1.5-2.5-2-4.4 1.4z"/>
<path fill="#f8ca2c" d="M365.3 172.8l4.5-1.5-2.5-2.1-4.5 1.4z"/>
<path fill="#f8d02e" d="M360.8 174.3l4.5-1.5-2.5-2.2-4.5 1.5z"/>
<path class="m" d="M360.8 174.3l13.4-4.5-7.4-5.8-13.3 4z"/>
<path fill="#f8d72f" d="M347.2 179.5l13.6-5.2-7.3-6.3-13.5 4.7z"/>
<path fill="#f8cd2d" d="M351.4 171.6l4.5-1.6-2.4-2-4.5 1.5z"/>
<path fill="#f8d32e" d="M346.9 173.2l4.5-1.6-2.4-2.1-4.5 1.6z"/>
<path fill="#f8d830" d="M342.4 174.9l4.5-1.7-2.4-2.1-4.5 1.6z"/>
<path fill="#f8d12e" d="M353.8 173.7l4.5-1.6-2.4-2.1-4.5 1.6z"/>
<path fill="#f8d72f" d="M349.3 175.4l4.5-1.7-2.4-2.1-4.5 1.6z"/>
<path fill="#f8dc31" d="M344.8 177.2l4.5-1.8-2.4-2.2-4.5 1.7z"/>
<path fill="#f8d52f" d="M356.3 176l4.5-1.7-2.5-2.2-4.5 1.6z"/>
<path fill="#f8db30" d="M351.7 177.7l4.6-1.7-2.5-2.3-4.5 1.7z"/>
<path fill="#f8e132" d="M347.2 179.5l4.5-1.8-2.4-2.3-4.5 1.8z"/>
<path class="m" d="M347.2 179.5l13.6-5.2-7.3-6.3-13.5 4.7z"/>
<path fill="#f5e534" d="M333.5 185.4l13.7-5.9-7.2-6.8-13.6 5.4z"/>
<path fill="#f8e132" d="M336.8 178.7l6.8-2.7-3.6-3.3-6.8 2.6z"/>
<path fill="#f4e635" d="M329.9 181.6l6.9-2.9-3.6-3.4-6.8 2.8z"/>
<path fill="#f5e534" d="M340.3 182.4l6.9-2.9-3.6-3.5-6.8 2.7z"/>
<path fill="#f1e937" d="M333.5 185.4l6.8-3-3.5-3.7-6.9 2.9z"/>
<path class="m" d="M333.5 185.4l13.7-5.9-7.2-6.8-13.6 5.4z"/>
<path fill="#e6e838" d="M319.5 191.9l14-6.5-7.1-7.3-13.9 6z"/>
<path fill="#f1e937" d="M324.1 182.4l4.6-2-2.3-2.3-4.6 1.9z"/>
<path fill="#ebe938" d="M319.5 184.5l4.6-2.1-2.3-2.4-4.6 2z"/>
<path fill="#e4e838" d="M314.9 186.6l4.6-2.1-2.3-2.5-4.7 2.1z"/>
<path fill="#eeea38" d="M326.5 184.9l4.6-2-2.4-2.5-4.6 2z"/>
<path fill="#e6e838" d="M321.8 187l4.7-2.1-2.4-2.5-4.6 2.1z"/>
<path fill="#dee738" d="M317.2 189.2l4.6-2.2-2.3-2.5-4.6 2.1z"/>
<path fill="#e8e938" d="M328.8 187.5l4.7-2.1-2.4-2.5-4.6 2z"/>
<path fill="#e0e738" d="M324.2 189.7l4.6-2.2-2.3-2.6-4.7 2.1z"/>
<path fill="#d8e538" d="M319.5 191.9l4.7-2.2-2.4-2.7-4.6 2.2z"/>
<path class="m" d="M319.5 191.9l14-6.5-7.1-7.3-13.9 6z"/>
<path fill="#d0e235" d="M305.5 199.1l14-7.2-7-7.8-14 6.7z"/>
<path fill="#dce638" d="M310.2 188.8l4.7-2.2-2.4-2.5-4.6 2.2z"/>
<path fill="#d5e437" d="M305.5 191.1l4.7-2.3-2.3-2.5-4.7 2.2z"/>
<path fill="#cee235" d="M300.8 193.5l4.7-2.4-2.3-2.6-4.7 2.3z"/>
<path fill="#d7e537" d="M312.5 191.5l4.7-2.3-2.3-2.6-4.7 2.2z"/>
<path fill="#d0e235" d="M307.9 193.8l4.6-2.3-2.3-2.7-4.7 2.3z"/>
<path fill="#c9e033" d="M303.2 196.2l4.7-2.4-2.4-2.7-4.7 2.4z"/>
<path fill="#d2e336" d="M314.9 194.2l4.6-2.3-2.3-2.7-4.7 2.3z"/>
<path fill="#cbe134" d="M310.2 196.6l4.7-2.4-2.4-2.7-4.6 2.3z"/>
<path fill="#c4de32" d="M305.5 199.1l4.7-2.5-2.3-2.8-4.7 2.4z"/>
<path class="m" d="M305.5 199.1l14-7.2-7-7.8-14 6.7z"/>
<path fill="#bcdb31" d="M291.3 206.9l14.2-7.8-7-8.3-14.1 7.4z"/>
<path fill="#c7df33" d="M296.1 195.9l4.7-2.4-2.3-2.7-4.7 2.4z"/>
<path fill="#c0dc31" d="M291.4 198.4l4.7-2.5-2.3-2.7-4.7 2.5z"/>
<path fill="#bada31" d="M286.7 201l4.7-2.6-2.3-2.7-4.7 2.5z"/>
<path fill="#c2dd32" d="M298.4 198.7l4.8-2.5-2.4-2.7-4.7 2.4z"/>
<path fill="#bcdb31" d="M293.7 201.3l4.7-2.6-2.3-2.8-4.7 2.5z"/>
<path fill="#b6d830" d="M289 203.9l4.7-2.6-2.3-2.9-4.7 2.6z"/>
<path fill="#bedb31" d="M300.8 201.6l4.7-2.5-2.3-2.9-4.8 2.5z"/>
<path fill="#b8d930" d="M296 204.2l4.8-2.6-2.4-2.9-4.7 2.6z"/>
<path fill="#b1d62f" d="M291.3 206.9l4.7-2.7-2.3-2.9-4.7 2.6z"/>
<path class="m" d="M291.3 206.9l14.2-7.8-7-8.3-14.1 7.4z"/>
<path fill="#a9d22e" d="M276.9 215.4l14.4-8.5-6.9-8.7-14.4 8.1z"/>
<path fill="#b4d730" d="M281.9 203.7l4.8-2.7-2.3-2.8-4.8 2.6z"/>
<path fill="#aed42f" d="M277.1 206.4l4.8-2.7-2.3-2.9-4.8 2.7z"/>
<path fill="#a7d22e" d="M272.3 209.2l4.8-2.8-2.3-2.9-4.8 2.8z"/>
<path fill="#b0d52f" d="M284.2 206.6l4.8-2.7-2.3-2.9-4.8 2.7z"/>
<path fill="#a9d22e" d="M279.4 209.4l4.8-2.8-2.3-2.9-4.8 2.7z"/>
<path fill="#a3d02d" d="M274.6 212.3l4.8-2.9-2.3-3-4.8 2.8z"/>
<path fill="#abd32e" d="M286.5 209.7l4.8-2.8-2.3-3-4.8 2.7z"/>
<path fill="#a5d02d" d="M281.7 212.5l4.8-2.8-2.3-3.1-4.8 2.8z"/>
<path fill="#9fce2d" d="M276.9 215.4l4.8-2.9-2.3-3.1-4.8 2.9z"/>
<path class="m" d="M276.9 215.4l14.4-8.5-6.9-8.7-14.4 8.1z"/>
<path fill="#97ca2b" d="M262.4 224.5l14.5-9.1-6.9-9.1-14.5 8.7z"/>
<path fill="#a1cf2d" d="M267.5 212.1l4.8-2.9-2.3-2.9-4.8 2.8z"/>
<path fill="#9bcc2c" d="M262.6 215l4.9-2.9-2.3-3-4.9 2.9z"/>
<path fill="#95c92b" d="M257.8 218l4.8-3-2.3-3-4.8 3z"/>
<path fill="#9dcd2c" d="M269.8 215.2l4.8-2.9-2.3-3.1-4.8 2.9z"/>
<path fill="#97ca2b" d="M264.9 218.2l4.9-3-2.3-3.1-4.9 2.9z"/>
<path fill="#91c72a" d="M260.1 221.2l4.8-3-2.3-3.2-4.8 3z"/>
<path fill="#99cb2c" d="M272.1 218.4l4.8-3-2.3-3.1-4.8 2.9z"/>
<path fill="#93c82b" d="M267.3 221.4l4.8-3-2.3-3.2-4.9 3z"/>
<path fill="#8dc62a" d="M262.4 224.5l4.9-3.1-2.4-3.2-4.8 3z"/>
<path class="m" d="M262.4 224.5l14.5-9.1-6.9-9.1-14.5 8.7z"/>
<path fill="#87c32a" d="M247.8 234.3l14.6-9.8-6.9-9.5-14.7 9.3z"/>
<path fill="#8fc72a" d="M252.9 221.1l4.9-3.1-2.3-3-4.9 3z"/>
<path fill="#8ac42a" d="M248 224.3l4.9-3.2-2.3-3.1-4.9 3.1z"/>
<path fill="#85c22a" d="M243.1 227.5l4.9-3.2-2.3-3.2-4.9 3.2z"/>
<path fill="#8cc52a" d="M255.2 224.4l4.9-3.2-2.3-3.2-4.9 3.1z"/>
<path fill="#87c32a" d="M250.3 227.6l4.9-3.2-2.3-3.3-4.9 3.2z"/>
<path fill="#81c12a" d="M245.4 230.8l4.9-3.2-2.3-3.3-4.9 3.2z"/>
<path fill="#88c42a" d="M257.5 227.7l4.9-3.2-2.3-3.3-4.9 3.2z"/>
<path fill="#83c22a" d="M252.7 231l4.8-3.3-2.3-3.3-4.9 3.2z"/>
<path fill="#7ec02a" d="M247.8 234.3l4.9-3.3-2.4-3.4-4.9 3.2z"/>
<path class="m" d="M247.8 234.3l14.6-9.8-6.9-9.5-14.7 9.3z"/>
<path fill="#77bc2b" d="M233 244.6l14.8-10.3-7-10-14.9 9.9z"/>
<path fill="#80c02a" d="M238.2 230.8l4.9-3.3-2.3-3.2-4.9 3.2z"/>
<path fill="#7abe2a" d="M233.2 234.2l5-3.4-2.3-3.3-5 3.4z"/>
<path fill="#76bc2b" d="M228.3 237.6l4.9-3.4-2.3-3.3-5 3.3z"/>
<path fill="#7cbf2a" d="M240.5 234.2l4.9-3.4-2.3-3.3-4.9 3.3z"/>
<path fill="#77bc2b" d="M235.6 237.6l4.9-3.4-2.3-3.4-5 3.4z"/>
<path fill="#73ba2c" d="M230.6 241l5-3.4-2.4-3.4-4.9 3.4z"/>
<path fill="#79bd2a" d="M242.8 237.6l5-3.3-2.4-3.5-4.9 3.4z"/>
<path fill="#74bb2c" d="M237.9 241.1l4.9-3.5-2.3-3.4-4.9 3.4z"/>
<path fill="#70b82d" d="M233 244.6l4.9-3.5-2.3-3.5-5 3.4z"/>
<path class="m" d="M233 244.6l14.8-10.3-7-10-14.9 9.9z"/>
<path fill="#6bb631" d="M218 255.5l15-10.9-7.1-10.4-15 10.6z"/>
<path fill="#71b92c" d="M223.3 241.1l5-3.5-2.4-3.4-5 3.5z"/>
<path fill="#6db62e" d="M218.3 244.6l5-3.5-2.4-3.4-5 3.5z"/>
<path fill="#6ab533" d="M213.3 248.3l5-3.7-2.4-3.4-5 3.6z"/>
<path fill="#6eb72d" d="M225.6 244.6l5-3.6-2.3-3.4-5 3.5z"/>
<path fill="#6bb631" d="M220.6 248.2l5-3.6-2.3-3.5-5 3.5z"/>
<path fill="#68b536" d="M215.6 251.8l5-3.6-2.3-3.6-5 3.7z"/>
<path fill="#6bb62f" d="M228 248.2l5-3.6-2.4-3.6-5 3.6z"/>
<path fill="#69b534" d="M223 251.8l5-3.6-2.4-3.6-5 3.6z"/>
<path fill="#66b43a" d="M218 255.5l5-3.7-2.4-3.6-5 3.6z"/>
<path class="m" d="M218 255.5l15-10.9-7.1-10.4-15 10.6z"/>
<path fill="#69b54d" d="M202.9 267l15.1-11.5-7.1-10.7-15.2 11.1z"/>
<path fill="#68b537" d="M208.9 250.1l3.8-2.7-1.8-2.6-3.8 2.7z"/>
<path fill="#66b43c" d="M205.1 252.9l3.8-2.8-1.8-2.6-3.8 2.8z"/>
<path fill="#68b547" d="M201.3 255.8l3.8-2.9-1.8-2.6-3.8 2.8z"/>
<path fill="#6ab553" d="M197.5 258.6l3.8-2.8-1.8-2.7-3.8 2.8z"/>
<path fill="#66b439" d="M210.7 252.8l3.7-2.8-1.7-2.6-3.8 2.7z"/>
<path fill="#68b544" d="M206.9 255.6l3.8-2.8-1.8-2.7-3.8 2.8z"/>
<path fill="#69b54f" d="M203.1 258.5l3.8-2.9-1.8-2.7-3.8 2.9z"/>
<path fill="#6bb65a" d="M199.3 261.4l3.8-2.9-1.8-2.7-3.8 2.8z"/>
<path fill="#67b440" d="M212.5 255.5l3.7-2.8-1.8-2.7-3.7 2.8z"/>
<path fill="#69b54b" d="M208.7 258.4l3.8-2.9-1.8-2.7-3.8 2.8z"/>
<path fill="#6ab556" d="M204.9 261.2l3.8-2.8-1.8-2.8-3.8 2.9z"/>
<path fill="#6cb662" d="M201.1 264.1l3.8-2.9-1.8-2.7-3.8 2.9z"/>
<path fill="#68b547" d="M214.3 258.3l3.7-2.8-1.8-2.8-3.7 2.8z"/>
<path fill="#6ab552" d="M210.5 261.2l3.8-2.9-1.8-2.8-3.8 2.9z"/>
<path fill="#6cb65e" d="M206.7 264.1l3.8-2.9-1.8-2.8-3.8 2.8z"/>
<path fill="#6db86f" d="M202.9 267l3.8-2.9-1.8-2.9-3.8 2.9z"/>
<path class="m" d="M202.9 267l15.1-11.5-7.1-10.7-15.2 11.1z"/>
<path fill="#6fbc8b" d="M187.7 279l15.2-12-7.2-11.1-15.4 11.8z"/>
<path fill="#6cb65e" d="M193.7 261.5l3.8-2.9-1.8-2.7-3.8 2.9z"/>
<path fill="#6db86f" d="M189.8 264.4l3.9-2.9-1.8-2.7-3.9 2.9z"/>
<path fill="#6eba82" d="M186 267.4l3.8-3-1.8-2.7-3.8 3z"/>
<path fill="#6fbd95" d="M182.2 270.4l3.8-3-1.8-2.7-3.9 3z"/>
<path fill="#6db768" d="M195.5 264.3l3.8-2.9-1.8-2.8-3.8 2.9z"/>
<path fill="#6eba7b" d="M191.7 267.2l3.8-2.9-1.8-2.8-3.9 2.9z"/>
<path fill="#6fbc8e" d="M187.8 270.2l3.9-3-1.9-2.8-3.8 3z"/>
<path fill="#6fbea1" d="M184 273.2l3.8-3-1.8-2.8-3.8 3z"/>
<path fill="#6db975" d="M197.3 267.1l3.8-3-1.8-2.7-3.8 2.9z"/>
<path fill="#6fbb88" d="M193.5 270l3.8-2.9-1.8-2.8-3.8 2.9z"/>
<path fill="#70be9b" d="M189.7 273l3.8-3-1.8-2.8-3.9 3z"/>
<path fill="#6bbfaa" d="M185.8 276.1l3.9-3.1-1.9-2.8-3.8 3z"/>
<path fill="#6eba81" d="M199.1 269.9l3.8-2.9-1.8-2.9-3.8 3z"/>
<path fill="#6fbd94" d="M195.3 272.9l3.8-3-1.8-2.8-3.8 2.9z"/>
<path fill="#6dbfa5" d="M191.5 275.9l3.8-3-1.8-2.9-3.8 3z"/>
<path fill="#67c0b3" d="M187.7 279l3.8-3.1-1.8-2.9-3.9 3.1z"/>
<path class="m" d="M187.7 279l15.2-12-7.2-11.1-15.4 11.8z"/>
<path fill="#f8cf2d" d="M460.1 160.9l12.5-.2-9.1-3.5-12.2-.2z"/>
<path fill="#f8d62f" d="M462.4 158.2l4.1 .1-3-1.1-4-.1z"/>
<path fill="#f8d12e" d="M458.3 158.2l4.1 0-2.9-1.1-4.1-.1z"/>
<path fill="#f8cb2c" d="M454.2 158.2l4.1 0-2.9-1.2-4.1 0z"/>
<path fill="#f8d42f" d="M465.4 159.4l4.1 0-3-1.1-4.1-.1z"/>
<path fill="#f8cf2d" d="M461.3 159.4l4.1 0-3-1.2-4.1 0z"/>
<path fill="#f8c92c" d="M457.1 159.5l4.2-.1-3-1.2-4.1 0z"/>
<path fill="#f8d32e" d="M468.4 160.7l4.2 0-3.1-1.3-4.1 0z"/>
<path fill="#f8cd2d" d="M464.2 160.7l4.2 0-3-1.3-4.1 0z"/>
<path fill="#f8c82c" d="M460.1 160.9l4.1-.2-2.9-1.3-4.2 .1z"/>
<path class="m" d="M460.1 160.9l12.5-.2-9.1-3.5-12.2-.2z"/>
<path fill="#f8c02a" d="M447.4 161.8l12.7-.9-8.8-3.9-12.4 .5z"/>
<path fill="#f8c42b" d="M449.4 159.1l6.2-.3-4.3-1.8-6.2 .2z"/>
<path fill="#f8bf2a" d="M443.1 159.5l6.3-.4-4.3-1.9-6.2 .3z"/>
<path fill="#f8c32b" d="M453.7 161.2l6.4-.3-4.5-2.1-6.2 .3z"/>
<path fill="#f8be2a" d="M447.4 161.8l6.3-.6-4.3-2.1-6.3 .4z"/>
<path class="m" d="M447.4 161.8l12.7-.9-8.8-3.9-12.4 .5z"/>
<path fill="#f7ba29" d="M434.6 163.4l12.8-1.6-8.5-4.3-12.6 1.1z"/>
<path class="m" d="M434.6 163.4l12.8-1.6-8.5-4.3-12.6 1.1z"/>
<path fill="#f7b728" d="M421.6 165.6l13-2.2-8.3-4.8-12.8 1.8z"/>
<path class="m" d="M421.6 165.6l13-2.2-8.3-4.8-12.8 1.8z"/>
<path fill="#f7b728" d="M408.5 168.6l13.1-3-8.1-5.2-12.9 2.5z"/>
<path class="m" d="M408.5 168.6l13.1-3-8.1-5.2-12.9 2.5z"/>
<path fill="#f8bc29" d="M395.2 172.2l13.3-3.6-7.9-5.7-13.1 3.1z"/>
<path fill="#f7b929" d="M397.9 167.2l6.6-1.6-3.9-2.7-6.6 1.5z"/>
<path fill="#f8bb29" d="M391.3 169l6.6-1.8-3.9-2.8-6.5 1.6z"/>
<path fill="#f8bc29" d="M401.9 170.3l6.6-1.7-4-3-6.6 1.6z"/>
<path fill="#f8c02a" d="M395.2 172.2l6.7-1.9-4-3.1-6.6 1.8z"/>
<path class="m" d="M395.2 172.2l13.3-3.6-7.9-5.7-13.1 3.1z"/>
<path fill="#f8c52b" d="M381.8 176.5l13.4-4.3-7.7-6.2-13.3 3.8z"/>
<path fill="#f8be2a" d="M385.6 169.2l4.4-1.2-2.5-2-4.4 1.2z"/>
<path fill="#f8c12a" d="M381.2 170.6l4.4-1.4-2.5-2-4.4 1.3z"/>
<path fill="#f8c52b" d="M376.7 172l4.5-1.4-2.5-2.1-4.5 1.3z"/>
<path fill="#f8c12a" d="M388.2 171.4l4.4-1.3-2.6-2.1-4.4 1.2z"/>
<path fill="#f8c52b" d="M383.7 172.7l4.5-1.3-2.6-2.2-4.4 1.4z"/>
<path fill="#f8ca2c" d="M379.3 174.2l4.4-1.5-2.5-2.1-4.5 1.4z"/>
<path fill="#f8c62b" d="M390.8 173.6l4.4-1.4-2.6-2.1-4.4 1.3z"/>
<path fill="#f8ca2c" d="M386.3 175l4.5-1.4-2.6-2.2-4.5 1.3z"/>
<path fill="#f8cf2d" d="M381.8 176.5l4.5-1.5-2.6-2.3-4.4 1.5z"/>
<path class="m" d="M381.8 176.5l13.4-4.3-7.7-6.2-13.3 3.8z"/>
<path fill="#f8d42f" d="M368.2 181.6l13.6-5.1-7.6-6.7-13.4 4.5z"/>
<path fill="#f8ca2c" d="M372.3 173.5l4.4-1.5-2.5-2.2-4.4 1.5z"/>
<path fill="#f8cf2d" d="M367.8 175l4.5-1.5-2.5-2.2-4.5 1.5z"/>
<path fill="#f8d52f" d="M363.3 176.6l4.5-1.6-2.5-2.2-4.5 1.5z"/>
<path fill="#f8cf2d" d="M374.8 175.7l4.5-1.5-2.6-2.2-4.4 1.5z"/>
<path fill="#f8d42f" d="M370.3 177.4l4.5-1.7-2.5-2.2-4.5 1.5z"/>
<path fill="#f8da30" d="M365.7 179l4.6-1.6-2.5-2.4-4.5 1.6z"/>
<path fill="#f8d42f" d="M377.3 178.1l4.5-1.6-2.5-2.3-4.5 1.5z"/>
<path fill="#f8da30" d="M372.8 179.8l4.5-1.7-2.5-2.4-4.5 1.7z"/>
<path fill="#f8df31" d="M368.2 181.6l4.6-1.8-2.5-2.4-4.6 1.6z"/>
<path class="m" d="M368.2 181.6l13.6-5.1-7.6-6.7-13.4 4.5z"/>
<path fill="#f6e433" d="M354.5 187.2l13.7-5.6-7.4-7.3-13.6 5.2z"/>
<path fill="#f8da30" d="M358.7 178.4l4.6-1.8-2.5-2.3-4.5 1.7z"/>
<path fill="#f8e032" d="M354.2 180.1l4.5-1.7-2.4-2.4-4.6 1.7z"/>
<path fill="#f6e433" d="M349.6 182l4.6-1.9-2.5-2.4-4.5 1.8z"/>
<path fill="#f8e031" d="M361.2 180.8l4.5-1.8-2.4-2.4-4.6 1.8z"/>
<path fill="#f6e433" d="M356.6 182.7l4.6-1.9-2.5-2.4-4.5 1.7z"/>
<path fill="#f4e635" d="M352.1 184.6l4.5-1.9-2.4-2.6-4.6 1.9z"/>
<path fill="#f6e433" d="M363.7 183.4l4.5-1.8-2.5-2.6-4.5 1.8z"/>
<path fill="#f4e635" d="M359.1 185.3l4.6-1.9-2.5-2.6-4.6 1.9z"/>
<path fill="#f1e937" d="M354.5 187.2l4.6-1.9-2.5-2.6-4.5 1.9z"/>
<path class="m" d="M354.5 187.2l13.7-5.6-7.4-7.3-13.6 5.2z"/>
<path fill="#eae938" d="M340.7 193.6l13.8-6.4-7.3-7.7-13.7 5.9z"/>
<path fill="#f3e736" d="M345 183.9l4.6-1.9-2.4-2.5-4.6 1.9z"/>
<path fill="#f0ea38" d="M340.5 185.9l4.5-2-2.4-2.5-4.5 2z"/>
<path fill="#e9e938" d="M335.8 188l4.7-2.1-2.4-2.5-4.6 2z"/>
<path fill="#f1e938" d="M347.5 186.6l4.6-2-2.5-2.6-4.6 1.9z"/>
<path fill="#eae938" d="M342.9 188.6l4.6-2-2.5-2.7-4.5 2z"/>
<path fill="#e3e838" d="M338.3 190.7l4.6-2.1-2.4-2.7-4.7 2.1z"/>
<path fill="#ebe938" d="M349.9 189.3l4.6-2.1-2.4-2.6-4.6 2z"/>
<path fill="#e4e838" d="M345.3 191.4l4.6-2.1-2.4-2.7-4.6 2z"/>
<path fill="#dce638" d="M340.7 193.6l4.6-2.2-2.4-2.8-4.6 2.1z"/>
<path class="m" d="M340.7 193.6l13.8-6.4-7.3-7.7-13.7 5.9z"/>
<path fill="#d4e436" d="M326.7 200.6l14-7-7.2-8.2-14 6.5z"/>
<path fill="#e3e838" d="M331.8 188.9l3.4-1.6-1.7-1.9-3.5 1.6z"/>
<path fill="#dde738" d="M328.3 190.6l3.5-1.7-1.8-1.9-3.5 1.6z"/>
<path fill="#d8e537" d="M324.8 192.3l3.5-1.7-1.8-2-3.5 1.6z"/>
<path fill="#d3e336" d="M321.3 194l3.5-1.7-1.8-2.1-3.5 1.7z"/>
<path fill="#dee738" d="M333.6 191l3.4-1.6-1.8-2.1-3.4 1.6z"/>
<path fill="#d9e638" d="M330.1 192.7l3.5-1.7-1.8-2.1-3.5 1.7z"/>
<path fill="#d4e436" d="M326.6 194.4l3.5-1.7-1.8-2.1-3.5 1.7z"/>
<path fill="#cfe235" d="M323.1 196.1l3.5-1.7-1.8-2.1-3.5 1.7z"/>
<path fill="#d9e638" d="M335.4 193.1l3.5-1.7-1.9-2-3.4 1.6z"/>
<path fill="#d5e437" d="M331.9 194.8l3.5-1.7-1.8-2.1-3.5 1.7z"/>
<path fill="#d0e235" d="M328.4 196.6l3.5-1.8-1.8-2.1-3.5 1.7z"/>
<path fill="#cbe034" d="M324.9 198.3l3.5-1.7-1.8-2.2-3.5 1.7z"/>
<path fill="#d5e437" d="M337.2 195.3l3.5-1.7-1.8-2.2-3.5 1.7z"/>
<path fill="#d0e235" d="M333.7 197l3.5-1.7-1.8-2.2-3.5 1.7z"/>
<path fill="#cbe134" d="M330.2 198.8l3.5-1.8-1.8-2.2-3.5 1.8z"/>
<path fill="#c6df33" d="M326.7 200.6l3.5-1.8-1.8-2.2-3.5 1.7z"/>
<path class="m" d="M326.7 200.6l14-7-7.2-8.2-14 6.5z"/>
<path fill="#c0dc31" d="M312.6 208.3l14.1-7.7-7.2-8.7-14 7.2z"/>
<path fill="#cee235" d="M317.8 195.8l3.5-1.8-1.8-2.1-3.5 1.7z"/>
<path fill="#c9e033" d="M314.3 197.6l3.5-1.8-1.8-2.2-3.5 1.8z"/>
<path fill="#c4de32" d="M310.8 199.4l3.5-1.8-1.8-2.2-3.5 1.8z"/>
<path fill="#bfdc31" d="M307.3 201.3l3.5-1.9-1.8-2.2-3.5 1.9z"/>
<path fill="#cae034" d="M319.6 197.9l3.5-1.8-1.8-2.1-3.5 1.8z"/>
<path fill="#c4de32" d="M316.1 199.8l3.5-1.9-1.8-2.1-3.5 1.8z"/>
<path fill="#c0dc31" d="M312.6 201.6l3.5-1.8-1.8-2.2-3.5 1.8z"/>
<path fill="#bcda31" d="M309 203.6l3.6-2-1.8-2.2-3.5 1.9z"/>
<path fill="#c5df32" d="M321.4 200.2l3.5-1.9-1.8-2.2-3.5 1.8z"/>
<path fill="#c1dd32" d="M317.9 202l3.5-1.8-1.8-2.3-3.5 1.9z"/>
<path fill="#bcdb31" d="M314.3 203.9l3.6-1.9-1.8-2.2-3.5 1.8z"/>
<path fill="#b8d930" d="M310.8 205.9l3.5-2-1.7-2.3-3.6 2z"/>
<path fill="#c1dd32" d="M323.2 202.5l3.5-1.9-1.8-2.3-3.5 1.9z"/>
<path fill="#bddb31" d="M319.7 204.4l3.5-1.9-1.8-2.3-3.5 1.8z"/>
<path fill="#b9d930" d="M316.1 206.3l3.6-1.9-1.8-2.4-3.6 1.9z"/>
<path fill="#b4d730" d="M312.6 208.3l3.5-2-1.8-2.4-3.5 2z"/>
<path class="m" d="M312.6 208.3l14.1-7.7-7.2-8.7-14 7.2z"/>
<path fill="#aed52f" d="M298.3 216.6l14.3-8.3-7.1-9.2-14.2 7.8z"/>
<path fill="#b9d930" d="M303.1 204.6l4.7-2.6-2.3-2.9-4.7 2.5z"/>
<path fill="#b3d730" d="M298.4 207.3l4.7-2.7-2.3-3-4.8 2.6z"/>
<path fill="#acd42f" d="M293.6 210l4.8-2.7-2.4-3.1-4.7 2.7z"/>
<path fill="#b4d730" d="M305.5 207.7l4.7-2.6-2.4-3.1-4.7 2.6z"/>
<path fill="#aed52f" d="M300.7 210.5l4.8-2.8-2.4-3.1-4.7 2.7z"/>
<path fill="#a7d22e" d="M296 213.3l4.7-2.8-2.3-3.2-4.8 2.7z"/>
<path fill="#afd52f" d="M307.8 211l4.8-2.7-2.4-3.2-4.7 2.6z"/>
<path fill="#a8d22e" d="M303.1 213.7l4.7-2.7-2.3-3.3-4.8 2.8z"/>
<path fill="#a3d02d" d="M298.3 216.6l4.8-2.9-2.4-3.2-4.7 2.8z"/>
<path class="m" d="M298.3 216.6l14.3-8.3-7.1-9.2-14.2 7.8z"/>
<path fill="#9ccc2c" d="M284 225.5l14.3-8.9-7-9.7-14.4 8.5z"/>
<path fill="#a6d12e" d="M288.8 212.8l4.8-2.8-2.3-3.1-4.8 2.8z"/>
<path fill="#a1cf2d" d="M284.1 215.7l4.7-2.9-2.3-3.1-4.8 2.8z"/>
<path fill="#9bcc2c" d="M279.3 218.7l4.8-3-2.4-3.2-4.8 2.9z"/>
<path fill="#a2cf2d" d="M291.2 216.1l4.8-2.8-2.4-3.3-4.8 2.8z"/>
<path fill="#9ccc2c" d="M286.4 219l4.8-2.9-2.4-3.3-4.7 2.9z"/>
<path fill="#96ca2b" d="M281.6 222l4.8-3-2.3-3.3-4.8 3z"/>
<path fill="#9dcd2c" d="M293.6 219.5l4.7-2.9-2.3-3.3-4.8 2.8z"/>
<path fill="#97ca2b" d="M288.8 222.5l4.8-3-2.4-3.4-4.8 2.9z"/>
<path fill="#91c72a" d="M284 225.5l4.8-3-2.4-3.5-4.8 3z"/>
<path class="m" d="M284 225.5l14.3-8.9-7-9.7-14.4 8.5z"/>
<path fill="#8bc52a" d="M269.5 235l14.5-9.5-7.1-10.1-14.5 9.1z"/>
<path fill="#95c92b" d="M274.4 221.7l4.9-3-2.4-3.3-4.8 3z"/>
<path fill="#8ec62a" d="M269.6 224.8l4.8-3.1-2.3-3.3-4.8 3z"/>
<path fill="#89c42a" d="M264.8 227.9l4.8-3.1-2.3-3.4-4.9 3.1z"/>
<path fill="#90c72a" d="M276.8 225.1l4.8-3.1-2.3-3.3-4.9 3z"/>
<path fill="#8bc52a" d="M272 228.2l4.8-3.1-2.4-3.4-4.8 3.1z"/>
<path fill="#86c32a" d="M267.1 231.4l4.9-3.2-2.4-3.4-4.8 3.1z"/>
<path fill="#8cc52a" d="M279.1 228.6l4.9-3.1-2.4-3.5-4.8 3.1z"/>
<path fill="#87c32a" d="M274.3 231.8l4.8-3.2-2.3-3.5-4.8 3.1z"/>
<path fill="#82c12a" d="M269.5 235l4.8-3.2-2.3-3.6-4.9 3.2z"/>
<path class="m" d="M269.5 235l14.5-9.5-7.1-10.1-14.5 9.1z"/>
<path fill="#7bbf2a" d="M254.9 245.2l14.6-10.2-7.1-10.5-14.6 9.8z"/>
<path fill="#84c22a" d="M259.9 231.2l4.9-3.3-2.4-3.4-4.9 3.2z"/>
<path fill="#7fc02a" d="M255 234.4l4.9-3.2-2.4-3.5-4.8 3.3z"/>
<path fill="#7abe2a" d="M250.1 237.8l4.9-3.4-2.3-3.4-4.9 3.3z"/>
<path fill="#81c12a" d="M262.2 234.7l4.9-3.3-2.3-3.5-4.9 3.3z"/>
<path fill="#7bbf2a" d="M257.4 238l4.8-3.3-2.3-3.5-4.9 3.2z"/>
<path fill="#77bc2b" d="M252.5 241.4l4.9-3.4-2.4-3.6-4.9 3.4z"/>
<path fill="#7cbf2a" d="M264.6 238.4l4.9-3.4-2.4-3.6-4.9 3.3z"/>
<path fill="#78bd2b" d="M259.7 241.7l4.9-3.3-2.4-3.7-4.8 3.3z"/>
<path fill="#73ba2c" d="M254.9 245.2l4.8-3.5-2.3-3.7-4.9 3.4z"/>
<path class="m" d="M254.9 245.2l14.6-10.2-7.1-10.5-14.6 9.8z"/>
<path fill="#6eb72e" d="M240.1 255.9l14.8-10.7-7.1-10.9-14.8 10.3z"/>
<path fill="#74ba2c" d="M243.9 244.8l7.4-5.2-3.5-5.3-7.4 5.1z"/>
<path fill="#6db62e" d="M236.5 250.1l7.4-5.3-3.5-5.4-7.4 5.2z"/>
<path fill="#6eb72d" d="M247.5 250.5l7.4-5.3-3.6-5.6-7.4 5.2z"/>
<path fill="#69b533" d="M240.1 255.9l7.4-5.4-3.6-5.7-7.4 5.3z"/>
<path class="m" d="M240.1 255.9l14.8-10.7-7.1-10.9-14.8 10.3z"/>
<path fill="#67b43f" d="M225.3 267.1l14.8-11.2-7.1-11.3-15 10.9z"/>
<path fill="#6ab532" d="M231 250l3.7-2.7-1.7-2.7-3.8 2.7z"/>
<path fill="#68b536" d="M227.3 252.8l3.7-2.8-1.8-2.7-3.7 2.7z"/>
<path fill="#66b43a" d="M223.6 255.5l3.7-2.7-1.8-2.8-3.7 2.7z"/>
<path fill="#68b544" d="M219.8 258.3l3.8-2.8-1.8-2.8-3.8 2.8z"/>
<path fill="#69b535" d="M232.8 252.8l3.7-2.7-1.8-2.8-3.7 2.7z"/>
<path fill="#67b439" d="M229.1 255.6l3.7-2.8-1.8-2.8-3.7 2.8z"/>
<path fill="#67b441" d="M225.4 258.4l3.7-2.8-1.8-2.8-3.7 2.7z"/>
<path fill="#69b54c" d="M221.6 261.2l3.8-2.8-1.8-2.9-3.8 2.8z"/>
<path fill="#67b438" d="M234.6 255.7l3.7-2.7-1.8-2.9-3.7 2.7z"/>
<path fill="#67b43e" d="M230.9 258.5l3.7-2.8-1.8-2.9-3.7 2.8z"/>
<path fill="#68b549" d="M227.2 261.3l3.7-2.8-1.8-2.9-3.7 2.8z"/>
<path fill="#6ab554" d="M223.4 264.1l3.8-2.8-1.8-2.9-3.8 2.8z"/>
<path fill="#66b43c" d="M236.4 258.6l3.7-2.7-1.8-2.9-3.7 2.7z"/>
<path fill="#68b546" d="M232.7 261.4l3.7-2.8-1.8-2.9-3.7 2.8z"/>
<path fill="#6ab551" d="M229 264.3l3.7-2.9-1.8-2.9-3.7 2.8z"/>
<path fill="#6bb65c" d="M225.3 267.1l3.7-2.8-1.8-3-3.8 2.8z"/>
<path class="m" d="M225.3 267.1l14.8-11.2-7.1-11.3-15 10.9z"/>
<path fill="#6db974" d="M210.3 278.9l15-11.8-7.3-11.6-15.1 11.5z"/>
<path fill="#69b54f" d="M216.1 261.2l3.7-2.9-1.8-2.8-3.7 2.8z"/>
<path fill="#6bb65a" d="M212.3 264l3.8-2.8-1.8-2.9-3.8 2.9z"/>
<path fill="#6db769" d="M208.5 266.9l3.8-2.9-1.8-2.8-3.8 2.9z"/>
<path fill="#6eba7c" d="M204.7 269.9l3.8-3-1.8-2.8-3.8 2.9z"/>
<path fill="#6bb657" d="M217.9 264.1l3.7-2.9-1.8-2.9-3.7 2.9z"/>
<path fill="#6cb664" d="M214.1 267l3.8-2.9-1.8-2.9-3.8 2.8z"/>
<path fill="#6db976" d="M210.4 269.9l3.7-2.9-1.8-3-3.8 2.9z"/>
<path fill="#6fbb89" d="M206.6 272.8l3.8-2.9-1.9-3-3.8 3z"/>
<path fill="#6cb65f" d="M219.7 267l3.7-2.9-1.8-2.9-3.7 2.9z"/>
<path fill="#6db871" d="M215.9 269.9l3.8-2.9-1.8-2.9-3.8 2.9z"/>
<path fill="#6ebb84" d="M212.2 272.9l3.7-3-1.8-2.9-3.7 2.9z"/>
<path fill="#70bd97" d="M208.4 275.8l3.8-2.9-1.8-3-3.8 2.9z"/>
<path fill="#6db86c" d="M221.5 270l3.8-2.9-1.9-3-3.7 2.9z"/>
<path fill="#6eba7f" d="M217.8 273l3.7-3-1.8-3-3.8 2.9z"/>
<path fill="#6fbc92" d="M214 275.9l3.8-2.9-1.9-3.1-3.7 3z"/>
<path fill="#6ebea3" d="M210.3 278.9l3.7-3-1.8-3-3.8 2.9z"/>
<path class="m" d="M210.3 278.9l15-11.8-7.3-11.6-15.1 11.5z"/>
<path fill="#66c0b6" d="M195.2 291.2l15.1-12.3-7.4-11.9-15.2 12z"/>
<path fill="#6fbc8f" d="M201 272.8l3.7-2.9-1.8-2.9-3.8 2.9z"/>
<path fill="#6fbea1" d="M197.2 275.8l3.8-3-1.9-2.9-3.8 3z"/>
<path fill="#69bfae" d="M193.4 278.9l3.8-3.1-1.9-2.9-3.8 3z"/>
<path fill="#63c1bd" d="M189.5 281.9l3.9-3-1.9-3-3.8 3.1z"/>
<path fill="#70be9c" d="M202.8 275.8l3.8-3-1.9-2.9-3.7 2.9z"/>
<path fill="#6bbfaa" d="M199 278.8l3.8-3-1.8-3-3.8 3z"/>
<path fill="#65c0b8" d="M195.2 281.9l3.8-3.1-1.8-3-3.8 3.1z"/>
<path fill="#5fc1c6" d="M191.4 285l3.8-3.1-1.8-3-3.9 3z"/>
<path fill="#6cbfa7" d="M204.7 278.9l3.7-3.1-1.8-3-3.8 3z"/>
<path fill="#67c0b4" d="M200.9 281.9l3.8-3-1.9-3.1-3.8 3z"/>
<path fill="#61c1c2" d="M197.1 285l3.8-3.1-1.9-3.1-3.8 3.1z"/>
<path fill="#5ac1d0" d="M193.3 288.1l3.8-3.1-1.9-3.1-3.8 3.1z"/>
<path fill="#68c0b1" d="M206.5 281.9l3.8-3-1.9-3.1-3.7 3.1z"/>
<path fill="#62c1bf" d="M202.7 285l3.8-3.1-1.8-3-3.8 3z"/>
<path fill="#5dc2cd" d="M199 288.1l3.7-3.1-1.8-3.1-3.8 3.1z"/>
<path fill="#50bfd8" d="M195.2 291.2l3.8-3.1-1.9-3.1-3.8 3.1z"/>
<path class="m" d="M195.2 291.2l15.1-12.3-7.4-11.9-15.2 12z"/>
<path fill="#f8cc2d" d="M469 165.6l12.7-.7-9.1-4.2-12.5 .2z"/>
<path fill="#f8d02e" d="M470.8 162.8l6.3-.1-4.5-2-6.3 0z"/>
<path fill="#f8c92c" d="M464.5 163.1l6.3-.3-4.5-2.1-6.2 .2z"/>
<path fill="#f8d02e" d="M475.4 165.2l6.3-.3-4.6-2.2-6.3 .1z"/>
<path fill="#f8c92c" d="M469 165.6l6.4-.4-4.6-2.4-6.3 .3z"/>
<path class="m" d="M469 165.6l12.7-.7-9.1-4.2-12.5 .2z"/>
<path fill="#f8c12a" d="M456.1 166.9l12.9-1.3-8.9-4.7-12.7 .9z"/>
<path fill="#f8c32b" d="M458.1 163.6l6.4-.5-4.4-2.2-6.4 .3z"/>
<path fill="#f8bf2a" d="M451.7 164.2l6.4-.6-4.4-2.4-6.3 .6z"/>
<path fill="#f8c42b" d="M462.6 166.2l6.4-.6-4.5-2.5-6.4 .5z"/>
<path fill="#f8c02a" d="M456.1 166.9l6.5-.7-4.5-2.6-6.4 .6z"/>
<path class="m" d="M456.1 166.9l12.9-1.3-8.9-4.7-12.7 .9z"/>
<path fill="#f8bc29" d="M443 169l13.1-2.1-8.7-5.1-12.8 1.6z"/>
<path fill="#f8bc29" d="M445.3 165.1l6.4-.9-4.3-2.4-6.4 .7z"/>
<path fill="#f7bb29" d="M438.8 166.1l6.5-1-4.3-2.6-6.4 .9z"/>
<path fill="#f8be2a" d="M449.6 167.8l6.5-.9-4.4-2.7-6.4 .9z"/>
<path fill="#f8be2a" d="M443 169l6.6-1.2-4.3-2.7-6.5 1z"/>
<path class="m" d="M443 169l13.1-2.1-8.7-5.1-12.8 1.6z"/>
<path fill="#f8bc29" d="M429.9 171.7l13.1-2.7-8.4-5.6-13 2.2z"/>
<path fill="#f7ba29" d="M432.3 167.2l6.5-1.1-4.2-2.7-6.5 1z"/>
<path fill="#f7ba29" d="M425.7 168.6l6.6-1.4-4.2-2.8-6.5 1.2z"/>
<path fill="#f8be2a" d="M436.5 170.3l6.5-1.3-4.2-2.9-6.5 1.1z"/>
<path fill="#f8bf2a" d="M429.9 171.7l6.6-1.4-4.2-3.1-6.6 1.4z"/>
<path class="m" d="M429.9 171.7l13.1-2.7-8.4-5.6-13 2.2z"/>
<path fill="#f8bf2a" d="M416.5 175.2l13.4-3.5-8.3-6.1-13.1 3z"/>
<path fill="#f8bc29" d="M419.1 170.1l6.6-1.5-4.1-3-6.5 1.4z"/>
<path fill="#f8be2a" d="M412.5 171.8l6.6-1.7-4-3.1-6.6 1.6z"/>
<path fill="#f8c12a" d="M423.2 173.4l6.7-1.7-4.2-3.1-6.6 1.5z"/>
<path fill="#f8c42b" d="M416.5 175.2l6.7-1.8-4.1-3.3-6.6 1.7z"/>
<path class="m" d="M416.5 175.2l13.4-3.5-8.3-6.1-13.1 3z"/>
<path fill="#f8c82c" d="M403.1 179.3l13.4-4.1-8-6.6-13.3 3.6z"/>
<path fill="#f8c02a" d="M406.7 171.9l4.5-1.2-2.7-2.1-4.4 1.1z"/>
<path fill="#f8c32b" d="M402.3 173.1l4.4-1.2-2.6-2.2-4.4 1.2z"/>
<path fill="#f8c72b" d="M397.8 174.5l4.5-1.4-2.6-2.2-4.5 1.3z"/>
<path fill="#f8c42b" d="M409.4 174.1l4.4-1.2-2.6-2.2-4.5 1.2z"/>
<path fill="#f8c82c" d="M404.9 175.4l4.5-1.3-2.7-2.2-4.4 1.2z"/>
<path fill="#f8cc2d" d="M400.4 176.9l4.5-1.5-2.6-2.3-4.5 1.4z"/>
<path fill="#f8ca2c" d="M412.1 176.5l4.4-1.3-2.7-2.3-4.4 1.2z"/>
<path fill="#f8ce2d" d="M407.6 177.9l4.5-1.4-2.7-2.4-4.5 1.3z"/>
<path fill="#f8d22e" d="M403.1 179.3l4.5-1.4-2.7-2.5-4.5 1.5z"/>
<path class="m" d="M403.1 179.3l13.4-4.1-8-6.6-13.3 3.6z"/>
<path fill="#f8d62f" d="M389.5 184.2l13.6-4.9-7.9-7.1-13.4 4.3z"/>
<path fill="#f8cb2c" d="M393.3 175.9l4.5-1.4-2.6-2.3-4.4 1.4z"/>
<path fill="#f8d02d" d="M388.9 177.4l4.4-1.5-2.5-2.3-4.5 1.4z"/>
<path fill="#f8d52f" d="M384.3 179l4.6-1.6-2.6-2.4-4.5 1.5z"/>
<path fill="#f8d12e" d="M395.9 178.3l4.5-1.4-2.6-2.4-4.5 1.4z"/>
<path fill="#f8d62f" d="M391.4 179.9l4.5-1.6-2.6-2.4-4.4 1.5z"/>
<path fill="#f8db30" d="M386.9 181.5l4.5-1.6-2.5-2.5-4.6 1.6z"/>
<path fill="#f8d72f" d="M398.6 180.9l4.5-1.6-2.7-2.4-4.5 1.4z"/>
<path fill="#f8dc30" d="M394 182.5l4.6-1.6-2.7-2.6-4.5 1.6z"/>
<path fill="#f8e132" d="M389.5 184.2l4.5-1.7-2.6-2.6-4.5 1.6z"/>
<path class="m" d="M389.5 184.2l13.6-4.9-7.9-7.1-13.4 4.3z"/>
<path fill="#f6e433" d="M375.8 189.7l13.7-5.5-7.7-7.7-13.6 5.1z"/>
<path fill="#f8da30" d="M379.8 180.6l4.5-1.6-2.5-2.5-4.5 1.6z"/>
<path fill="#f8e031" d="M375.3 182.4l4.5-1.8-2.5-2.5-4.5 1.7z"/>
<path fill="#f6e433" d="M370.7 184.2l4.6-1.8-2.5-2.6-4.6 1.8z"/>
<path fill="#f8e032" d="M382.4 183.2l4.5-1.7-2.6-2.5-4.5 1.6z"/>
<path fill="#f6e433" d="M377.8 185l4.6-1.8-2.6-2.6-4.5 1.8z"/>
<path fill="#f4e635" d="M373.3 186.9l4.5-1.9-2.5-2.6-4.6 1.8z"/>
<path fill="#f6e434" d="M384.9 185.9l4.6-1.7-2.6-2.7-4.5 1.7z"/>
<path fill="#f3e735" d="M380.4 187.8l4.5-1.9-2.5-2.7-4.6 1.8z"/>
<path fill="#f1e938" d="M375.8 189.7l4.6-1.9-2.6-2.8-4.5 1.9z"/>
<path class="m" d="M375.8 189.7l13.7-5.5-7.7-7.7-13.6 5.1z"/>
<path fill="#ebe938" d="M362 195.9l13.8-6.2-7.6-8.1-13.7 5.6z"/>
<path fill="#f4e635" d="M366.2 186l4.5-1.8-2.5-2.6-4.5 1.8z"/>
<path fill="#f1e937" d="M361.6 188l4.6-2-2.5-2.6-4.6 1.9z"/>
<path fill="#ebe938" d="M357 190l4.6-2-2.5-2.7-4.6 1.9z"/>
<path fill="#f1e937" d="M368.7 188.8l4.6-1.9-2.6-2.7-4.5 1.8z"/>
<path fill="#ebe938" d="M364.1 190.8l4.6-2-2.5-2.8-4.6 2z"/>
<path fill="#e4e838" d="M359.5 192.9l4.6-2.1-2.5-2.8-4.6 2z"/>
<path fill="#ebe938" d="M371.2 191.7l4.6-2-2.5-2.8-4.6 1.9z"/>
<path fill="#e4e838" d="M366.6 193.7l4.6-2-2.5-2.9-4.6 2z"/>
<path fill="#dce638" d="M362 195.9l4.6-2.2-2.5-2.9-4.6 2.1z"/>
<path class="m" d="M362 195.9l13.8-6.2-7.6-8.1-13.7 5.6z"/>
<path fill="#d6e437" d="M348 202.7l14-6.8-7.5-8.7-13.8 6.4z"/>
<path fill="#e6e838" d="M352.9 190.9l3.5-1.6-1.9-2.1-3.4 1.6z"/>
<path fill="#e0e738" d="M349.4 192.5l3.5-1.6-1.8-2.1-3.5 1.5z"/>
<path fill="#dae638" d="M346 194.1l3.4-1.6-1.8-2.2-3.5 1.6z"/>
<path fill="#d6e437" d="M342.5 195.8l3.5-1.7-1.9-2.2-3.4 1.7z"/>
<path fill="#e0e738" d="M354.8 193l3.4-1.6-1.8-2.1-3.5 1.6z"/>
<path fill="#dae638" d="M351.3 194.7l3.5-1.7-1.9-2.1-3.5 1.6z"/>
<path fill="#d6e437" d="M347.8 196.3l3.5-1.6-1.9-2.2-3.4 1.6z"/>
<path fill="#d1e336" d="M344.3 198l3.5-1.7-1.8-2.2-3.5 1.7z"/>
<path fill="#dae638" d="M356.6 195.2l3.5-1.6-1.9-2.2-3.4 1.6z"/>
<path fill="#d6e437" d="M353.1 196.9l3.5-1.7-1.8-2.2-3.5 1.7z"/>
<path fill="#d1e336" d="M349.7 198.6l3.4-1.7-1.8-2.2-3.5 1.6z"/>
<path fill="#cce134" d="M346.2 200.4l3.5-1.8-1.9-2.3-3.5 1.7z"/>
<path fill="#d6e437" d="M358.5 197.5l3.5-1.6-1.9-2.3-3.5 1.6z"/>
<path fill="#d1e336" d="M355 199.2l3.5-1.7-1.9-2.3-3.5 1.7z"/>
<path fill="#cce134" d="M351.5 201l3.5-1.8-1.9-2.3-3.4 1.7z"/>
<path fill="#c7df33" d="M348 202.7l3.5-1.7-1.8-2.4-3.5 1.8z"/>
<path class="m" d="M348 202.7l14-6.8-7.5-8.7-13.8 6.4z"/>
<path fill="#c2dd32" d="M334 210.2l14-7.5-7.3-9.1-14 7z"/>
<path fill="#d1e335" d="M339 197.5l3.5-1.7-1.8-2.2-3.5 1.7z"/>
<path fill="#cce134" d="M335.5 199.3l3.5-1.8-1.8-2.2-3.5 1.7z"/>
<path fill="#c7df33" d="M332 201.1l3.5-1.8-1.8-2.3-3.5 1.8z"/>
<path fill="#c2dd32" d="M328.5 202.9l3.5-1.8-1.8-2.3-3.5 1.8z"/>
<path fill="#cce134" d="M340.8 199.8l3.5-1.8-1.8-2.2-3.5 1.7z"/>
<path fill="#c7df33" d="M337.3 201.6l3.5-1.8-1.8-2.3-3.5 1.8z"/>
<path fill="#c2dd32" d="M333.8 203.4l3.5-1.8-1.8-2.3-3.5 1.8z"/>
<path fill="#bedb31" d="M330.3 205.3l3.5-1.9-1.8-2.3-3.5 1.8z"/>
<path fill="#c7df33" d="M342.7 202.1l3.5-1.7-1.9-2.4-3.5 1.8z"/>
<path fill="#c2dd32" d="M339.2 204l3.5-1.9-1.9-2.3-3.5 1.8z"/>
<path fill="#bedc31" d="M335.7 205.8l3.5-1.8-1.9-2.4-3.5 1.8z"/>
<path fill="#bada31" d="M332.1 207.7l3.6-1.9-1.9-2.4-3.5 1.9z"/>
<path fill="#c2dd32" d="M344.5 204.5l3.5-1.8-1.8-2.3-3.5 1.7z"/>
<path fill="#bedc31" d="M341 206.4l3.5-1.9-1.8-2.4-3.5 1.9z"/>
<path fill="#bada31" d="M337.5 208.3l3.5-1.9-1.8-2.4-3.5 1.8z"/>
<path fill="#b6d830" d="M334 210.2l3.5-1.9-1.8-2.5-3.6 1.9z"/>
<path class="m" d="M334 210.2l14-7.5-7.3-9.1-14 7z"/>
<path fill="#b1d62f" d="M319.8 218.4l14.2-8.2-7.3-9.6-14.1 7.7z"/>
<path fill="#bcdb31" d="M324.4 206.2l4.7-2.5-2.4-3.1-4.7 2.5z"/>
<path fill="#b6d830" d="M319.7 208.9l4.7-2.7-2.4-3.1-4.7 2.5z"/>
<path fill="#b0d52f" d="M315 211.5l4.7-2.6-2.4-3.3-4.7 2.7z"/>
<path fill="#b7d830" d="M326.8 209.5l4.7-2.6-2.4-3.2-4.7 2.5z"/>
<path fill="#b1d62f" d="M322.1 212.2l4.7-2.7-2.4-3.3-4.7 2.7z"/>
<path fill="#aad32e" d="M317.4 214.9l4.7-2.7-2.4-3.3-4.7 2.6z"/>
<path fill="#b1d62f" d="M329.2 212.9l4.8-2.7-2.5-3.3-4.7 2.6z"/>
<path fill="#abd32e" d="M324.5 215.6l4.7-2.7-2.4-3.4-4.7 2.7z"/>
<path fill="#a5d02d" d="M319.8 218.4l4.7-2.8-2.4-3.4-4.7 2.7z"/>
<path class="m" d="M319.8 218.4l14.2-8.2-7.3-9.6-14.1 7.7z"/>
<path fill="#9fce2d" d="M305.5 227.2l14.3-8.8-7.2-10.1-14.3 8.3z"/>
<path fill="#a9d32e" d="M310.2 214.3l4.8-2.8-2.4-3.2-4.8 2.7z"/>
<path fill="#a4d02d" d="M305.5 217.1l4.7-2.8-2.4-3.3-4.7 2.7z"/>
<path fill="#9ecd2c" d="M300.7 220l4.8-2.9-2.4-3.4-4.8 2.9z"/>
<path fill="#a4d02d" d="M312.6 217.7l4.8-2.8-2.4-3.4-4.8 2.8z"/>
<path fill="#9fce2d" d="M307.9 220.6l4.7-2.9-2.4-3.4-4.7 2.8z"/>
<path fill="#99cb2c" d="M303.1 223.5l4.8-2.9-2.4-3.5-4.8 2.9z"/>
<path fill="#9fce2d" d="M315 221.2l4.8-2.8-2.4-3.5-4.8 2.8z"/>
<path fill="#9acb2c" d="M310.3 224.2l4.7-3-2.4-3.5-4.7 2.9z"/>
<path fill="#94c92b" d="M305.5 227.2l4.8-3-2.4-3.6-4.8 2.9z"/>
<path class="m" d="M305.5 227.2l14.3-8.8-7.2-10.1-14.3 8.3z"/>
<path fill="#8dc62a" d="M291.1 236.5l14.4-9.3-7.2-10.6-14.3 8.9z"/>
<path fill="#98cb2c" d="M295.9 222.9l4.8-2.9-2.4-3.4-4.7 2.9z"/>
<path fill="#92c82b" d="M291.1 226l4.8-3.1-2.3-3.4-4.8 3z"/>
<path fill="#8dc52a" d="M286.3 229.1l4.8-3.1-2.3-3.5-4.8 3z"/>
<path fill="#93c82b" d="M298.3 226.5l4.8-3-2.4-3.5-4.8 2.9z"/>
<path fill="#8dc62a" d="M293.5 229.6l4.8-3.1-2.4-3.6-4.8 3.1z"/>
<path fill="#88c42a" d="M288.7 232.7l4.8-3.1-2.4-3.6-4.8 3.1z"/>
<path fill="#8ec62a" d="M300.7 230.2l4.8-3-2.4-3.7-4.8 3z"/>
<path fill="#89c42a" d="M295.9 233.3l4.8-3.1-2.4-3.7-4.8 3.1z"/>
<path fill="#84c22a" d="M291.1 236.5l4.8-3.2-2.4-3.7-4.8 3.1z"/>
<path class="m" d="M291.1 236.5l14.4-9.3-7.2-10.6-14.3 8.9z"/>
<path fill="#7ec02a" d="M276.7 246.5l14.4-10-7.1-11-14.5 9.5z"/>
<path fill="#88c32a" d="M281.5 232.2l4.8-3.1-2.3-3.6-4.9 3.1z"/>
<path fill="#83c12a" d="M276.7 235.5l4.8-3.3-2.4-3.6-4.8 3.2z"/>
<path fill="#7dbf2a" d="M271.9 238.8l4.8-3.3-2.4-3.7-4.8 3.2z"/>
<path fill="#83c22a" d="M283.9 236l4.8-3.3-2.4-3.6-4.8 3.1z"/>
<path fill="#7ec02a" d="M279.1 239.2l4.8-3.2-2.4-3.8-4.8 3.3z"/>
<path fill="#79be2a" d="M274.2 242.6l4.9-3.4-2.4-3.7-4.8 3.3z"/>
<path fill="#7fc02a" d="M286.3 239.8l4.8-3.3-2.4-3.8-4.8 3.3z"/>
<path fill="#7abe2a" d="M281.5 243.1l4.8-3.3-2.4-3.8-4.8 3.2z"/>
<path fill="#76bb2b" d="M276.7 246.5l4.8-3.4-2.4-3.9-4.9 3.4z"/>
<path class="m" d="M276.7 246.5l14.4-10-7.1-11-14.5 9.5z"/>
<path fill="#70b92d" d="M262.1 257l14.6-10.5-7.2-11.5-14.6 10.2z"/>
<path fill="#79bd2a" d="M267 242.1l4.9-3.3-2.4-3.8-4.9 3.4z"/>
<path fill="#74bb2c" d="M262.1 245.5l4.9-3.4-2.4-3.7-4.9 3.3z"/>
<path fill="#70b82d" d="M257.2 249l4.9-3.5-2.4-3.8-4.8 3.5z"/>
<path fill="#75bb2b" d="M269.4 246l4.8-3.4-2.3-3.8-4.9 3.3z"/>
<path fill="#70b92d" d="M264.5 249.4l4.9-3.4-2.4-3.9-4.9 3.4z"/>
<path fill="#6cb62e" d="M259.7 253l4.8-3.6-2.4-3.9-4.9 3.5z"/>
<path fill="#71b92d" d="M271.8 250l4.9-3.5-2.5-3.9-4.8 3.4z"/>
<path fill="#6db62e" d="M266.9 253.5l4.9-3.5-2.4-4-4.9 3.4z"/>
<path fill="#6ab532" d="M262.1 257l4.8-3.5-2.4-4.1-4.8 3.6z"/>
<path class="m" d="M262.1 257l14.6-10.5-7.2-11.5-14.6 10.2z"/>
<path fill="#67b439" d="M247.4 268.1l14.7-11.1-7.2-11.8-14.8 10.7z"/>
<path fill="#6cb62e" d="M253 250.7l3.6-2.6-1.7-2.9-3.7 2.6z"/>
<path fill="#6ab532" d="M249.3 253.4l3.7-2.7-1.8-2.9-3.7 2.7z"/>
<path fill="#68b536" d="M245.6 256.1l3.7-2.7-1.8-2.9-3.7 2.7z"/>
<path fill="#66b43a" d="M241.9 258.9l3.7-2.8-1.8-2.9-3.7 2.7z"/>
<path fill="#6ab531" d="M254.8 253.7l3.6-2.7-1.8-2.9-3.6 2.6z"/>
<path fill="#69b535" d="M251.1 256.4l3.7-2.7-1.8-3-3.7 2.7z"/>
<path fill="#67b439" d="M247.4 259.1l3.7-2.7-1.8-3-3.7 2.7z"/>
<path fill="#67b442" d="M243.7 261.9l3.7-2.8-1.8-3-3.7 2.8z"/>
<path fill="#69b534" d="M256.6 256.7l3.7-2.7-1.9-3-3.6 2.7z"/>
<path fill="#67b438" d="M252.9 259.4l3.7-2.7-1.8-3-3.7 2.7z"/>
<path fill="#67b440" d="M249.2 262.2l3.7-2.8-1.8-3-3.7 2.7z"/>
<path fill="#69b54b" d="M245.6 265l3.6-2.8-1.8-3.1-3.7 2.8z"/>
<path fill="#67b438" d="M258.4 259.8l3.7-2.8-1.8-3-3.7 2.7z"/>
<path fill="#67b43e" d="M254.7 262.5l3.7-2.7-1.8-3.1-3.7 2.7z"/>
<path fill="#68b549" d="M251.1 265.3l3.6-2.8-1.8-3.1-3.7 2.8z"/>
<path fill="#6ab554" d="M247.4 268.1l3.7-2.8-1.9-3.1-3.6 2.8z"/>
<path class="m" d="M247.4 268.1l14.7-11.1-7.2-11.8-14.8 10.7z"/>
<path fill="#6cb663" d="M232.6 279.7l14.8-11.6-7.3-12.2-14.8 11.2z"/>
<path fill="#68b544" d="M238.2 261.6l3.7-2.7-1.8-3-3.7 2.7z"/>
<path fill="#69b54f" d="M234.5 264.5l3.7-2.9-1.8-3-3.7 2.8z"/>
<path fill="#6bb65a" d="M230.8 267.3l3.7-2.8-1.8-3.1-3.7 2.9z"/>
<path fill="#6db768" d="M227.1 270.2l3.7-2.9-1.8-3-3.7 2.8z"/>
<path fill="#69b54d" d="M240 264.7l3.7-2.8-1.8-3-3.7 2.7z"/>
<path fill="#6bb658" d="M236.3 267.5l3.7-2.8-1.8-3.1-3.7 2.9z"/>
<path fill="#6cb764" d="M232.6 270.4l3.7-2.9-1.8-3-3.7 2.8z"/>
<path fill="#6db977" d="M228.9 273.3l3.7-2.9-1.8-3.1-3.7 2.9z"/>
<path fill="#6ab556" d="M241.9 267.8l3.7-2.8-1.9-3.1-3.7 2.8z"/>
<path fill="#6cb661" d="M238.2 270.7l3.7-2.9-1.9-3.1-3.7 2.8z"/>
<path fill="#6db873" d="M234.5 273.6l3.7-2.9-1.9-3.2-3.7 2.9z"/>
<path fill="#6ebb86" d="M230.8 276.5l3.7-2.9-1.9-3.2-3.7 2.9z"/>
<path fill="#6cb65f" d="M243.7 271l3.7-2.9-1.8-3.1-3.7 2.8z"/>
<path fill="#6db870" d="M240 273.9l3.7-2.9-1.8-3.2-3.7 2.9z"/>
<path fill="#6eba82" d="M236.3 276.8l3.7-2.9-1.8-3.2-3.7 2.9z"/>
<path fill="#6fbd95" d="M232.6 279.7l3.7-2.9-1.8-3.2-3.7 2.9z"/>
<path class="m" d="M232.6 279.7l14.8-11.6-7.3-12.2-14.8 11.2z"/>
<path fill="#6bbfa9" d="M217.8 291.8l14.8-12.1-7.3-12.6-15 11.8z"/>
<path fill="#6eb97b" d="M223.4 273.1l3.7-2.9-1.8-3.1-3.8 2.9z"/>
<path fill="#6fbc8d" d="M219.6 276.1l3.8-3-1.9-3.1-3.7 3z"/>
<path fill="#6fbea0" d="M215.9 279l3.7-2.9-1.8-3.1-3.8 2.9z"/>
<path fill="#6abfad" d="M212.1 282.1l3.8-3.1-1.9-3.1-3.7 3z"/>
<path fill="#6fbb89" d="M225.2 276.2l3.7-2.9-1.8-3.1-3.7 2.9z"/>
<path fill="#70be9c" d="M221.5 279.2l3.7-3-1.8-3.1-3.8 3z"/>
<path fill="#6bbfaa" d="M217.7 282.2l3.8-3-1.9-3.1-3.7 2.9z"/>
<path fill="#65c0b8" d="M214 285.2l3.7-3-1.8-3.2-3.8 3.1z"/>
<path fill="#70bd98" d="M227.1 279.4l3.7-2.9-1.9-3.2-3.7 2.9z"/>
<path fill="#6cbfa8" d="M223.3 282.4l3.8-3-1.9-3.2-3.7 3z"/>
<path fill="#66c0b5" d="M219.6 285.5l3.7-3.1-1.8-3.2-3.8 3z"/>
<path fill="#61c1c3" d="M215.9 288.5l3.7-3-1.9-3.3-3.7 3z"/>
<path fill="#6dbfa5" d="M228.9 282.7l3.7-3-1.8-3.2-3.7 2.9z"/>
<path fill="#67c0b3" d="M225.2 285.7l3.7-3-1.8-3.3-3.8 3z"/>
<path fill="#62c1c1" d="M221.5 288.7l3.7-3-1.9-3.3-3.7 3.1z"/>
<path fill="#5cc2ce" d="M217.8 291.8l3.7-3.1-1.9-3.2-3.7 3z"/>
<path class="m" d="M217.8 291.8l14.8-12.1-7.3-12.6-15 11.8z"/>
<path fill="#4bbedc" d="M202.8 304.4l15-12.6-7.5-12.9-15.1 12.3z"/>
<path fill="#64c0bb" d="M208.4 285.1l3.7-3-1.8-3.2-3.8 3z"/>
<path fill="#5ec2c9" d="M204.6 288.2l3.8-3.1-1.9-3.2-3.8 3.1z"/>
<path fill="#53c0d5" d="M200.9 291.3l3.7-3.1-1.9-3.2-3.7 3.1z"/>
<path fill="#46bde0" d="M197.1 294.4l3.8-3.1-1.9-3.2-3.8 3.1z"/>
<path fill="#5fc1c6" d="M210.3 288.3l3.7-3.1-1.9-3.1-3.7 3z"/>
<path fill="#56c1d3" d="M206.5 291.4l3.8-3.1-1.9-3.2-3.8 3.1z"/>
<path fill="#49bedd" d="M202.7 294.5l3.8-3.1-1.9-3.2-3.7 3.1z"/>
<path fill="#3cbae8" d="M199 297.7l3.7-3.2-1.8-3.2-3.8 3.1z"/>
<path fill="#59c1d0" d="M212.1 291.6l3.8-3.1-1.9-3.3-3.7 3.1z"/>
<path fill="#4cbedb" d="M208.4 294.7l3.7-3.1-1.8-3.3-3.8 3.1z"/>
<path fill="#3fbbe6" d="M204.6 297.8l3.8-3.1-1.9-3.3-3.8 3.1z"/>
<path fill="#38b5e9" d="M200.9 301l3.7-3.2-1.9-3.3-3.7 3.2z"/>
<path fill="#4fbfd9" d="M214 294.9l3.8-3.1-1.9-3.3-3.8 3.1z"/>
<path fill="#42bce4" d="M210.3 298l3.7-3.1-1.9-3.3-3.7 3.1z"/>
<path fill="#38b7e9" d="M206.6 301.2l3.7-3.2-1.9-3.3-3.8 3.1z"/>
<path fill="#34afe8" d="M202.8 304.4l3.8-3.2-2-3.4-3.7 3.2z"/>
<path class="m" d="M202.8 304.4l15-12.6-7.5-12.9-15.1 12.3z"/>
<path fill="#f8d02d" d="M478.1 171.1l13-1.1-9.4-5.1-12.7 .7z"/>
<path fill="#f8d12e" d="M480 167.7l6.4-.3-4.7-2.5-6.3 .3z"/>
<path fill="#f8cc2d" d="M473.5 168.2l6.5-.5-4.6-2.5-6.4 .4z"/>
<path fill="#f8d42e" d="M484.6 170.4l6.5-.4-4.7-2.6-6.4 .3z"/>
<path fill="#f8cf2d" d="M478.1 171.1l6.5-.7-4.6-2.7-6.5 .5z"/>
<path class="m" d="M478.1 171.1l13-1.1-9.4-5.1-12.7 .7z"/>
<path fill="#f8c82c" d="M464.9 172.9l13.2-1.8-9.1-5.5-12.9 1.3z"/>
<path fill="#f8c72c" d="M467 168.9l6.5-.7-4.5-2.6-6.4 .6z"/>
<path fill="#f8c42b" d="M460.5 169.8l6.5-.9-4.4-2.7-6.5 .7z"/>
<path fill="#f8cc2d" d="M471.5 171.9l6.6-.8-4.6-2.9-6.5 .7z"/>
<path fill="#f8c92c" d="M464.9 172.9l6.6-1-4.5-3-6.5 .9z"/>
<path class="m" d="M464.9 172.9l13.2-1.8-9.1-5.5-12.9 1.3z"/>
<path fill="#f8c52b" d="M451.6 175.4l13.3-2.5-8.8-6-13.1 2.1z"/>
<path fill="#f8c22b" d="M453.9 170.9l6.6-1.1-4.4-2.9-6.5 .9z"/>
<path fill="#f8c22a" d="M447.3 172.1l6.6-1.2-4.3-3.1-6.6 1.2z"/>
<path fill="#f8c82c" d="M458.3 174.1l6.6-1.2-4.4-3.1-6.6 1.1z"/>
<path fill="#f8c92c" d="M451.6 175.4l6.7-1.3-4.4-3.2-6.6 1.2z"/>
<path class="m" d="M451.6 175.4l13.3-2.5-8.8-6-13.1 2.1z"/>
<path fill="#f8c82c" d="M438.2 178.7l13.4-3.3-8.6-6.4-13.1 2.7z"/>
<path fill="#f8c22a" d="M441.5 171.9l4.4-.9-2.9-2-4.3 .8z"/>
<path fill="#f8c32b" d="M437.1 172.9l4.4-1-2.8-2.1-4.4 .9z"/>
<path fill="#f8c42b" d="M432.6 173.9l4.5-1-2.8-2.2-4.4 1z"/>
<path fill="#f8c62b" d="M444.3 174.1l4.5-.9-2.9-2.2-4.4 .9z"/>
<path fill="#f8c82c" d="M439.9 175.2l4.4-1.1-2.8-2.2-4.4 1z"/>
<path fill="#f8ca2c" d="M435.4 176.3l4.5-1.1-2.8-2.3-4.5 1z"/>
<path fill="#f8cc2d" d="M447.2 176.5l4.4-1.1-2.8-2.2-4.5 .9z"/>
<path fill="#f8cd2d" d="M442.7 177.5l4.5-1-2.9-2.4-4.4 1.1z"/>
<path fill="#f8d02d" d="M438.2 178.7l4.5-1.2-2.8-2.3-4.5 1.1z"/>
<path class="m" d="M438.2 178.7l13.4-3.3-8.6-6.4-13.1 2.7z"/>
<path fill="#f8cf2d" d="M424.7 182.7l13.5-4-8.3-7-13.4 3.5z"/>
<path fill="#f8c62b" d="M428.2 175.1l4.4-1.2-2.7-2.2-4.5 1.1z"/>
<path fill="#f8c92c" d="M423.7 176.3l4.5-1.2-2.8-2.3-4.4 1.1z"/>
<path fill="#f8cc2d" d="M419.2 177.6l4.5-1.3-2.7-2.4-4.5 1.3z"/>
<path fill="#f8cc2d" d="M430.9 177.5l4.5-1.2-2.8-2.4-4.4 1.2z"/>
<path fill="#f8cf2d" d="M426.5 178.7l4.4-1.2-2.7-2.4-4.5 1.2z"/>
<path fill="#f8d32e" d="M422 180.1l4.5-1.4-2.8-2.4-4.5 1.3z"/>
<path fill="#f8d32e" d="M433.7 180l4.5-1.3-2.8-2.4-4.5 1.2z"/>
<path fill="#f8d62f" d="M429.2 181.3l4.5-1.3-2.8-2.5-4.4 1.2z"/>
<path fill="#f8d930" d="M424.7 182.7l4.5-1.4-2.7-2.6-4.5 1.4z"/>
<path class="m" d="M424.7 182.7l13.5-4-8.3-7-13.4 3.5z"/>
<path fill="#f8db30" d="M411.1 187.3l13.6-4.6-8.2-7.5-13.4 4.1z"/>
<path fill="#f8d02e" d="M414.7 178.9l4.5-1.3-2.7-2.4-4.4 1.3z"/>
<path fill="#f8d42f" d="M410.2 180.4l4.5-1.5-2.6-2.4-4.5 1.4z"/>
<path fill="#f8d930" d="M405.7 181.9l4.5-1.5-2.6-2.5-4.5 1.4z"/>
<path fill="#f8d72f" d="M417.5 181.5l4.5-1.4-2.8-2.5-4.5 1.3z"/>
<path fill="#f8db30" d="M412.9 183l4.6-1.5-2.8-2.6-4.5 1.5z"/>
<path fill="#f8df31" d="M408.4 184.6l4.5-1.6-2.7-2.6-4.5 1.5z"/>
<path fill="#f8dd31" d="M420.2 184.2l4.5-1.5-2.7-2.6-4.5 1.4z"/>
<path fill="#f8e232" d="M415.6 185.7l4.6-1.5-2.7-2.7-4.6 1.5z"/>
<path fill="#f6e433" d="M411.1 187.3l4.5-1.6-2.7-2.7-4.5 1.6z"/>
<path class="m" d="M411.1 187.3l13.6-4.6-8.2-7.5-13.4 4.1z"/>
<path fill="#f5e534" d="M397.3 192.7l13.8-5.4-8-8-13.6 4.9z"/>
<path fill="#f8e132" d="M400.2 185.7l6.9-2.5-4-3.9-6.8 2.4z"/>
<path fill="#f5e534" d="M393.4 188.3l6.8-2.6-3.9-4-6.8 2.5z"/>
<path fill="#f4e635" d="M404.2 189.9l6.9-2.6-4-4.1-6.9 2.5z"/>
<path fill="#f0ea38" d="M397.3 192.7l6.9-2.8-4-4.2-6.8 2.6z"/>
<path class="m" d="M397.3 192.7l13.8-5.4-8-8-13.6 4.9z"/>
<path fill="#e9e938" d="M383.5 198.8l13.8-6.1-7.8-8.5-13.7 5.5z"/>
<path fill="#f3e736" d="M387.5 188.7l4.6-1.8-2.6-2.7-4.6 1.7z"/>
<path fill="#f0ea38" d="M382.9 190.6l4.6-1.9-2.6-2.8-4.5 1.9z"/>
<path fill="#eae938" d="M378.3 192.6l4.6-2-2.5-2.8-4.6 1.9z"/>
<path fill="#efea38" d="M390.1 191.6l4.6-1.8-2.6-2.9-4.6 1.8z"/>
<path fill="#e9e938" d="M385.5 193.6l4.6-2-2.6-2.9-4.6 1.9z"/>
<path fill="#e2e738" d="M380.9 195.6l4.6-2-2.6-3-4.6 2z"/>
<path fill="#e7e838" d="M392.7 194.7l4.6-2-2.6-2.9-4.6 1.8z"/>
<path fill="#e0e738" d="M388.1 196.7l4.6-2-2.6-3.1-4.6 2z"/>
<path fill="#d9e638" d="M383.5 198.8l4.6-2.1-2.6-3.1-4.6 2z"/>
<path class="m" d="M383.5 198.8l13.8-6.1-7.8-8.5-13.7 5.5z"/>
<path fill="#d5e437" d="M369.5 205.5l14-6.7-7.7-9.1-13.8 6.2z"/>
<path fill="#e5e838" d="M374.2 193.4l3.5-1.5-1.9-2.2-3.5 1.5z"/>
<path fill="#dfe738" d="M370.8 194.9l3.4-1.5-1.9-2.2-3.4 1.5z"/>
<path fill="#dae638" d="M367.3 196.5l3.5-1.6-1.9-2.2-3.5 1.6z"/>
<path fill="#d5e437" d="M363.8 198.2l3.5-1.7-1.9-2.2-3.4 1.6z"/>
<path fill="#dfe738" d="M376.2 195.6l3.4-1.5-1.9-2.2-3.5 1.5z"/>
<path fill="#d9e638" d="M372.7 197.2l3.5-1.6-2-2.2-3.4 1.5z"/>
<path fill="#d5e437" d="M369.2 198.9l3.5-1.7-1.9-2.3-3.5 1.6z"/>
<path fill="#d0e235" d="M365.7 200.6l3.5-1.7-1.9-2.4-3.5 1.7z"/>
<path fill="#d9e538" d="M378.1 198l3.4-1.6-1.9-2.3-3.4 1.5z"/>
<path fill="#d4e436" d="M374.6 199.6l3.5-1.6-1.9-2.4-3.5 1.6z"/>
<path fill="#d0e235" d="M371.1 201.3l3.5-1.7-1.9-2.4-3.5 1.7z"/>
<path fill="#cbe134" d="M367.6 203l3.5-1.7-1.9-2.4-3.5 1.7z"/>
<path fill="#d3e436" d="M380 200.4l3.5-1.6-2-2.4-3.4 1.6z"/>
<path fill="#cfe235" d="M376.5 202l3.5-1.6-1.9-2.4-3.5 1.6z"/>
<path fill="#cae034" d="M373 203.7l3.5-1.7-1.9-2.4-3.5 1.7z"/>
<path fill="#c6df32" d="M369.5 205.5l3.5-1.8-1.9-2.4-3.5 1.7z"/>
<path class="m" d="M369.5 205.5l14-6.7-7.7-9.1-13.8 6.2z"/>
<path fill="#c2dd32" d="M355.5 212.8l14-7.3-7.5-9.6-14 6.8z"/>
<path fill="#d1e335" d="M360.4 199.9l3.4-1.7-1.8-2.3-3.5 1.6z"/>
<path fill="#cce134" d="M356.9 201.6l3.5-1.7-1.9-2.4-3.5 1.7z"/>
<path fill="#c7df33" d="M353.4 203.4l3.5-1.8-1.9-2.4-3.5 1.8z"/>
<path fill="#c2dd32" d="M349.9 205.2l3.5-1.8-1.9-2.4-3.5 1.7z"/>
<path fill="#cce134" d="M362.2 202.3l3.5-1.7-1.9-2.4-3.4 1.7z"/>
<path fill="#c7df33" d="M358.7 204l3.5-1.7-1.8-2.4-3.5 1.7z"/>
<path fill="#c2dd32" d="M355.2 205.8l3.5-1.8-1.8-2.4-3.5 1.8z"/>
<path fill="#bedb31" d="M351.7 207.7l3.5-1.9-1.8-2.4-3.5 1.8z"/>
<path fill="#c6df33" d="M364.1 204.7l3.5-1.7-1.9-2.4-3.5 1.7z"/>
<path fill="#c2dd32" d="M360.6 206.5l3.5-1.8-1.9-2.4-3.5 1.7z"/>
<path fill="#bedb31" d="M357.1 208.4l3.5-1.9-1.9-2.5-3.5 1.8z"/>
<path fill="#bada31" d="M353.6 210.2l3.5-1.8-1.9-2.6-3.5 1.9z"/>
<path fill="#c1dd32" d="M366 207.3l3.5-1.8-1.9-2.5-3.5 1.7z"/>
<path fill="#bddb31" d="M362.5 209.1l3.5-1.8-1.9-2.6-3.5 1.8z"/>
<path fill="#b9d930" d="M359 210.9l3.5-1.8-1.9-2.6-3.5 1.9z"/>
<path fill="#b5d830" d="M355.5 212.8l3.5-1.9-1.9-2.5-3.5 1.8z"/>
<path class="m" d="M355.5 212.8l14-7.3-7.5-9.6-14 6.8z"/>
<path fill="#b1d62f" d="M341.4 220.9l14.1-8.1-7.5-10.1-14 7.5z"/>
<path fill="#bddb31" d="M345.8 208.5l4.7-2.5-2.5-3.3-4.7 2.5z"/>
<path fill="#b7d830" d="M341.1 211l4.7-2.5-2.5-3.3-4.6 2.5z"/>
<path fill="#b1d62f" d="M336.4 213.7l4.7-2.7-2.4-3.3-4.7 2.5z"/>
<path fill="#b7d830" d="M348.3 211.9l4.7-2.5-2.5-3.4-4.7 2.5z"/>
<path fill="#b1d62f" d="M343.6 214.5l4.7-2.6-2.5-3.4-4.7 2.5z"/>
<path fill="#abd32e" d="M338.9 217.2l4.7-2.7-2.5-3.5-4.7 2.7z"/>
<path fill="#b1d62f" d="M350.8 215.4l4.7-2.6-2.5-3.4-4.7 2.5z"/>
<path fill="#aad32e" d="M346.1 218.1l4.7-2.7-2.5-3.5-4.7 2.6z"/>
<path fill="#a5d12e" d="M341.4 220.9l4.7-2.8-2.5-3.6-4.7 2.7z"/>
<path class="m" d="M341.4 220.9l14.1-8.1-7.5-10.1-14 7.5z"/>
<path fill="#a0ce2d" d="M327.1 229.5l14.3-8.6-7.4-10.7-14.2 8.2z"/>
<path fill="#abd32e" d="M331.7 216.4l4.7-2.7-2.4-3.5-4.8 2.7z"/>
<path fill="#a5d12e" d="M327 219.1l4.7-2.7-2.5-3.5-4.7 2.7z"/>
<path fill="#a0ce2d" d="M322.2 222l4.8-2.9-2.5-3.5-4.7 2.8z"/>
<path fill="#a5d12e" d="M334.2 220l4.7-2.8-2.5-3.5-4.7 2.7z"/>
<path fill="#a0ce2d" d="M329.4 222.8l4.8-2.8-2.5-3.6-4.7 2.7z"/>
<path fill="#9acc2c" d="M324.7 225.7l4.7-2.9-2.4-3.7-4.8 2.9z"/>
<path fill="#a0ce2d" d="M336.6 223.7l4.8-2.8-2.5-3.7-4.7 2.8z"/>
<path fill="#9acc2c" d="M331.9 226.5l4.7-2.8-2.4-3.7-4.8 2.8z"/>
<path fill="#94c92b" d="M327.1 229.5l4.8-3-2.5-3.7-4.7 2.9z"/>
<path class="m" d="M327.1 229.5l14.3-8.6-7.4-10.7-14.2 8.2z"/>
<path fill="#8ec62a" d="M312.8 238.7l14.3-9.2-7.3-11.1-14.3 8.8z"/>
<path fill="#9acc2c" d="M317.5 224.9l4.7-2.9-2.4-3.6-4.8 2.8z"/>
<path fill="#94c92b" d="M312.7 227.9l4.8-3-2.5-3.7-4.7 3z"/>
<path fill="#8ec62a" d="M307.9 230.9l4.8-3-2.4-3.7-4.8 3z"/>
<path fill="#94c92b" d="M319.9 228.6l4.8-2.9-2.5-3.7-4.7 2.9z"/>
<path fill="#8ec62a" d="M315.1 231.7l4.8-3.1-2.4-3.7-4.8 3z"/>
<path fill="#8ac42a" d="M310.4 234.8l4.7-3.1-2.4-3.8-4.8 3z"/>
<path fill="#8ec62a" d="M322.4 232.5l4.7-3-2.4-3.8-4.8 2.9z"/>
<path fill="#8ac42a" d="M317.6 235.6l4.8-3.1-2.5-3.9-4.8 3.1z"/>
<path fill="#85c22a" d="M312.8 238.7l4.8-3.1-2.5-3.9-4.7 3.1z"/>
<path class="m" d="M312.8 238.7l14.3-9.2-7.3-11.1-14.3 8.8z"/>
<path fill="#80c02a" d="M298.4 248.6l14.4-9.9-7.3-11.5-14.4 9.3z"/>
<path fill="#89c42a" d="M303.2 234l4.7-3.1-2.4-3.7-4.8 3z"/>
<path fill="#84c22a" d="M298.4 237.2l4.8-3.2-2.5-3.8-4.8 3.1z"/>
<path fill="#7fc02a" d="M293.6 240.4l4.8-3.2-2.5-3.9-4.8 3.2z"/>
<path fill="#85c22a" d="M305.6 237.9l4.8-3.1-2.5-3.9-4.7 3.1z"/>
<path fill="#80c02a" d="M300.8 241.2l4.8-3.3-2.4-3.9-4.8 3.2z"/>
<path fill="#7bbe2a" d="M296 244.4l4.8-3.2-2.4-4-4.8 3.2z"/>
<path fill="#80c02a" d="M308 242l4.8-3.3-2.4-3.9-4.8 3.1z"/>
<path fill="#7bbe2a" d="M303.2 245.2l4.8-3.2-2.4-4.1-4.8 3.3z"/>
<path fill="#77bc2b" d="M298.4 248.6l4.8-3.4-2.4-4-4.8 3.2z"/>
<path class="m" d="M298.4 248.6l14.4-9.9-7.3-11.5-14.4 9.3z"/>
<path fill="#72b92c" d="M284 259l14.4-10.4-7.3-12.1-14.4 10z"/>
<path fill="#7abe2a" d="M288.7 243.7l4.9-3.3-2.5-3.9-4.8 3.3z"/>
<path fill="#76bc2b" d="M283.9 247.1l4.8-3.4-2.4-3.9-4.8 3.3z"/>
<path fill="#72b92c" d="M279.1 250.5l4.8-3.4-2.4-4-4.8 3.4z"/>
<path fill="#76bc2b" d="M291.2 247.8l4.8-3.4-2.4-4-4.9 3.3z"/>
<path fill="#72b92c" d="M286.3 251.2l4.9-3.4-2.5-4.1-4.8 3.4z"/>
<path fill="#6eb72e" d="M281.5 254.7l4.8-3.5-2.4-4.1-4.8 3.4z"/>
<path fill="#72ba2c" d="M293.6 252l4.8-3.4-2.4-4.2-4.8 3.4z"/>
<path fill="#6eb72d" d="M288.8 255.4l4.8-3.4-2.4-4.2-4.9 3.4z"/>
<path fill="#6bb631" d="M284 259l4.8-3.6-2.5-4.2-4.8 3.5z"/>
<path class="m" d="M284 259l14.4-10.4-7.3-12.1-14.4 10z"/>
<path fill="#68b536" d="M269.4 269.9l14.6-10.9-7.3-12.5-14.6 10.5z"/>
<path fill="#6eb72d" d="M274.8 252.1l3.7-2.6-1.8-3-3.7 2.6z"/>
<path fill="#6bb62f" d="M271.2 254.8l3.6-2.7-1.8-3-3.6 2.6z"/>
<path fill="#69b533" d="M267.6 257.4l3.6-2.6-1.8-3.1-3.7 2.7z"/>
<path fill="#67b437" d="M263.9 260.2l3.7-2.8-1.9-3-3.6 2.6z"/>
<path fill="#6cb62f" d="M276.7 255.2l3.6-2.6-1.8-3.1-3.7 2.6z"/>
<path fill="#6ab533" d="M273 257.9l3.7-2.7-1.9-3.1-3.6 2.7z"/>
<path fill="#68b537" d="M269.4 260.6l3.6-2.7-1.8-3.1-3.6 2.6z"/>
<path fill="#66b43b" d="M265.7 263.3l3.7-2.7-1.8-3.2-3.7 2.8z"/>
<path fill="#6ab532" d="M278.5 258.4l3.6-2.6-1.8-3.2-3.6 2.6z"/>
<path fill="#68b536" d="M274.9 261.1l3.6-2.7-1.8-3.2-3.7 2.7z"/>
<path fill="#66b43a" d="M271.2 263.8l3.7-2.7-1.9-3.2-3.6 2.7z"/>
<path fill="#68b545" d="M267.6 266.6l3.6-2.8-1.8-3.2-3.7 2.7z"/>
<path fill="#68b536" d="M280.3 261.6l3.7-2.6-1.9-3.2-3.6 2.6z"/>
<path fill="#66b43a" d="M276.7 264.4l3.6-2.8-1.8-3.2-3.6 2.7z"/>
<path fill="#68b544" d="M273.1 267.1l3.6-2.7-1.8-3.3-3.7 2.7z"/>
<path fill="#69b54f" d="M269.4 269.9l3.7-2.8-1.9-3.3-3.6 2.8z"/>
<path class="m" d="M269.4 269.9l14.6-10.9-7.3-12.5-14.6 10.5z"/>
<path fill="#6bb65b" d="M254.8 281.3l14.6-11.4-7.3-12.9-14.7 11.1z"/>
<path fill="#66b43d" d="M260.2 262.9l3.7-2.7-1.8-3.2-3.7 2.8z"/>
<path fill="#68b547" d="M256.6 265.7l3.6-2.8-1.8-3.1-3.7 2.7z"/>
<path fill="#6ab552" d="M252.9 268.5l3.7-2.8-1.9-3.2-3.6 2.8z"/>
<path fill="#6cb65d" d="M249.2 271.3l3.7-2.8-1.8-3.2-3.7 2.8z"/>
<path fill="#68b546" d="M262.1 266.1l3.6-2.8-1.8-3.1-3.7 2.7z"/>
<path fill="#6ab551" d="M258.4 268.9l3.7-2.8-1.9-3.2-3.6 2.8z"/>
<path fill="#6bb65c" d="M254.8 271.7l3.6-2.8-1.8-3.2-3.7 2.8z"/>
<path fill="#6db76b" d="M251.1 274.6l3.7-2.9-1.9-3.2-3.7 2.8z"/>
<path fill="#69b550" d="M263.9 269.4l3.7-2.8-1.9-3.3-3.6 2.8z"/>
<path fill="#6bb65a" d="M260.3 272.2l3.6-2.8-1.8-3.3-3.7 2.8z"/>
<path fill="#6db769" d="M256.6 275.1l3.7-2.9-1.9-3.3-3.6 2.8z"/>
<path fill="#6eb97b" d="M252.9 277.9l3.7-2.8-1.8-3.4-3.7 2.9z"/>
<path fill="#6bb65a" d="M265.8 272.7l3.6-2.8-1.8-3.3-3.7 2.8z"/>
<path fill="#6cb767" d="M262.1 275.6l3.7-2.9-1.9-3.3-3.6 2.8z"/>
<path fill="#6eb979" d="M258.5 278.4l3.6-2.8-1.8-3.4-3.7 2.9z"/>
<path fill="#6fbc8c" d="M254.8 281.3l3.7-2.9-1.9-3.3-3.7 2.8z"/>
<path class="m" d="M254.8 281.3l14.6-11.4-7.3-12.9-14.7 11.1z"/>
<path fill="#6fbea0" d="M240.1 293.3l14.7-12-7.4-13.2-14.8 11.6z"/>
<path fill="#6db86d" d="M245.6 274.2l3.6-2.9-1.8-3.2-3.7 2.9z"/>
<path fill="#6eba80" d="M241.9 277.1l3.7-2.9-1.9-3.2-3.7 2.9z"/>
<path fill="#6fbc92" d="M238.2 280.1l3.7-3-1.9-3.2-3.7 2.9z"/>
<path fill="#6ebea3" d="M234.5 283l3.7-2.9-1.9-3.3-3.7 2.9z"/>
<path fill="#6eba7d" d="M247.4 277.5l3.7-2.9-1.9-3.3-3.6 2.9z"/>
<path fill="#6fbc90" d="M243.7 280.4l3.7-2.9-1.8-3.3-3.7 2.9z"/>
<path fill="#6fbea1" d="M240.1 283.4l3.6-3-1.8-3.3-3.7 3z"/>
<path fill="#69bfae" d="M236.4 286.4l3.7-3-1.9-3.3-3.7 2.9z"/>
<path fill="#6fbc8d" d="M249.3 280.9l3.6-3-1.8-3.3-3.7 2.9z"/>
<path fill="#6fbe9f" d="M245.6 283.8l3.7-2.9-1.9-3.4-3.7 2.9z"/>
<path fill="#6abfad" d="M241.9 286.8l3.7-3-1.9-3.4-3.6 3z"/>
<path fill="#64c0ba" d="M238.2 289.8l3.7-3-1.8-3.4-3.7 3z"/>
<path fill="#70be9e" d="M251.2 284.3l3.6-3-1.9-3.4-3.6 3z"/>
<path fill="#6abfab" d="M247.5 287.3l3.7-3-1.9-3.4-3.7 2.9z"/>
<path fill="#65c0b9" d="M243.8 290.3l3.7-3-1.9-3.5-3.7 3z"/>
<path fill="#5fc1c7" d="M240.1 293.3l3.7-3-1.9-3.5-3.7 3z"/>
<path class="m" d="M240.1 293.3l14.7-12-7.4-13.2-14.8 11.6z"/>
<path fill="#54c0d5" d="M225.4 305.7l14.7-12.4-7.5-13.6-14.8 12.1z"/>
<path fill="#68c0b0" d="M230.8 286l3.7-3-1.9-3.3-3.7 3z"/>
<path fill="#63c1be" d="M227.1 289l3.7-3-1.9-3.3-3.7 3z"/>
<path fill="#5dc2cc" d="M223.4 292.1l3.7-3.1-1.9-3.3-3.7 3z"/>
<path fill="#51bfd7" d="M219.7 295.2l3.7-3.1-1.9-3.4-3.7 3.1z"/>
<path fill="#63c1bc" d="M232.7 289.4l3.7-3-1.9-3.4-3.7 3z"/>
<path fill="#5ec2ca" d="M229 292.4l3.7-3-1.9-3.4-3.7 3z"/>
<path fill="#53c0d5" d="M225.3 295.5l3.7-3.1-1.9-3.4-3.7 3.1z"/>
<path fill="#46bde0" d="M221.6 298.6l3.7-3.1-1.9-3.4-3.7 3.1z"/>
<path fill="#5ec2c8" d="M234.6 292.8l3.6-3-1.8-3.4-3.7 3z"/>
<path fill="#55c0d4" d="M230.9 295.9l3.7-3.1-1.9-3.4-3.7 3z"/>
<path fill="#48bddf" d="M227.2 299l3.7-3.1-1.9-3.5-3.7 3.1z"/>
<path fill="#3bbae9" d="M223.5 302.1l3.7-3.1-1.9-3.5-3.7 3.1z"/>
<path fill="#56c1d3" d="M236.5 296.3l3.6-3-1.9-3.5-3.6 3z"/>
<path fill="#49bedd" d="M232.8 299.4l3.7-3.1-1.9-3.5-3.7 3.1z"/>
<path fill="#3cbbe8" d="M229.1 302.5l3.7-3.1-1.9-3.5-3.7 3.1z"/>
<path fill="#37b4e9" d="M225.4 305.7l3.7-3.2-1.9-3.5-3.7 3.1z"/>
<path class="m" d="M225.4 305.7l14.7-12.4-7.5-13.6-14.8 12.1z"/>
<path fill="#32aae7" d="M210.6 318.5l14.8-12.8-7.6-13.9-15 12.6z"/>
<path fill="#44bce2" d="M215.9 298.3l3.8-3.1-1.9-3.4-3.8 3.1z"/>
<path fill="#39b8ea" d="M212.2 301.4l3.7-3.1-1.9-3.4-3.7 3.1z"/>
<path fill="#35b0e8" d="M208.5 304.6l3.7-3.2-1.9-3.4-3.7 3.2z"/>
<path fill="#31a8e6" d="M204.7 307.8l3.8-3.2-1.9-3.4-3.8 3.2z"/>
<path fill="#3ab9ea" d="M217.8 301.8l3.8-3.2-1.9-3.4-3.8 3.1z"/>
<path fill="#36b2e8" d="M214.1 304.9l3.7-3.1-1.9-3.5-3.7 3.1z"/>
<path fill="#32aae7" d="M210.4 308.1l3.7-3.2-1.9-3.5-3.7 3.2z"/>
<path fill="#2fa0e2" d="M206.7 311.3l3.7-3.2-1.9-3.5-3.8 3.2z"/>
<path fill="#36b3e9" d="M219.8 305.3l3.7-3.2-1.9-3.5-3.8 3.2z"/>
<path fill="#32abe7" d="M216 308.4l3.8-3.1-2-3.5-3.7 3.1z"/>
<path fill="#2fa2e3" d="M212.3 311.7l3.7-3.3-1.9-3.5-3.7 3.2z"/>
<path fill="#2d96dd" d="M208.6 314.9l3.7-3.2-1.9-3.6-3.7 3.2z"/>
<path fill="#33ace7" d="M221.7 308.9l3.7-3.2-1.9-3.6-3.7 3.2z"/>
<path fill="#2fa3e4" d="M218 312l3.7-3.1-1.9-3.6-3.8 3.1z"/>
<path fill="#2e98de" d="M214.3 315.3l3.7-3.3-2-3.6-3.7 3.3z"/>
<path fill="#2c8dd7" d="M210.6 318.5l3.7-3.2-2-3.6-3.7 3.2z"/>
<path class="m" d="M210.6 318.5l14.8-12.8-7.6-13.9-15 12.6z"/>
<path fill="#f8d830" d="M487.3 177.5l13.3-1.6-9.5-5.9-13 1.1z"/>
<path fill="#f8d82f" d="M489.3 173.4l6.5-.6-4.7-2.8-6.5 .4z"/>
<path fill="#f8d42f" d="M482.7 174.2l6.6-.8-4.7-3-6.5 .7z"/>
<path fill="#f8dd31" d="M494 176.6l6.6-.7-4.8-3.1-6.5 .6z"/>
<path fill="#f8da30" d="M487.3 177.5l6.7-.9-4.7-3.2-6.6 .8z"/>
<path class="m" d="M487.3 177.5l13.3-1.6-9.5-5.9-13 1.1z"/>
<path fill="#f8d42f" d="M473.9 179.8l13.4-2.3-9.2-6.4-13.2 1.8z"/>
<path fill="#f8d22e" d="M476 175.1l6.7-.9-4.6-3.1-6.6 .8z"/>
<path fill="#f8d02e" d="M469.4 176.2l6.6-1.1-4.5-3.2-6.6 1z"/>
<path fill="#f8d830" d="M480.6 178.5l6.7-1-4.6-3.3-6.7 .9z"/>
<path fill="#f8d82f" d="M473.9 179.8l6.7-1.3-4.6-3.4-6.6 1.1z"/>
<path class="m" d="M473.9 179.8l13.4-2.3-9.2-6.4-13.2 1.8z"/>
<path fill="#f8d52f" d="M460.4 182.8l13.5-3-9-6.9-13.3 2.5z"/>
<path fill="#f8cf2d" d="M463.4 175.9l4.5-.8-3-2.2-4.4 .8z"/>
<path fill="#f8cf2d" d="M459 176.8l4.4-.9-2.9-2.2-4.4 .8z"/>
<path fill="#f8d02e" d="M454.5 177.8l4.5-1-2.9-2.3-4.5 .9z"/>
<path fill="#f8d42e" d="M466.4 178.3l4.5-.9-3-2.3-4.5 .8z"/>
<path fill="#f8d52f" d="M461.9 179.2l4.5-.9-3-2.4-4.4 .9z"/>
<path fill="#f8d62f" d="M457.4 180.3l4.5-1.1-2.9-2.4-4.5 1z"/>
<path fill="#f8da30" d="M469.4 180.7l4.5-.9-3-2.4-4.5 .9z"/>
<path fill="#f8db30" d="M464.9 181.7l4.5-1-3-2.4-4.5 .9z"/>
<path fill="#f8dc31" d="M460.4 182.8l4.5-1.1-3-2.5-4.5 1.1z"/>
<path class="m" d="M460.4 182.8l13.5-3-9-6.9-13.3 2.5z"/>
<path fill="#f8da30" d="M446.7 186.6l13.7-3.8-8.8-7.4-13.4 3.3z"/>
<path fill="#f8d22e" d="M450 178.9l4.5-1.1-2.9-2.4-4.4 1.1z"/>
<path fill="#f8d42e" d="M445.5 180l4.5-1.1-2.8-2.4-4.5 1z"/>
<path fill="#f8d62f" d="M441 181.2l4.5-1.2-2.8-2.5-4.5 1.2z"/>
<path fill="#f8d82f" d="M452.9 181.4l4.5-1.1-2.9-2.5-4.5 1.1z"/>
<path fill="#f8da30" d="M448.4 182.6l4.5-1.2-2.9-2.5-4.5 1.1z"/>
<path fill="#f8dd31" d="M443.9 183.9l4.5-1.3-2.9-2.6-4.5 1.2z"/>
<path fill="#f8de31" d="M455.8 184l4.6-1.2-3-2.5-4.5 1.1z"/>
<path fill="#f8e132" d="M451.3 185.3l4.5-1.3-2.9-2.6-4.5 1.2z"/>
<path fill="#f7e333" d="M446.7 186.6l4.6-1.3-2.9-2.7-4.5 1.3z"/>
<path class="m" d="M446.7 186.6l13.7-3.8-8.8-7.4-13.4 3.3z"/>
<path fill="#f7e333" d="M433 191.1l13.7-4.5-8.5-7.9-13.5 4z"/>
<path fill="#f8d930" d="M436.5 182.5l4.5-1.3-2.8-2.5-4.5 1.3z"/>
<path fill="#f8dc31" d="M432 183.9l4.5-1.4-2.8-2.5-4.5 1.3z"/>
<path fill="#f8e032" d="M427.5 185.4l4.5-1.5-2.8-2.6-4.5 1.4z"/>
<path fill="#f8e032" d="M439.3 185.2l4.6-1.3-2.9-2.7-4.5 1.3z"/>
<path fill="#f7e333" d="M434.8 186.7l4.5-1.5-2.8-2.7-4.5 1.4z"/>
<path fill="#f6e434" d="M430.2 188.2l4.6-1.5-2.8-2.8-4.5 1.5z"/>
<path fill="#f6e434" d="M442.2 188.1l4.5-1.5-2.8-2.7-4.6 1.3z"/>
<path fill="#f4e635" d="M437.6 189.6l4.6-1.5-2.9-2.9-4.5 1.5z"/>
<path fill="#f2e836" d="M433 191.1l4.6-1.5-2.8-2.9-4.6 1.5z"/>
<path class="m" d="M433 191.1l13.7-4.5-8.5-7.9-13.5 4z"/>
<path fill="#f2e837" d="M419.2 196.3l13.8-5.2-8.3-8.4-13.6 4.6z"/>
<path fill="#f7e333" d="M422.9 186.9l4.6-1.5-2.8-2.7-4.5 1.5z"/>
<path fill="#f5e534" d="M418.3 188.5l4.6-1.6-2.7-2.7-4.6 1.5z"/>
<path fill="#f3e736" d="M413.8 190.2l4.5-1.7-2.7-2.8-4.5 1.6z"/>
<path fill="#f4e635" d="M425.6 189.8l4.6-1.6-2.7-2.8-4.6 1.5z"/>
<path fill="#f2e837" d="M421.1 191.5l4.5-1.7-2.7-2.9-4.6 1.6z"/>
<path fill="#eeea38" d="M416.5 193.2l4.6-1.7-2.8-3-4.5 1.7z"/>
<path fill="#f0ea38" d="M428.4 192.8l4.6-1.7-2.8-2.9-4.6 1.6z"/>
<path fill="#ebe938" d="M423.8 194.5l4.6-1.7-2.8-3-4.5 1.7z"/>
<path fill="#e6e838" d="M419.2 196.3l4.6-1.8-2.7-3-4.6 1.7z"/>
<path class="m" d="M419.2 196.3l13.8-5.2-8.3-8.4-13.6 4.6z"/>
<path fill="#e3e838" d="M405.3 202.3l13.9-6-8.1-9-13.8 5.4z"/>
<path fill="#f1e937" d="M409.6 190.8l3.5-1.3-2-2.2-3.5 1.3z"/>
<path fill="#eeea38" d="M406.2 192.2l3.4-1.4-2-2.2-3.4 1.3z"/>
<path fill="#eae938" d="M402.8 193.6l3.4-1.4-2-2.3-3.4 1.4z"/>
<path fill="#e5e838" d="M399.3 195l3.5-1.4-2-2.3-3.5 1.4z"/>
<path fill="#ede938" d="M411.7 193.1l3.4-1.4-2-2.2-3.5 1.3z"/>
<path fill="#e8e938" d="M408.2 194.5l3.5-1.4-2.1-2.3-3.4 1.4z"/>
<path fill="#e3e838" d="M404.8 195.9l3.4-1.4-2-2.3-3.4 1.4z"/>
<path fill="#dfe738" d="M401.3 197.4l3.5-1.5-2-2.3-3.5 1.4z"/>
<path fill="#e6e838" d="M413.7 195.4l3.4-1.4-2-2.3-3.4 1.4z"/>
<path fill="#e2e738" d="M410.2 196.8l3.5-1.4-2-2.3-3.5 1.4z"/>
<path fill="#dde638" d="M406.8 198.3l3.4-1.5-2-2.3-3.4 1.4z"/>
<path fill="#d8e538" d="M403.3 199.8l3.5-1.5-2-2.4-3.5 1.5z"/>
<path fill="#dfe738" d="M415.7 197.8l3.5-1.5-2.1-2.3-3.4 1.4z"/>
<path fill="#dbe638" d="M412.2 199.2l3.5-1.4-2-2.4-3.5 1.4z"/>
<path fill="#d7e537" d="M408.8 200.7l3.4-1.5-2-2.4-3.4 1.5z"/>
<path fill="#d3e336" d="M405.3 202.3l3.5-1.6-2-2.4-3.5 1.5z"/>
<path class="m" d="M405.3 202.3l13.9-6-8.1-9-13.8 5.4z"/>
<path fill="#d1e335" d="M391.3 208.8l14-6.5-8-9.6-13.8 6.1z"/>
<path fill="#e0e738" d="M395.8 196.5l3.5-1.5-2-2.3-3.4 1.5z"/>
<path fill="#dbe638" d="M392.4 198l3.4-1.5-1.9-2.3-3.5 1.5z"/>
<path fill="#d7e537" d="M388.9 199.6l3.5-1.6-2-2.3-3.5 1.5z"/>
<path fill="#d2e336" d="M385.4 201.2l3.5-1.6-2-2.4-3.4 1.6z"/>
<path fill="#dae638" d="M397.8 198.9l3.5-1.5-2-2.4-3.5 1.5z"/>
<path fill="#d6e437" d="M394.3 200.4l3.5-1.5-2-2.4-3.4 1.5z"/>
<path fill="#d1e336" d="M390.9 202l3.4-1.6-1.9-2.4-3.5 1.6z"/>
<path fill="#cde134" d="M387.4 203.7l3.5-1.7-2-2.4-3.5 1.6z"/>
<path fill="#d4e436" d="M399.8 201.3l3.5-1.5-2-2.4-3.5 1.5z"/>
<path fill="#d0e235" d="M396.3 202.9l3.5-1.6-2-2.4-3.5 1.5z"/>
<path fill="#cce134" d="M392.8 204.6l3.5-1.7-2-2.5-3.4 1.6z"/>
<path fill="#c7df33" d="M389.3 206.2l3.5-1.6-1.9-2.6-3.5 1.7z"/>
<path fill="#cfe235" d="M401.8 203.8l3.5-1.5-2-2.5-3.5 1.5z"/>
<path fill="#cae034" d="M398.3 205.5l3.5-1.7-2-2.5-3.5 1.6z"/>
<path fill="#c6df33" d="M394.8 207.1l3.5-1.6-2-2.6-3.5 1.7z"/>
<path fill="#c2dd32" d="M391.3 208.8l3.5-1.7-2-2.5-3.5 1.6z"/>
<path class="m" d="M391.3 208.8l14-6.5-8-9.6-13.8 6.1z"/>
<path fill="#c0dc31" d="M377.2 216.1l14.1-7.3-7.8-10-14 6.7z"/>
<path fill="#cee235" d="M381.9 202.8l3.5-1.6-1.9-2.4-3.5 1.6z"/>
<path fill="#c9e033" d="M378.4 204.5l3.5-1.7-1.9-2.4-3.5 1.6z"/>
<path fill="#c5de32" d="M374.9 206.3l3.5-1.8-1.9-2.5-3.5 1.7z"/>
<path fill="#c1dd32" d="M371.4 208l3.5-1.7-1.9-2.6-3.5 1.8z"/>
<path fill="#c8e033" d="M383.9 205.4l3.5-1.7-2-2.5-3.5 1.6z"/>
<path fill="#c4de32" d="M380.4 207.1l3.5-1.7-2-2.6-3.5 1.7z"/>
<path fill="#c0dc31" d="M376.9 208.8l3.5-1.7-2-2.6-3.5 1.8z"/>
<path fill="#bcdb31" d="M373.4 210.7l3.5-1.9-2-2.5-3.5 1.7z"/>
<path fill="#c3de32" d="M385.8 207.9l3.5-1.7-1.9-2.5-3.5 1.7z"/>
<path fill="#bfdc31" d="M382.3 209.7l3.5-1.8-1.9-2.5-3.5 1.7z"/>
<path fill="#bbda31" d="M378.8 211.5l3.5-1.8-1.9-2.6-3.5 1.7z"/>
<path fill="#b7d830" d="M375.3 213.3l3.5-1.8-1.9-2.7-3.5 1.9z"/>
<path fill="#bedb31" d="M387.8 210.6l3.5-1.8-2-2.6-3.5 1.7z"/>
<path fill="#bada31" d="M384.3 212.4l3.5-1.8-2-2.7-3.5 1.8z"/>
<path fill="#b6d830" d="M380.7 214.2l3.6-1.8-2-2.7-3.5 1.8z"/>
<path fill="#b2d62f" d="M377.2 216.1l3.5-1.9-1.9-2.7-3.5 1.8z"/>
<path class="m" d="M377.2 216.1l14.1-7.3-7.8-10-14 6.7z"/>
<path fill="#afd52f" d="M363.1 224l14.1-7.9-7.7-10.6-14 7.3z"/>
<path fill="#bddb31" d="M367.9 209.8l3.5-1.8-1.9-2.5-3.5 1.8z"/>
<path fill="#b9d930" d="M364.4 211.7l3.5-1.9-1.9-2.5-3.5 1.8z"/>
<path fill="#b4d730" d="M360.9 213.6l3.5-1.9-1.9-2.6-3.5 1.8z"/>
<path fill="#b0d52f" d="M357.4 215.5l3.5-1.9-1.9-2.7-3.5 1.9z"/>
<path fill="#b8d930" d="M369.8 212.5l3.6-1.8-2-2.7-3.5 1.8z"/>
<path fill="#b4d730" d="M366.3 214.4l3.5-1.9-1.9-2.7-3.5 1.9z"/>
<path fill="#afd52f" d="M362.8 216.3l3.5-1.9-1.9-2.7-3.5 1.9z"/>
<path fill="#abd32e" d="M359.3 218.3l3.5-2-1.9-2.7-3.5 1.9z"/>
<path fill="#b3d730" d="M371.8 215.2l3.5-1.9-1.9-2.6-3.6 1.8z"/>
<path fill="#afd52f" d="M368.2 217.1l3.6-1.9-2-2.7-3.5 1.9z"/>
<path fill="#aad32e" d="M364.7 219.1l3.5-2-1.9-2.7-3.5 1.9z"/>
<path fill="#a6d12e" d="M361.2 221.1l3.5-2-1.9-2.8-3.5 2z"/>
<path fill="#aed42f" d="M373.7 218l3.5-1.9-1.9-2.8-3.5 1.9z"/>
<path fill="#a9d32e" d="M370.2 220l3.5-2-1.9-2.8-3.6 1.9z"/>
<path fill="#a5d12e" d="M366.6 222l3.6-2-2-2.9-3.5 2z"/>
<path fill="#a2cf2d" d="M363.1 224l3.5-2-1.9-2.9-3.5 2z"/>
<path class="m" d="M363.1 224l14.1-7.9-7.7-10.6-14 7.3z"/>
<path fill="#9fce2d" d="M348.9 232.5l14.2-8.5-7.6-11.2-14.1 8.1z"/>
<path fill="#aad32e" d="M353.3 219.1l4.7-2.7-2.5-3.6-4.7 2.6z"/>
<path fill="#a4d02d" d="M348.6 221.8l4.7-2.7-2.5-3.7-4.7 2.7z"/>
<path fill="#9fce2d" d="M343.8 224.6l4.8-2.8-2.5-3.7-4.7 2.8z"/>
<path fill="#a4d02d" d="M355.8 222.9l4.7-2.7-2.5-3.8-4.7 2.7z"/>
<path fill="#9fce2d" d="M351.1 225.7l4.7-2.8-2.5-3.8-4.7 2.7z"/>
<path fill="#99cb2c" d="M346.4 228.5l4.7-2.8-2.5-3.9-4.8 2.8z"/>
<path fill="#9ecd2c" d="M358.4 226.8l4.7-2.8-2.6-3.8-4.7 2.7z"/>
<path fill="#99cb2c" d="M353.6 229.6l4.8-2.8-2.6-3.9-4.7 2.8z"/>
<path fill="#93c82b" d="M348.9 232.5l4.7-2.9-2.5-3.9-4.7 2.8z"/>
<path class="m" d="M348.9 232.5l14.2-8.5-7.6-11.2-14.1 8.1z"/>
<path fill="#8ec62a" d="M334.6 241.6l14.3-9.1-7.5-11.6-14.3 8.6z"/>
<path fill="#9acb2c" d="M339.1 227.5l4.7-2.9-2.4-3.7-4.8 2.8z"/>
<path fill="#94c92b" d="M334.4 230.4l4.7-2.9-2.5-3.8-4.7 2.8z"/>
<path fill="#8ec62a" d="M329.6 233.4l4.8-3-2.5-3.9-4.8 3z"/>
<path fill="#94c92b" d="M341.6 231.4l4.8-2.9-2.6-3.9-4.7 2.9z"/>
<path fill="#8ec62a" d="M336.9 234.4l4.7-3-2.5-3.9-4.7 2.9z"/>
<path fill="#89c42a" d="M332.1 237.5l4.8-3.1-2.5-4-4.8 3z"/>
<path fill="#8ec62a" d="M344.1 235.5l4.8-3-2.5-4-4.8 2.9z"/>
<path fill="#89c42a" d="M339.4 238.5l4.7-3-2.5-4.1-4.7 3z"/>
<path fill="#84c22a" d="M334.6 241.6l4.8-3.1-2.5-4.1-4.8 3.1z"/>
<path class="m" d="M334.6 241.6l14.3-9.1-7.5-11.6-14.3 8.6z"/>
<path fill="#80c02a" d="M320.3 251.4l14.3-9.8-7.5-12.1-14.3 9.2z"/>
<path fill="#8ac42a" d="M324.8 236.5l4.8-3.1-2.5-3.9-4.7 3z"/>
<path fill="#85c22a" d="M320.1 239.6l4.7-3.1-2.4-4-4.8 3.1z"/>
<path fill="#80c02a" d="M315.3 242.8l4.8-3.2-2.5-4-4.8 3.1z"/>
<path fill="#85c22a" d="M327.3 240.6l4.8-3.1-2.5-4.1-4.8 3.1z"/>
<path fill="#80c02a" d="M322.5 243.8l4.8-3.2-2.5-4.1-4.7 3.1z"/>
<path fill="#7bbe2a" d="M317.8 247l4.7-3.2-2.4-4.2-4.8 3.2z"/>
<path fill="#80c02a" d="M329.8 244.8l4.8-3.2-2.5-4.1-4.8 3.1z"/>
<path fill="#7bbe2a" d="M325 248l4.8-3.2-2.5-4.2-4.8 3.2z"/>
<path fill="#76bc2b" d="M320.3 251.4l4.7-3.4-2.5-4.2-4.7 3.2z"/>
<path class="m" d="M320.3 251.4l14.3-9.8-7.5-12.1-14.3 9.2z"/>
<path fill="#72ba2c" d="M305.9 261.6l14.4-10.2-7.5-12.7-14.4 9.9z"/>
<path fill="#7bbe2a" d="M310.5 246.1l4.8-3.3-2.5-4.1-4.8 3.3z"/>
<path fill="#77bc2b" d="M305.7 249.4l4.8-3.3-2.5-4.1-4.8 3.2z"/>
<path fill="#72ba2c" d="M300.9 252.8l4.8-3.4-2.5-4.2-4.8 3.4z"/>
<path fill="#77bc2b" d="M313 250.3l4.8-3.3-2.5-4.2-4.8 3.3z"/>
<path fill="#72ba2c" d="M308.2 253.7l4.8-3.4-2.5-4.2-4.8 3.3z"/>
<path fill="#6eb72d" d="M303.4 257.2l4.8-3.5-2.5-4.3-4.8 3.4z"/>
<path fill="#72ba2c" d="M315.5 254.7l4.8-3.3-2.5-4.4-4.8 3.3z"/>
<path fill="#6eb72d" d="M310.7 258.1l4.8-3.4-2.5-4.4-4.8 3.4z"/>
<path fill="#6bb631" d="M305.9 261.6l4.8-3.5-2.5-4.4-4.8 3.5z"/>
<path class="m" d="M305.9 261.6l14.4-10.2-7.5-12.7-14.4 9.9z"/>
<path fill="#68b536" d="M291.4 272.4l14.5-10.8-7.5-13-14.4 10.4z"/>
<path fill="#6fb82d" d="M296.7 254.3l3.6-2.6-1.9-3.1-3.6 2.5z"/>
<path fill="#6cb62e" d="M293.1 256.9l3.6-2.6-1.9-3.2-3.6 2.6z"/>
<path fill="#6ab532" d="M289.4 259.6l3.7-2.7-1.9-3.2-3.6 2.6z"/>
<path fill="#68b536" d="M285.8 262.2l3.6-2.6-1.8-3.3-3.6 2.7z"/>
<path fill="#6cb62e" d="M298.5 257.6l3.6-2.6-1.8-3.3-3.6 2.6z"/>
<path fill="#6ab532" d="M294.9 260.2l3.6-2.6-1.8-3.3-3.6 2.6z"/>
<path fill="#68b536" d="M291.3 262.9l3.6-2.7-1.8-3.3-3.7 2.7z"/>
<path fill="#66b43a" d="M287.7 265.6l3.6-2.7-1.9-3.3-3.6 2.6z"/>
<path fill="#6ab532" d="M300.4 260.9l3.6-2.6-1.9-3.3-3.6 2.6z"/>
<path fill="#68b536" d="M296.8 263.6l3.6-2.7-1.9-3.3-3.6 2.6z"/>
<path fill="#66b43a" d="M293.2 266.3l3.6-2.7-1.9-3.4-3.6 2.7z"/>
<path fill="#67b443" d="M289.5 269l3.7-2.7-1.9-3.4-3.6 2.7z"/>
<path fill="#68b536" d="M302.3 264.3l3.6-2.7-1.9-3.3-3.6 2.6z"/>
<path fill="#66b43a" d="M298.6 267l3.7-2.7-1.9-3.4-3.6 2.7z"/>
<path fill="#67b443" d="M295 269.7l3.6-2.7-1.8-3.4-3.6 2.7z"/>
<path fill="#69b54e" d="M291.4 272.4l3.6-2.7-1.8-3.4-3.7 2.7z"/>
<path class="m" d="M291.4 272.4l14.5-10.8-7.5-13-14.4 10.4z"/>
<path fill="#6bb658" d="M276.9 283.8l14.5-11.4-7.4-13.4-14.6 10.9z"/>
<path fill="#66b43a" d="M282.2 264.9l3.6-2.7-1.8-3.2-3.7 2.6z"/>
<path fill="#68b544" d="M278.6 267.7l3.6-2.8-1.9-3.3-3.6 2.8z"/>
<path fill="#69b54e" d="M274.9 270.5l3.7-2.8-1.9-3.3-3.6 2.7z"/>
<path fill="#6bb659" d="M271.3 273.3l3.6-2.8-1.8-3.4-3.7 2.8z"/>
<path fill="#67b443" d="M284 268.3l3.7-2.7-1.9-3.4-3.6 2.7z"/>
<path fill="#69b54e" d="M280.4 271.1l3.6-2.8-1.8-3.4-3.6 2.8z"/>
<path fill="#6bb658" d="M276.8 273.9l3.6-2.8-1.8-3.4-3.7 2.8z"/>
<path fill="#6cb765" d="M273.2 276.7l3.6-2.8-1.9-3.4-3.6 2.8z"/>
<path fill="#69b54e" d="M285.9 271.7l3.6-2.7-1.8-3.4-3.7 2.7z"/>
<path fill="#6bb658" d="M282.3 274.5l3.6-2.8-1.9-3.4-3.6 2.8z"/>
<path fill="#6cb765" d="M278.7 277.4l3.6-2.9-1.9-3.4-3.6 2.8z"/>
<path fill="#6db976" d="M275 280.2l3.7-2.8-1.9-3.5-3.6 2.8z"/>
<path fill="#6bb658" d="M287.8 275.2l3.6-2.8-1.9-3.4-3.6 2.7z"/>
<path fill="#6cb765" d="M284.2 278.1l3.6-2.9-1.9-3.5-3.6 2.8z"/>
<path fill="#6db976" d="M280.5 280.9l3.7-2.8-1.9-3.6-3.6 2.9z"/>
<path fill="#6fbb88" d="M276.9 283.8l3.6-2.9-1.8-3.5-3.7 2.8z"/>
<path class="m" d="M276.9 283.8l14.5-11.4-7.4-13.4-14.6 10.9z"/>
<path fill="#70be9b" d="M262.4 295.6l14.5-11.8-7.5-13.9-14.6 11.4z"/>
<path fill="#6cb766" d="M267.6 276.1l3.7-2.8-1.9-3.4-3.6 2.8z"/>
<path fill="#6eb978" d="M264 279l3.6-2.9-1.8-3.4-3.7 2.9z"/>
<path fill="#6fbb8a" d="M260.3 281.9l3.7-2.9-1.9-3.4-3.6 2.8z"/>
<path fill="#70be9d" d="M256.7 284.8l3.6-2.9-1.8-3.5-3.7 2.9z"/>
<path fill="#6db977" d="M269.5 279.6l3.7-2.9-1.9-3.4-3.7 2.8z"/>
<path fill="#6fbb89" d="M265.9 282.5l3.6-2.9-1.9-3.5-3.6 2.9z"/>
<path fill="#70be9b" d="M262.2 285.4l3.7-2.9-1.9-3.5-3.7 2.9z"/>
<path fill="#6bbfa9" d="M258.6 288.3l3.6-2.9-1.9-3.5-3.6 2.9z"/>
<path fill="#6fbb88" d="M271.4 283.1l3.6-2.9-1.8-3.5-3.7 2.9z"/>
<path fill="#70be9b" d="M267.8 286l3.6-2.9-1.9-3.5-3.6 2.9z"/>
<path fill="#6bbfa9" d="M264.1 289l3.7-3-1.9-3.5-3.7 2.9z"/>
<path fill="#66c0b6" d="M260.5 291.9l3.6-2.9-1.9-3.6-3.6 2.9z"/>
<path fill="#70be9a" d="M273.3 286.7l3.6-2.9-1.9-3.6-3.6 2.9z"/>
<path fill="#6cbfa9" d="M269.6 289.6l3.7-2.9-1.9-3.6-3.6 2.9z"/>
<path fill="#66c0b6" d="M266 292.6l3.6-3-1.8-3.6-3.7 3z"/>
<path fill="#60c1c3" d="M262.4 295.6l3.6-3-1.9-3.6-3.6 2.9z"/>
<path class="m" d="M262.4 295.6l14.5-11.8-7.5-13.9-14.6 11.4z"/>
<path fill="#59c1d1" d="M247.8 307.9l14.6-12.3-7.6-14.3-14.7 12z"/>
<path fill="#6bbfaa" d="M253 287.8l3.7-3-1.9-3.5-3.6 3z"/>
<path fill="#65c0b8" d="M249.4 290.8l3.6-3-1.8-3.5-3.7 3z"/>
<path fill="#60c1c5" d="M245.7 293.8l3.7-3-1.9-3.5-3.7 3z"/>
<path fill="#57c1d2" d="M242 296.8l3.7-3-1.9-3.5-3.7 3z"/>
<path fill="#66c0b7" d="M254.9 291.3l3.7-3-1.9-3.5-3.7 3z"/>
<path fill="#60c1c4" d="M251.3 294.3l3.6-3-1.9-3.5-3.6 3z"/>
<path fill="#58c1d1" d="M247.6 297.4l3.7-3.1-1.9-3.5-3.7 3z"/>
<path fill="#4cbedc" d="M243.9 300.4l3.7-3-1.9-3.6-3.7 3z"/>
<path fill="#60c1c4" d="M256.8 294.9l3.7-3-1.9-3.6-3.7 3z"/>
<path fill="#59c1d1" d="M253.2 298l3.6-3.1-1.9-3.6-3.6 3z"/>
<path fill="#4cbedb" d="M249.5 301l3.7-3-1.9-3.7-3.7 3.1z"/>
<path fill="#3fbbe6" d="M245.8 304.1l3.7-3.1-1.9-3.6-3.7 3z"/>
<path fill="#59c1d0" d="M258.7 298.6l3.7-3-1.9-3.7-3.7 3z"/>
<path fill="#4dbedb" d="M255.1 301.7l3.6-3.1-1.9-3.7-3.6 3.1z"/>
<path fill="#40bbe5" d="M251.4 304.8l3.7-3.1-1.9-3.7-3.7 3z"/>
<path fill="#38b6e9" d="M247.8 307.9l3.6-3.1-1.9-3.8-3.7 3.1z"/>
<path class="m" d="M247.8 307.9l14.6-12.3-7.6-14.3-14.7 12z"/>
<path fill="#34aee8" d="M233.1 320.6l14.7-12.7-7.7-14.6-14.7 12.4z"/>
<path fill="#4bbedc" d="M238.4 299.9l3.6-3.1-1.9-3.5-3.6 3z"/>
<path fill="#3ebbe7" d="M234.7 303l3.7-3.1-1.9-3.6-3.7 3.1z"/>
<path fill="#37b4e9" d="M231 306.2l3.7-3.2-1.9-3.6-3.7 3.1z"/>
<path fill="#33ade7" d="M227.3 309.3l3.7-3.1-1.9-3.7-3.7 3.2z"/>
<path fill="#3fbbe6" d="M240.3 303.5l3.6-3.1-1.9-3.6-3.6 3.1z"/>
<path fill="#38b5e9" d="M236.6 306.7l3.7-3.2-1.9-3.6-3.7 3.1z"/>
<path fill="#34ade7" d="M232.9 309.8l3.7-3.1-1.9-3.7-3.7 3.2z"/>
<path fill="#30a5e6" d="M229.2 313l3.7-3.2-1.9-3.6-3.7 3.1z"/>
<path fill="#38b6e9" d="M242.2 307.2l3.6-3.1-1.9-3.7-3.6 3.1z"/>
<path fill="#34aee8" d="M238.5 310.4l3.7-3.2-1.9-3.7-3.7 3.2z"/>
<path fill="#30a6e6" d="M234.9 313.6l3.6-3.2-1.9-3.7-3.7 3.1z"/>
<path fill="#2e9be0" d="M231.2 316.8l3.7-3.2-2-3.8-3.7 3.2z"/>
<path fill="#34aee8" d="M244.1 311l3.7-3.1-2-3.8-3.6 3.1z"/>
<path fill="#30a7e6" d="M240.5 314.2l3.6-3.2-1.9-3.8-3.7 3.2z"/>
<path fill="#2e9ce0" d="M236.8 317.4l3.7-3.2-2-3.8-3.6 3.2z"/>
<path fill="#2c91d9" d="M233.1 320.6l3.7-3.2-1.9-3.8-3.7 3.2z"/>
<path class="m" d="M233.1 320.6l14.7-12.7-7.7-14.6-14.7 12.4z"/>
<path fill="#2a84d2" d="M218.5 333.7l14.6-13.1-7.7-14.9-14.8 12.8z"/>
<path fill="#30a4e5" d="M223.6 312.5l3.7-3.2-1.9-3.6-3.7 3.2z"/>
<path fill="#2e99de" d="M219.9 315.7l3.7-3.2-1.9-3.6-3.7 3.1z"/>
<path fill="#2c8ed8" d="M216.2 318.9l3.7-3.2-1.9-3.7-3.7 3.3z"/>
<path fill="#2a83d1" d="M212.5 322.2l3.7-3.3-1.9-3.6-3.7 3.2z"/>
<path fill="#2e9adf" d="M225.6 316.2l3.6-3.2-1.9-3.7-3.7 3.2z"/>
<path fill="#2c8fd8" d="M221.9 319.4l3.7-3.2-2-3.7-3.7 3.2z"/>
<path fill="#2a84d2" d="M218.2 322.7l3.7-3.3-2-3.7-3.7 3.2z"/>
<path fill="#287bcc" d="M214.5 326l3.7-3.3-2-3.8-3.7 3.3z"/>
<path fill="#2c90d9" d="M227.5 320l3.7-3.2-2-3.8-3.6 3.2z"/>
<path fill="#2a85d2" d="M223.8 323.2l3.7-3.2-1.9-3.8-3.7 3.2z"/>
<path fill="#287ccc" d="M220.2 326.5l3.6-3.3-1.9-3.8-3.7 3.3z"/>
<path fill="#2773c6" d="M216.5 329.8l3.7-3.3-2-3.8-3.7 3.3z"/>
<path fill="#2a85d3" d="M229.5 323.8l3.6-3.2-1.9-3.8-3.7 3.2z"/>
<path fill="#297ccd" d="M225.8 327.1l3.7-3.3-2-3.8-3.7 3.2z"/>
<path fill="#2774c7" d="M222.1 330.4l3.7-3.3-2-3.9-3.6 3.3z"/>
<path fill="#256bc1" d="M218.5 333.7l3.6-3.3-1.9-3.9-3.7 3.3z"/>
<path class="m" d="M218.5 333.7l14.6-13.1-7.7-14.9-14.8 12.8z"/>
<path fill="#f6e433" d="M496.7 184.8l13.5-2.1-9.6-6.8-13.3 1.6z"/>
<path fill="#f7e332" d="M498.7 180l6.7-.8-4.8-3.3-6.6 .7z"/>
<path fill="#f8e132" d="M492 181l6.7-1-4.7-3.4-6.7 .9z"/>
<path fill="#f4e635" d="M503.5 183.6l6.7-.9-4.8-3.5-6.7 .8z"/>
<path fill="#f5e534" d="M496.7 184.8l6.8-1.2-4.8-3.6-6.7 1z"/>
<path class="m" d="M496.7 184.8l13.5-2.1-9.6-6.8-13.3 1.6z"/>
<path fill="#f7e333" d="M483 187.6l13.7-2.8-9.4-7.3-13.4 2.3z"/>
<path fill="#f8e032" d="M485.2 182.2l6.8-1.2-4.7-3.5-6.7 1z"/>
<path fill="#f8e032" d="M478.4 183.6l6.8-1.4-4.6-3.7-6.7 1.3z"/>
<path fill="#f5e534" d="M489.8 186.1l6.9-1.3-4.7-3.8-6.8 1.2z"/>
<path fill="#f5e535" d="M483 187.6l6.8-1.5-4.6-3.9-6.8 1.4z"/>
<path class="m" d="M483 187.6l13.7-2.8-9.4-7.3-13.4 2.3z"/>
<path fill="#f5e534" d="M469.2 191.2l13.8-3.6-9.1-7.8-13.5 3z"/>
<path fill="#f8e232" d="M471.6 185.1l6.8-1.5-4.5-3.8-6.8 1.4z"/>
<path fill="#f7e333" d="M464.8 186.9l6.8-1.8-4.5-3.9-6.7 1.6z"/>
<path fill="#f4e635" d="M476.1 189.3l6.9-1.7-4.6-4-6.8 1.5z"/>
<path fill="#f2e836" d="M469.2 191.2l6.9-1.9-4.5-4.2-6.8 1.8z"/>
<path class="m" d="M469.2 191.2l13.8-3.6-9.1-7.8-13.5 3z"/>
<path fill="#f2e836" d="M455.4 195.5l13.8-4.3-8.8-8.4-13.7 3.8z"/>
<path fill="#f7e333" d="M458.7 186.8l4.6-1.3-2.9-2.7-4.6 1.2z"/>
<path fill="#f5e534" d="M454.2 188.1l4.5-1.3-2.9-2.8-4.5 1.3z"/>
<path fill="#f4e635" d="M449.6 189.5l4.6-1.4-2.9-2.8-4.6 1.3z"/>
<path fill="#f3e735" d="M461.7 189.6l4.5-1.3-2.9-2.8-4.6 1.3z"/>
<path fill="#f2e836" d="M457.1 191l4.6-1.4-3-2.8-4.5 1.3z"/>
<path fill="#f1e938" d="M452.5 192.5l4.6-1.5-2.9-2.9-4.6 1.4z"/>
<path fill="#f0ea38" d="M464.6 192.6l4.6-1.4-3-2.9-4.5 1.3z"/>
<path fill="#ede938" d="M460 194l4.6-1.4-2.9-3-4.6 1.4z"/>
<path fill="#e9e938" d="M455.4 195.5l4.6-1.5-2.9-3-4.6 1.5z"/>
<path class="m" d="M455.4 195.5l13.8-4.3-8.8-8.4-13.7 3.8z"/>
<path fill="#e9e938" d="M441.4 200.6l14-5.1-8.7-8.9-13.7 4.5z"/>
<path fill="#f2e836" d="M445 191l4.6-1.5-2.9-2.9-4.5 1.5z"/>
<path fill="#f1e938" d="M440.4 192.5l4.6-1.5-2.8-2.9-4.6 1.5z"/>
<path fill="#ede938" d="M435.8 194.2l4.6-1.7-2.8-2.9-4.6 1.5z"/>
<path fill="#edea38" d="M447.9 194l4.6-1.5-2.9-3-4.6 1.5z"/>
<path fill="#e9e938" d="M443.2 195.6l4.7-1.6-2.9-3-4.6 1.5z"/>
<path fill="#e4e838" d="M438.6 197.3l4.6-1.7-2.8-3.1-4.6 1.7z"/>
<path fill="#e4e838" d="M450.7 197.1l4.7-1.6-2.9-3-4.6 1.5z"/>
<path fill="#e0e738" d="M446.1 198.8l4.6-1.7-2.8-3.1-4.7 1.6z"/>
<path fill="#dbe638" d="M441.4 200.6l4.7-1.8-2.9-3.2-4.6 1.7z"/>
<path class="m" d="M441.4 200.6l14-5.1-8.7-8.9-13.7 4.5z"/>
<path fill="#d9e638" d="M427.4 206.4l14-5.8-8.4-9.5-13.8 5.2z"/>
<path fill="#eae938" d="M431.6 194.7l3.5-1.3-2.1-2.3-3.4 1.3z"/>
<path fill="#e6e838" d="M428.2 196l3.4-1.3-2-2.3-3.5 1.3z"/>
<path fill="#e1e738" d="M424.7 197.4l3.5-1.4-2.1-2.3-3.5 1.3z"/>
<path fill="#dde738" d="M421.2 198.8l3.5-1.4-2.1-2.4-3.4 1.3z"/>
<path fill="#e3e838" d="M433.7 197l3.5-1.3-2.1-2.3-3.5 1.3z"/>
<path fill="#dfe738" d="M430.3 198.4l3.4-1.4-2.1-2.3-3.4 1.3z"/>
<path fill="#dae638" d="M426.8 199.8l3.5-1.4-2.1-2.4-3.5 1.4z"/>
<path fill="#d7e537" d="M423.3 201.2l3.5-1.4-2.1-2.4-3.5 1.4z"/>
<path fill="#dce638" d="M435.8 199.5l3.5-1.4-2.1-2.4-3.5 1.3z"/>
<path fill="#d8e537" d="M432.3 200.9l3.5-1.4-2.1-2.5-3.4 1.4z"/>
<path fill="#d5e437" d="M428.8 202.3l3.5-1.4-2-2.5-3.5 1.4z"/>
<path fill="#d1e336" d="M425.4 203.8l3.4-1.5-2-2.5-3.5 1.4z"/>
<path fill="#d6e437" d="M437.9 202l3.5-1.4-2.1-2.5-3.5 1.4z"/>
<path fill="#d2e336" d="M434.4 203.4l3.5-1.4-2.1-2.5-3.5 1.4z"/>
<path fill="#cfe235" d="M430.9 204.8l3.5-1.4-2.1-2.5-3.5 1.4z"/>
<path fill="#cbe134" d="M427.4 206.4l3.5-1.6-2.1-2.5-3.4 1.5z"/>
<path class="m" d="M427.4 206.4l14-5.8-8.4-9.5-13.8 5.2z"/>
<path fill="#cae034" d="M413.4 212.8l14-6.4-8.2-10.1-13.9 6z"/>
<path fill="#d9e638" d="M417.8 200.2l3.4-1.4-2-2.5-3.5 1.5z"/>
<path fill="#d5e437" d="M414.3 201.7l3.5-1.5-2.1-2.4-3.5 1.4z"/>
<path fill="#d1e336" d="M410.8 203.2l3.5-1.5-2.1-2.5-3.4 1.5z"/>
<path fill="#cde134" d="M407.3 204.8l3.5-1.6-2-2.5-3.5 1.6z"/>
<path fill="#d3e336" d="M419.8 202.7l3.5-1.5-2.1-2.4-3.4 1.4z"/>
<path fill="#cfe235" d="M416.3 204.2l3.5-1.5-2-2.5-3.5 1.5z"/>
<path fill="#cbe134" d="M412.8 205.8l3.5-1.6-2-2.5-3.5 1.5z"/>
<path fill="#c7df33" d="M409.3 207.4l3.5-1.6-2-2.6-3.5 1.6z"/>
<path fill="#cde135" d="M421.9 205.3l3.5-1.5-2.1-2.6-3.5 1.5z"/>
<path fill="#c9e033" d="M418.3 206.8l3.6-1.5-2.1-2.6-3.5 1.5z"/>
<path fill="#c5de32" d="M414.8 208.4l3.5-1.6-2-2.6-3.5 1.6z"/>
<path fill="#c1dd32" d="M411.3 210.1l3.5-1.7-2-2.6-3.5 1.6z"/>
<path fill="#c7df33" d="M423.9 207.9l3.5-1.5-2-2.6-3.5 1.5z"/>
<path fill="#c3de32" d="M420.4 209.5l3.5-1.6-2-2.6-3.6 1.5z"/>
<path fill="#c0dc31" d="M416.9 211.1l3.5-1.6-2.1-2.7-3.5 1.6z"/>
<path fill="#bcdb31" d="M413.4 212.8l3.5-1.7-2.1-2.7-3.5 1.7z"/>
<path class="m" d="M413.4 212.8l14-6.4-8.2-10.1-13.9 6z"/>
<path fill="#bbda31" d="M399.2 220l14.2-7.2-8.1-10.5-14 6.5z"/>
<path fill="#c9e033" d="M403.8 206.4l3.5-1.6-2-2.5-3.5 1.5z"/>
<path fill="#c4de32" d="M400.3 208.1l3.5-1.7-2-2.6-3.5 1.7z"/>
<path fill="#c1dd32" d="M396.8 209.8l3.5-1.7-2-2.6-3.5 1.6z"/>
<path fill="#bddb31" d="M393.3 211.5l3.5-1.7-2-2.7-3.5 1.7z"/>
<path fill="#c3de32" d="M405.8 209.1l3.5-1.7-2-2.6-3.5 1.6z"/>
<path fill="#bfdc31" d="M402.3 210.8l3.5-1.7-2-2.7-3.5 1.7z"/>
<path fill="#bcda31" d="M398.8 212.5l3.5-1.7-2-2.7-3.5 1.7z"/>
<path fill="#b8d930" d="M395.2 214.3l3.6-1.8-2-2.7-3.5 1.7z"/>
<path fill="#bedb31" d="M407.8 211.8l3.5-1.7-2-2.7-3.5 1.7z"/>
<path fill="#bada31" d="M404.3 213.5l3.5-1.7-2-2.7-3.5 1.7z"/>
<path fill="#b7d830" d="M400.8 215.3l3.5-1.8-2-2.7-3.5 1.7z"/>
<path fill="#b3d730" d="M397.2 217.1l3.6-1.8-2-2.8-3.6 1.8z"/>
<path fill="#b9d930" d="M409.8 214.5l3.6-1.7-2.1-2.7-3.5 1.7z"/>
<path fill="#b5d830" d="M406.3 216.3l3.5-1.8-2-2.7-3.5 1.7z"/>
<path fill="#b1d62f" d="M402.8 218.1l3.5-1.8-2-2.8-3.5 1.8z"/>
<path fill="#add42f" d="M399.2 220l3.6-1.9-2-2.8-3.6 1.8z"/>
<path class="m" d="M399.2 220l14.2-7.2-8.1-10.5-14 6.5z"/>
<path fill="#abd32e" d="M385 227.7l14.2-7.7-7.9-11.2-14.1 7.3z"/>
<path fill="#b9d930" d="M389.7 213.3l3.6-1.8-2-2.7-3.5 1.8z"/>
<path fill="#b5d830" d="M386.2 215.1l3.5-1.8-1.9-2.7-3.5 1.8z"/>
<path fill="#b1d62f" d="M382.7 217l3.5-1.9-1.9-2.7-3.6 1.8z"/>
<path fill="#add42f" d="M379.2 218.9l3.5-1.9-2-2.8-3.5 1.9z"/>
<path fill="#b4d730" d="M391.7 216.1l3.5-1.8-1.9-2.8-3.6 1.8z"/>
<path fill="#b0d52f" d="M388.2 217.9l3.5-1.8-2-2.8-3.5 1.8z"/>
<path fill="#acd42f" d="M384.7 219.8l3.5-1.9-2-2.8-3.5 1.9z"/>
<path fill="#a7d22e" d="M381.1 221.8l3.6-2-2-2.8-3.5 1.9z"/>
<path fill="#afd52f" d="M393.7 218.9l3.5-1.8-2-2.8-3.5 1.8z"/>
<path fill="#aad32e" d="M390.2 220.8l3.5-1.9-2-2.8-3.5 1.8z"/>
<path fill="#a6d12e" d="M386.6 222.8l3.6-2-2-2.9-3.5 1.9z"/>
<path fill="#a3d02d" d="M383.1 224.7l3.5-1.9-1.9-3-3.6 2z"/>
<path fill="#a9d22e" d="M395.7 221.8l3.5-1.8-2-2.9-3.5 1.8z"/>
<path fill="#a5d12e" d="M392.1 223.8l3.6-2-2-2.9-3.5 1.9z"/>
<path fill="#a2cf2d" d="M388.6 225.7l3.5-1.9-1.9-3-3.6 2z"/>
<path fill="#9ecd2c" d="M385 227.7l3.6-2-2-2.9-3.5 1.9z"/>
<path class="m" d="M385 227.7l14.2-7.7-7.9-11.2-14.1 7.3z"/>
<path fill="#9ccc2c" d="M370.8 236.2l14.2-8.5-7.8-11.6-14.1 7.9z"/>
<path fill="#a7d22e" d="M375.1 222.5l4.7-2.6-2.6-3.8-4.7 2.6z"/>
<path fill="#a2cf2d" d="M370.4 225.2l4.7-2.7-2.6-3.8-4.7 2.6z"/>
<path fill="#9dcd2c" d="M365.6 227.9l4.8-2.7-2.6-3.9-4.7 2.7z"/>
<path fill="#a1cf2d" d="M377.7 226.4l4.7-2.7-2.6-3.8-4.7 2.6z"/>
<path fill="#9ccc2c" d="M373 229.2l4.7-2.8-2.6-3.9-4.7 2.7z"/>
<path fill="#97ca2b" d="M368.2 232l4.8-2.8-2.6-4-4.8 2.7z"/>
<path fill="#9bcc2c" d="M380.3 230.5l4.7-2.8-2.6-4-4.7 2.7z"/>
<path fill="#95c92b" d="M375.5 233.3l4.8-2.8-2.6-4.1-4.7 2.8z"/>
<path fill="#90c72a" d="M370.8 236.2l4.7-2.9-2.5-4.1-4.8 2.8z"/>
<path class="m" d="M370.8 236.2l14.2-8.5-7.8-11.6-14.1 7.9z"/>
<path fill="#8cc52a" d="M356.5 245.2l14.3-9-7.7-12.2-14.2 8.5z"/>
<path fill="#98ca2b" d="M360.9 230.8l4.7-2.9-2.5-3.9-4.7 2.8z"/>
<path fill="#92c82b" d="M356.2 233.7l4.7-2.9-2.5-4-4.8 2.8z"/>
<path fill="#8dc62a" d="M351.4 236.6l4.8-2.9-2.6-4.1-4.7 2.9z"/>
<path fill="#91c72a" d="M363.5 234.9l4.7-2.9-2.6-4.1-4.7 2.9z"/>
<path fill="#8cc52a" d="M358.7 237.8l4.8-2.9-2.6-4.1-4.7 2.9z"/>
<path fill="#88c32a" d="M353.9 240.9l4.8-3.1-2.5-4.1-4.8 2.9z"/>
<path fill="#8bc52a" d="M366 239.1l4.8-2.9-2.6-4.2-4.7 2.9z"/>
<path fill="#87c32a" d="M361.3 242.1l4.7-3-2.5-4.2-4.8 2.9z"/>
<path fill="#82c12a" d="M356.5 245.2l4.8-3.1-2.6-4.3-4.8 3.1z"/>
<path class="m" d="M356.5 245.2l14.3-9-7.7-12.2-14.2 8.5z"/>
<path fill="#7ec02a" d="M342.2 254.8l14.3-9.6-7.6-12.7-14.3 9.1z"/>
<path fill="#88c42a" d="M346.6 239.7l4.8-3.1-2.5-4.1-4.8 3z"/>
<path fill="#84c22a" d="M341.9 242.8l4.7-3.1-2.5-4.2-4.7 3z"/>
<path fill="#7fc02a" d="M337.1 245.9l4.8-3.1-2.5-4.3-4.8 3.1z"/>
<path fill="#83c22a" d="M349.2 243.9l4.7-3-2.5-4.3-4.8 3.1z"/>
<path fill="#7ec02a" d="M344.4 247.1l4.8-3.2-2.6-4.2-4.7 3.1z"/>
<path fill="#7abe2a" d="M339.6 250.3l4.8-3.2-2.5-4.3-4.8 3.1z"/>
<path fill="#7ebf2a" d="M351.7 248.4l4.8-3.2-2.6-4.3-4.7 3z"/>
<path fill="#79bd2a" d="M347 251.6l4.7-3.2-2.5-4.5-4.8 3.2z"/>
<path fill="#75bb2b" d="M342.2 254.8l4.8-3.2-2.6-4.5-4.8 3.2z"/>
<path class="m" d="M342.2 254.8l14.3-9.6-7.6-12.7-14.3 9.1z"/>
<path fill="#72b92c" d="M327.8 265l14.4-10.2-7.6-13.2-14.3 9.8z"/>
<path fill="#7abe2a" d="M332.3 249.1l4.8-3.2-2.5-4.3-4.8 3.2z"/>
<path fill="#76bc2b" d="M327.5 252.4l4.8-3.3-2.5-4.3-4.8 3.2z"/>
<path fill="#72b92c" d="M322.8 255.8l4.7-3.4-2.5-4.4-4.7 3.4z"/>
<path fill="#76bc2b" d="M334.9 253.6l4.7-3.3-2.5-4.4-4.8 3.2z"/>
<path fill="#72b92c" d="M330.1 256.9l4.8-3.3-2.6-4.5-4.8 3.3z"/>
<path fill="#6db72e" d="M325.3 260.4l4.8-3.5-2.6-4.5-4.7 3.4z"/>
<path fill="#71b92d" d="M337.4 258.2l4.8-3.4-2.6-4.5-4.7 3.3z"/>
<path fill="#6db62e" d="M332.6 261.6l4.8-3.4-2.5-4.6-4.8 3.3z"/>
<path fill="#6ab532" d="M327.8 265l4.8-3.4-2.5-4.7-4.8 3.5z"/>
<path class="m" d="M327.8 265l14.4-10.2-7.6-13.2-14.3 9.8z"/>
<path fill="#68b536" d="M313.4 275.8l14.4-10.8-7.5-13.6-14.4 10.2z"/>
<path fill="#6fb82d" d="M318.5 257.2l3.6-2.5-1.8-3.3-3.6 2.5z"/>
<path fill="#6cb62f" d="M314.9 259.8l3.6-2.6-1.8-3.3-3.6 2.5z"/>
<path fill="#6ab532" d="M311.3 262.4l3.6-2.6-1.8-3.4-3.6 2.6z"/>
<path fill="#68b536" d="M307.7 265.1l3.6-2.7-1.8-3.4-3.6 2.6z"/>
<path fill="#6cb62f" d="M320.4 260.6l3.6-2.5-1.9-3.4-3.6 2.5z"/>
<path fill="#6ab532" d="M316.8 263.2l3.6-2.6-1.9-3.4-3.6 2.6z"/>
<path fill="#68b536" d="M313.2 265.9l3.6-2.7-1.9-3.4-3.6 2.6z"/>
<path fill="#66b43a" d="M309.6 268.6l3.6-2.7-1.9-3.5-3.6 2.7z"/>
<path fill="#6ab533" d="M322.3 264.1l3.6-2.6-1.9-3.4-3.6 2.5z"/>
<path fill="#68b537" d="M318.7 266.8l3.6-2.7-1.9-3.5-3.6 2.6z"/>
<path fill="#66b43b" d="M315.1 269.4l3.6-2.6-1.9-3.6-3.6 2.7z"/>
<path fill="#68b545" d="M311.5 272.1l3.6-2.7-1.9-3.5-3.6 2.7z"/>
<path fill="#68b537" d="M324.2 267.7l3.6-2.7-1.9-3.5-3.6 2.6z"/>
<path fill="#66b43c" d="M320.6 270.3l3.6-2.6-1.9-3.6-3.6 2.7z"/>
<path fill="#68b546" d="M317 273l3.6-2.7-1.9-3.5-3.6 2.6z"/>
<path fill="#69b550" d="M313.4 275.8l3.6-2.8-1.9-3.6-3.6 2.7z"/>
<path class="m" d="M313.4 275.8l14.4-10.8-7.5-13.6-14.4 10.2z"/>
<path fill="#6bb659" d="M299 287l14.4-11.2-7.5-14.2-14.5 10.8z"/>
<path fill="#66b43a" d="M304.1 267.7l3.6-2.6-1.8-3.5-3.6 2.7z"/>
<path fill="#68b544" d="M300.5 270.5l3.6-2.8-1.8-3.4-3.7 2.7z"/>
<path fill="#69b54e" d="M296.9 273.2l3.6-2.7-1.9-3.5-3.6 2.7z"/>
<path fill="#6bb658" d="M293.3 276l3.6-2.8-1.9-3.5-3.6 2.7z"/>
<path fill="#68b544" d="M306 271.3l3.6-2.7-1.9-3.5-3.6 2.6z"/>
<path fill="#69b54e" d="M302.4 274l3.6-2.7-1.9-3.6-3.6 2.8z"/>
<path fill="#6bb659" d="M298.8 276.8l3.6-2.8-1.9-3.5-3.6 2.7z"/>
<path fill="#6cb766" d="M295.2 279.6l3.6-2.8-1.9-3.6-3.6 2.8z"/>
<path fill="#69b54f" d="M307.9 274.9l3.6-2.8-1.9-3.5-3.6 2.7z"/>
<path fill="#6bb65a" d="M304.3 277.6l3.6-2.7-1.9-3.6-3.6 2.7z"/>
<path fill="#6cb767" d="M300.7 280.4l3.6-2.8-1.9-3.6-3.6 2.8z"/>
<path fill="#6eb978" d="M297.1 283.3l3.6-2.9-1.9-3.6-3.6 2.8z"/>
<path fill="#6bb65a" d="M309.8 278.5l3.6-2.7-1.9-3.7-3.6 2.8z"/>
<path fill="#6db768" d="M306.2 281.3l3.6-2.8-1.9-3.6-3.6 2.7z"/>
<path fill="#6eb979" d="M302.6 284.1l3.6-2.8-1.9-3.7-3.6 2.8z"/>
<path fill="#6fbc8b" d="M299 287l3.6-2.9-1.9-3.7-3.6 2.9z"/>
<path class="m" d="M299 287l14.4-11.2-7.5-14.2-14.5 10.8z"/>
<path fill="#70be9b" d="M284.5 298.7l14.5-11.7-7.6-14.6-14.5 11.4z"/>
<path fill="#6cb765" d="M289.7 278.8l3.6-2.8-1.9-3.6-3.6 2.8z"/>
<path fill="#6db977" d="M286.1 281.6l3.6-2.8-1.9-3.6-3.6 2.9z"/>
<path fill="#6fbb88" d="M282.4 284.5l3.7-2.9-1.9-3.5-3.7 2.8z"/>
<path fill="#70be9a" d="M278.8 287.4l3.6-2.9-1.9-3.6-3.6 2.9z"/>
<path fill="#6db977" d="M291.6 282.4l3.6-2.8-1.9-3.6-3.6 2.8z"/>
<path fill="#6fbb89" d="M287.9 285.3l3.7-2.9-1.9-3.6-3.6 2.8z"/>
<path fill="#70be9b" d="M284.3 288.2l3.6-2.9-1.8-3.7-3.7 2.9z"/>
<path fill="#6cbfa9" d="M280.7 291.1l3.6-2.9-1.9-3.7-3.6 2.9z"/>
<path fill="#6fbb8a" d="M293.5 286.1l3.6-2.8-1.9-3.7-3.6 2.8z"/>
<path fill="#70be9c" d="M289.8 289l3.7-2.9-1.9-3.7-3.7 2.9z"/>
<path fill="#6bbfa9" d="M286.2 291.9l3.6-2.9-1.9-3.7-3.6 2.9z"/>
<path fill="#66c0b6" d="M282.6 294.9l3.6-3-1.9-3.7-3.6 2.9z"/>
<path fill="#70be9d" d="M295.4 289.9l3.6-2.9-1.9-3.7-3.6 2.8z"/>
<path fill="#6bbfaa" d="M291.8 292.8l3.6-2.9-1.9-3.8-3.7 2.9z"/>
<path fill="#66c0b7" d="M288.1 295.8l3.7-3-2-3.8-3.6 2.9z"/>
<path fill="#60c1c4" d="M284.5 298.7l3.6-2.9-1.9-3.9-3.6 3z"/>
<path class="m" d="M284.5 298.7l14.5-11.7-7.6-14.6-14.5 11.4z"/>
<path fill="#59c1d0" d="M270 310.9l14.5-12.2-7.6-14.9-14.5 11.8z"/>
<path fill="#6cbfa9" d="M275.2 290.4l3.6-3-1.9-3.6-3.6 2.9z"/>
<path fill="#66c0b6" d="M271.5 293.3l3.7-2.9-1.9-3.7-3.7 2.9z"/>
<path fill="#61c1c3" d="M267.9 296.3l3.6-3-1.9-3.7-3.6 3z"/>
<path fill="#5ac1d0" d="M264.3 299.3l3.6-3-1.9-3.7-3.6 3z"/>
<path fill="#66c0b6" d="M277.1 294.1l3.6-3-1.9-3.7-3.6 3z"/>
<path fill="#60c1c3" d="M273.4 297.1l3.7-3-1.9-3.7-3.7 2.9z"/>
<path fill="#59c1d0" d="M269.8 300.1l3.6-3-1.9-3.8-3.6 3z"/>
<path fill="#4dbeda" d="M266.2 303.1l3.6-3-1.9-3.8-3.6 3z"/>
<path fill="#60c1c4" d="M279 297.9l3.6-3-1.9-3.8-3.6 3z"/>
<path fill="#59c1d0" d="M275.4 300.9l3.6-3-1.9-3.8-3.7 3z"/>
<path fill="#4dbedb" d="M271.7 303.9l3.7-3-2-3.8-3.6 3z"/>
<path fill="#40bbe5" d="M268.1 307l3.6-3.1-1.9-3.8-3.6 3z"/>
<path fill="#59c1d1" d="M280.9 301.7l3.6-3-1.9-3.8-3.6 3z"/>
<path fill="#4cbedb" d="M277.3 304.8l3.6-3.1-1.9-3.8-3.6 3z"/>
<path fill="#3fbbe5" d="M273.7 307.8l3.6-3-1.9-3.9-3.7 3z"/>
<path fill="#38b6e9" d="M270 310.9l3.7-3.1-2-3.9-3.6 3.1z"/>
<path class="m" d="M270 310.9l14.5-12.2-7.6-14.9-14.5 11.8z"/>
<path fill="#34afe8" d="M255.5 323.5l14.5-12.6-7.6-15.3-14.6 12.3z"/>
<path fill="#4dbeda" d="M260.6 302.4l3.7-3.1-1.9-3.7-3.7 3z"/>
<path fill="#40bbe5" d="M257 305.5l3.6-3.1-1.9-3.8-3.6 3.1z"/>
<path fill="#38b6e9" d="M253.3 308.6l3.7-3.1-1.9-3.8-3.7 3.1z"/>
<path fill="#34aee8" d="M249.7 311.7l3.6-3.1-1.9-3.8-3.6 3.1z"/>
<path fill="#40bbe5" d="M262.5 306.2l3.7-3.1-1.9-3.8-3.7 3.1z"/>
<path fill="#38b6e9" d="M258.9 309.3l3.6-3.1-1.9-3.8-3.6 3.1z"/>
<path fill="#34afe8" d="M255.3 312.4l3.6-3.1-1.9-3.8-3.7 3.1z"/>
<path fill="#30a7e6" d="M251.6 315.6l3.7-3.2-2-3.8-3.6 3.1z"/>
<path fill="#38b6e9" d="M264.5 310.1l3.6-3.1-1.9-3.9-3.7 3.1z"/>
<path fill="#34aee8" d="M260.8 313.2l3.7-3.1-2-3.9-3.6 3.1z"/>
<path fill="#30a7e6" d="M257.2 316.3l3.6-3.1-1.9-3.9-3.6 3.1z"/>
<path fill="#2e9ce0" d="M253.6 319.5l3.6-3.2-1.9-3.9-3.7 3.2z"/>
<path fill="#34aee8" d="M266.4 314l3.6-3.1-1.9-3.9-3.6 3.1z"/>
<path fill="#30a7e6" d="M262.8 317.2l3.6-3.2-1.9-3.9-3.7 3.1z"/>
<path fill="#2e9ce0" d="M259.2 320.3l3.6-3.1-2-4-3.6 3.1z"/>
<path fill="#2c91da" d="M255.5 323.5l3.7-3.2-2-4-3.6 3.2z"/>
<path class="m" d="M255.5 323.5l14.5-12.6-7.6-15.3-14.6 12.3z"/>
<path fill="#2a86d3" d="M241 336.5l14.5-13-7.7-15.6-14.7 12.7z"/>
<path fill="#30a7e6" d="M246 314.8l3.7-3.1-1.9-3.8-3.7 3.1z"/>
<path fill="#2e9ce0" d="M242.4 318l3.6-3.2-1.9-3.8-3.6 3.2z"/>
<path fill="#2c91da" d="M238.7 321.2l3.7-3.2-1.9-3.8-3.7 3.2z"/>
<path fill="#2a86d3" d="M235.1 324.5l3.6-3.3-1.9-3.8-3.7 3.2z"/>
<path fill="#2e9ce0" d="M248 318.7l3.6-3.1-1.9-3.9-3.7 3.1z"/>
<path fill="#2c91da" d="M244.3 321.9l3.7-3.2-2-3.9-3.6 3.2z"/>
<path fill="#2a86d3" d="M240.7 325.2l3.6-3.3-1.9-3.9-3.7 3.2z"/>
<path fill="#297dcd" d="M237.1 328.4l3.6-3.2-2-4-3.6 3.3z"/>
<path fill="#2c91da" d="M249.9 322.7l3.7-3.2-2-3.9-3.6 3.1z"/>
<path fill="#2a86d3" d="M246.3 325.9l3.6-3.2-1.9-4-3.7 3.2z"/>
<path fill="#297dcd" d="M242.7 329.2l3.6-3.3-2-4-3.6 3.3z"/>
<path fill="#2775c7" d="M239 332.4l3.7-3.2-2-4-3.6 3.2z"/>
<path fill="#2a86d3" d="M251.9 326.7l3.6-3.2-1.9-4-3.7 3.2z"/>
<path fill="#297dcd" d="M248.3 330l3.6-3.3-2-4-3.6 3.2z"/>
<path fill="#2774c7" d="M244.6 333.2l3.7-3.2-2-4.1-3.6 3.3z"/>
<path fill="#256cc1" d="M241 336.5l3.6-3.3-1.9-4-3.7 3.2z"/>
<path class="m" d="M241 336.5l14.5-13-7.7-15.6-14.7 12.7z"/>
<path fill="#2464bc" d="M226.5 349.9l14.5-13.4-7.9-15.9-14.6 13.1z"/>
<path fill="#297dcd" d="M231.4 327.7l3.7-3.2-2-3.9-3.6 3.2z"/>
<path fill="#2774c7" d="M227.8 331l3.6-3.3-1.9-3.9-3.7 3.3z"/>
<path fill="#256cc1" d="M224.1 334.3l3.7-3.3-2-3.9-3.7 3.3z"/>
<path fill="#2463bb" d="M220.4 337.6l3.7-3.3-2-3.9-3.6 3.3z"/>
<path fill="#2774c7" d="M233.4 331.7l3.7-3.3-2-3.9-3.7 3.2z"/>
<path fill="#256cc1" d="M229.8 335l3.6-3.3-2-4-3.6 3.3z"/>
<path fill="#2464bc" d="M226.1 338.3l3.7-3.3-2-4-3.7 3.3z"/>
<path fill="#235fb7" d="M222.4 341.6l3.7-3.3-2-4-3.7 3.3z"/>
<path fill="#256cc1" d="M235.4 335.7l3.6-3.3-1.9-4-3.7 3.3z"/>
<path fill="#2464bc" d="M231.7 339l3.7-3.3-2-4-3.6 3.3z"/>
<path fill="#235fb7" d="M228.1 342.4l3.6-3.4-1.9-4-3.7 3.3z"/>
<path fill="#225ab2" d="M224.4 345.7l3.7-3.3-2-4.1-3.7 3.3z"/>
<path fill="#2464bc" d="M237.4 339.8l3.6-3.3-2-4.1-3.6 3.3z"/>
<path fill="#235fb7" d="M233.7 343.1l3.7-3.3-2-4.1-3.7 3.3z"/>
<path fill="#225ab2" d="M230.1 346.5l3.6-3.4-2-4.1-3.6 3.4z"/>
<path fill="#2156ae" d="M226.5 349.9l3.6-3.4-2-4.1-3.7 3.3z"/>
<path class="m" d="M226.5 349.9l14.5-13.4-7.9-15.9-14.6 13.1z"/>
<path fill="#ede938" d="M506.2 193l13.9-2.6-9.9-7.7-13.5 2.1z"/>
<path fill="#f0ea38" d="M508.3 187.5l6.8-1.1-4.9-3.7-6.7 .9z"/>
<path fill="#f1e937" d="M501.4 188.8l6.9-1.3-4.8-3.9-6.8 1.2z"/>
<path fill="#e7e838" d="M513.1 191.6l7-1.2-5-4-6.8 1.1z"/>
<path fill="#e7e838" d="M506.2 193l6.9-1.4-4.8-4.1-6.9 1.3z"/>
<path class="m" d="M506.2 193l13.9-2.6-9.9-7.7-13.5 2.1z"/>
<path fill="#ebe938" d="M492.2 196.4l14-3.4-9.5-8.2-13.7 2.8z"/>
<path fill="#f1e937" d="M495.2 188.3l4.6-.9-3.1-2.6-4.6 .8z"/>
<path fill="#f1e937" d="M490.6 189.3l4.6-1-3.1-2.7-4.5 1z"/>
<path fill="#f1e938" d="M486 190.4l4.6-1.1-3-2.7-4.6 1z"/>
<path fill="#ece938" d="M498.4 191.1l4.6-.9-3.2-2.8-4.6 .9z"/>
<path fill="#ebe938" d="M493.8 192.2l4.6-1.1-3.2-2.8-4.6 1z"/>
<path fill="#eae938" d="M489.1 193.4l4.7-1.2-3.2-2.9-4.6 1.1z"/>
<path fill="#e4e838" d="M501.5 194.1l4.7-1.1-3.2-2.8-4.6 .9z"/>
<path fill="#e3e838" d="M496.9 195.2l4.6-1.1-3.1-3-4.6 1.1z"/>
<path fill="#e1e738" d="M492.2 196.4l4.7-1.2-3.1-3-4.7 1.2z"/>
<path class="m" d="M492.2 196.4l14-3.4-9.5-8.2-13.7 2.8z"/>
<path fill="#e5e838" d="M478.2 200.5l14-4.1-9.2-8.8-13.8 3.6z"/>
<path fill="#f0ea38" d="M481.4 191.6l4.6-1.2-3-2.8-4.6 1.1z"/>
<path fill="#edea38" d="M476.8 192.9l4.6-1.3-3-2.9-4.6 1.2z"/>
<path fill="#ebe938" d="M472.2 194.2l4.6-1.3-3-3-4.6 1.3z"/>
<path fill="#e7e838" d="M484.5 194.6l4.6-1.2-3.1-3-4.6 1.2z"/>
<path fill="#e5e838" d="M479.8 195.9l4.7-1.3-3.1-3-4.6 1.3z"/>
<path fill="#e2e738" d="M475.2 197.3l4.6-1.4-3-3-4.6 1.3z"/>
<path fill="#dfe738" d="M487.6 197.7l4.6-1.3-3.1-3-4.6 1.2z"/>
<path fill="#dce638" d="M482.9 199.1l4.7-1.4-3.1-3.1-4.7 1.3z"/>
<path fill="#d9e638" d="M478.2 200.5l4.7-1.4-3.1-3.2-4.6 1.4z"/>
<path class="m" d="M478.2 200.5l14-4.1-9.2-8.8-13.8 3.6z"/>
<path fill="#dae638" d="M464.1 205.4l14.1-4.9-9-9.3-13.8 4.3z"/>
<path fill="#e9e938" d="M468 194.5l3.4-1.1-2.2-2.2-3.4 1z"/>
<path fill="#e6e838" d="M464.5 195.6l3.5-1.1-2.2-2.3-3.5 1.1z"/>
<path fill="#e3e838" d="M461 196.7l3.5-1.1-2.2-2.3-3.5 1.1z"/>
<path fill="#e0e738" d="M457.5 197.9l3.5-1.2-2.2-2.3-3.4 1.1z"/>
<path fill="#e2e838" d="M470.2 196.8l3.5-1.1-2.3-2.3-3.4 1.1z"/>
<path fill="#e0e738" d="M466.7 198l3.5-1.2-2.2-2.3-3.5 1.1z"/>
<path fill="#dce638" d="M463.2 199.1l3.5-1.1-2.2-2.4-3.5 1.1z"/>
<path fill="#d9e638" d="M459.7 200.4l3.5-1.3-2.2-2.4-3.5 1.2z"/>
<path fill="#dbe638" d="M472.4 199.2l3.5-1.1-2.2-2.4-3.5 1.1z"/>
<path fill="#d9e638" d="M468.9 200.4l3.5-1.2-2.2-2.4-3.5 1.2z"/>
<path fill="#d6e537" d="M465.4 201.6l3.5-1.2-2.2-2.4-3.5 1.1z"/>
<path fill="#d4e436" d="M461.9 202.9l3.5-1.3-2.2-2.5-3.5 1.3z"/>
<path fill="#d6e437" d="M474.7 201.7l3.5-1.2-2.3-2.4-3.5 1.1z"/>
<path fill="#d3e436" d="M471.2 202.9l3.5-1.2-2.3-2.5-3.5 1.2z"/>
<path fill="#d1e335" d="M467.6 204.1l3.6-1.2-2.3-2.5-3.5 1.2z"/>
<path fill="#cee235" d="M464.1 205.4l3.5-1.3-2.2-2.5-3.5 1.3z"/>
<path class="m" d="M464.1 205.4l14.1-4.9-9-9.3-13.8 4.3z"/>
<path fill="#cfe235" d="M450 211.1l14.1-5.7-8.7-9.9-14 5.1z"/>
<path fill="#dde738" d="M454 199.1l3.5-1.2-2.1-2.4-3.5 1.2z"/>
<path fill="#d9e638" d="M450.6 200.4l3.4-1.3-2.1-2.4-3.5 1.3z"/>
<path fill="#d6e537" d="M447.1 201.7l3.5-1.3-2.2-2.4-3.5 1.3z"/>
<path fill="#d3e436" d="M443.6 203.1l3.5-1.4-2.2-2.4-3.5 1.3z"/>
<path fill="#d7e537" d="M456.2 201.6l3.5-1.2-2.2-2.5-3.5 1.2z"/>
<path fill="#d4e436" d="M452.7 202.9l3.5-1.3-2.2-2.5-3.4 1.3z"/>
<path fill="#d1e335" d="M449.2 204.3l3.5-1.4-2.1-2.5-3.5 1.3z"/>
<path fill="#cde135" d="M445.7 205.7l3.5-1.4-2.1-2.6-3.5 1.4z"/>
<path fill="#d1e336" d="M458.4 204.2l3.5-1.3-2.2-2.5-3.5 1.2z"/>
<path fill="#cee235" d="M454.9 205.5l3.5-1.3-2.2-2.6-3.5 1.3z"/>
<path fill="#cbe034" d="M451.4 206.9l3.5-1.4-2.2-2.6-3.5 1.4z"/>
<path fill="#c7df33" d="M447.8 208.4l3.6-1.5-2.2-2.6-3.5 1.4z"/>
<path fill="#cbe034" d="M460.6 206.8l3.5-1.4-2.2-2.5-3.5 1.3z"/>
<path fill="#c8df33" d="M457.1 208.2l3.5-1.4-2.2-2.6-3.5 1.3z"/>
<path fill="#c4de32" d="M453.5 209.6l3.6-1.4-2.2-2.7-3.5 1.4z"/>
<path fill="#c1dd32" d="M450 211.1l3.5-1.5-2.1-2.7-3.6 1.5z"/>
<path class="m" d="M450 211.1l14.1-5.7-8.7-9.9-14 5.1z"/>
<path fill="#c2dd32" d="M435.8 217.4l14.2-6.3-8.6-10.5-14 5.8z"/>
<path fill="#d0e235" d="M440 204.5l3.6-1.4-2.2-2.5-3.5 1.4z"/>
<path fill="#cce134" d="M436.5 206l3.5-1.5-2.1-2.5-3.5 1.4z"/>
<path fill="#c9e033" d="M433 207.5l3.5-1.5-2.1-2.6-3.5 1.4z"/>
<path fill="#c5de32" d="M429.5 209l3.5-1.5-2.1-2.7-3.5 1.6z"/>
<path fill="#cae034" d="M442.2 207.1l3.5-1.4-2.1-2.6-3.6 1.4z"/>
<path fill="#c6df33" d="M438.6 208.6l3.6-1.5-2.2-2.6-3.5 1.5z"/>
<path fill="#c3dd32" d="M435.1 210.2l3.5-1.6-2.1-2.6-3.5 1.5z"/>
<path fill="#c0dc31" d="M431.6 211.8l3.5-1.6-2.1-2.7-3.5 1.5z"/>
<path fill="#c4de32" d="M444.3 209.8l3.5-1.4-2.1-2.7-3.5 1.4z"/>
<path fill="#c1dd32" d="M440.8 211.4l3.5-1.6-2.1-2.7-3.6 1.5z"/>
<path fill="#bedb31" d="M437.2 212.9l3.6-1.5-2.2-2.8-3.5 1.6z"/>
<path fill="#bada31" d="M433.7 214.5l3.5-1.6-2.1-2.7-3.5 1.6z"/>
<path fill="#bfdc31" d="M446.4 212.6l3.6-1.5-2.2-2.7-3.5 1.4z"/>
<path fill="#bbda31" d="M442.9 214.2l3.5-1.6-2.1-2.8-3.5 1.6z"/>
<path fill="#b8d930" d="M439.3 215.8l3.6-1.6-2.1-2.8-3.6 1.5z"/>
<path fill="#b5d830" d="M435.8 217.4l3.5-1.6-2.1-2.9-3.5 1.6z"/>
<path class="m" d="M435.8 217.4l14.2-6.3-8.6-10.5-14 5.8z"/>
<path fill="#b4d730" d="M421.6 224.4l14.2-7-8.4-11-14 6.4z"/>
<path fill="#c2dd32" d="M426 210.6l3.5-1.6-2.1-2.6-3.5 1.5z"/>
<path fill="#bedc31" d="M422.5 212.2l3.5-1.6-2.1-2.7-3.5 1.6z"/>
<path fill="#bbda31" d="M418.9 213.9l3.6-1.7-2.1-2.7-3.5 1.6z"/>
<path fill="#b7d830" d="M415.4 215.6l3.5-1.7-2-2.8-3.5 1.7z"/>
<path fill="#bcdb31" d="M428.1 213.4l3.5-1.6-2.1-2.8-3.5 1.6z"/>
<path fill="#b9d930" d="M424.5 215l3.6-1.6-2.1-2.8-3.5 1.6z"/>
<path fill="#b5d830" d="M421 216.7l3.5-1.7-2-2.8-3.6 1.7z"/>
<path fill="#b2d62f" d="M417.4 218.5l3.6-1.8-2.1-2.8-3.5 1.7z"/>
<path fill="#b7d830" d="M430.1 216.2l3.6-1.7-2.1-2.7-3.5 1.6z"/>
<path fill="#b3d730" d="M426.6 217.9l3.5-1.7-2-2.8-3.6 1.6z"/>
<path fill="#b0d52f" d="M423 219.7l3.6-1.8-2.1-2.9-3.5 1.7z"/>
<path fill="#acd42f" d="M419.5 221.4l3.5-1.7-2-3-3.6 1.8z"/>
<path fill="#b1d62f" d="M432.2 219.1l3.6-1.7-2.1-2.9-3.6 1.7z"/>
<path fill="#aed42f" d="M428.7 220.8l3.5-1.7-2.1-2.9-3.5 1.7z"/>
<path fill="#aad32e" d="M425.1 222.6l3.6-1.8-2.1-2.9-3.6 1.8z"/>
<path fill="#a6d12e" d="M421.6 224.4l3.5-1.8-2.1-2.9-3.5 1.7z"/>
<path class="m" d="M421.6 224.4l14.2-7-8.4-11-14 6.4z"/>
<path fill="#a5d12e" d="M407.3 232.1l14.3-7.7-8.2-11.6-14.2 7.2z"/>
<path fill="#b3d730" d="M411.9 217.4l3.5-1.8-2-2.8-3.6 1.7z"/>
<path fill="#b0d52f" d="M408.3 219.2l3.6-1.8-2.1-2.9-3.5 1.8z"/>
<path fill="#acd42f" d="M404.8 221l3.5-1.8-2-2.9-3.5 1.8z"/>
<path fill="#a8d22e" d="M401.2 222.9l3.6-1.9-2-2.9-3.6 1.9z"/>
<path fill="#aed42f" d="M413.9 220.3l3.5-1.8-2-2.9-3.5 1.8z"/>
<path fill="#aad32e" d="M410.3 222.1l3.6-1.8-2-2.9-3.6 1.8z"/>
<path fill="#a6d12e" d="M406.8 224l3.5-1.9-2-2.9-3.5 1.8z"/>
<path fill="#a3d02d" d="M403.2 225.9l3.6-1.9-2-3-3.6 1.9z"/>
<path fill="#a8d22e" d="M415.9 223.3l3.6-1.9-2.1-2.9-3.5 1.8z"/>
<path fill="#a5d12e" d="M412.4 225.1l3.5-1.8-2-3-3.6 1.8z"/>
<path fill="#a1cf2d" d="M408.8 227l3.6-1.9-2.1-3-3.5 1.9z"/>
<path fill="#9ecd2c" d="M405.3 229l3.5-2-2-3-3.6 1.9z"/>
<path fill="#a3d02d" d="M418 226.3l3.6-1.9-2.1-3-3.6 1.9z"/>
<path fill="#a0ce2d" d="M414.4 228.2l3.6-1.9-2.1-3-3.5 1.8z"/>
<path fill="#9ccd2c" d="M410.8 230.2l3.6-2-2-3.1-3.6 1.9z"/>
<path fill="#99cb2c" d="M407.3 232.1l3.5-1.9-2-3.2-3.5 2z"/>
<path class="m" d="M407.3 232.1l14.3-7.7-8.2-11.6-14.2 7.2z"/>
<path fill="#97ca2b" d="M393 240.5l14.3-8.4-8.1-12.1-14.2 7.7z"/>
<path fill="#a3d02d" d="M397.2 226.5l4.7-2.6-2.7-3.9-4.7 2.5z"/>
<path fill="#9ecd2c" d="M392.4 229.1l4.8-2.6-2.7-4-4.7 2.6z"/>
<path fill="#99cb2c" d="M387.7 231.9l4.7-2.8-2.6-4-4.8 2.6z"/>
<path fill="#9ccd2c" d="M399.8 230.6l4.8-2.6-2.7-4.1-4.7 2.6z"/>
<path fill="#97ca2b" d="M395.1 233.3l4.7-2.7-2.6-4.1-4.8 2.6z"/>
<path fill="#92c82b" d="M390.3 236.1l4.8-2.8-2.7-4.2-4.7 2.8z"/>
<path fill="#95c92b" d="M402.5 234.9l4.8-2.8-2.7-4.1-4.8 2.6z"/>
<path fill="#90c72a" d="M397.7 237.6l4.8-2.7-2.7-4.3-4.7 2.7z"/>
<path fill="#8cc52a" d="M393 240.5l4.7-2.9-2.6-4.3-4.8 2.8z"/>
<path class="m" d="M393 240.5l14.3-8.4-8.1-12.1-14.2 7.7z"/>
<path fill="#89c42a" d="M378.6 249.5l14.4-9-8-12.8-14.2 8.5z"/>
<path fill="#94c92b" d="M382.9 234.7l4.8-2.8-2.7-4.2-4.7 2.8z"/>
<path fill="#8fc62a" d="M378.2 237.5l4.7-2.8-2.6-4.2-4.8 2.8z"/>
<path fill="#8ac42a" d="M373.4 240.5l4.8-3-2.7-4.2-4.7 2.9z"/>
<path fill="#8dc62a" d="M385.5 239l4.8-2.9-2.6-4.2-4.8 2.8z"/>
<path fill="#89c42a" d="M380.8 241.9l4.7-2.9-2.6-4.3-4.7 2.8z"/>
<path fill="#85c22a" d="M376 244.9l4.8-3-2.6-4.4-4.8 3z"/>
<path fill="#88c32a" d="M388.2 243.4l4.8-2.9-2.7-4.4-4.8 2.9z"/>
<path fill="#83c22a" d="M383.4 246.4l4.8-3-2.7-4.4-4.7 2.9z"/>
<path fill="#7fc02a" d="M378.6 249.5l4.8-3.1-2.6-4.5-4.8 3z"/>
<path class="m" d="M378.6 249.5l14.4-9-8-12.8-14.2 8.5z"/>
<path fill="#7cbf2a" d="M364.3 259l14.3-9.5-7.8-13.3-14.3 9z"/>
<path fill="#86c32a" d="M368.6 243.5l4.8-3-2.6-4.3-4.8 2.9z"/>
<path fill="#81c12a" d="M363.9 246.6l4.7-3.1-2.6-4.4-4.7 3z"/>
<path fill="#7dbf2a" d="M359.1 249.7l4.8-3.1-2.6-4.5-4.8 3.1z"/>
<path fill="#80c02a" d="M371.2 248l4.8-3.1-2.6-4.4-4.8 3z"/>
<path fill="#7cbf2a" d="M366.5 251.1l4.7-3.1-2.6-4.5-4.7 3.1z"/>
<path fill="#77bd2b" d="M361.7 254.3l4.8-3.2-2.6-4.5-4.8 3.1z"/>
<path fill="#7abe2a" d="M373.8 252.6l4.8-3.1-2.6-4.6-4.8 3.1z"/>
<path fill="#76bc2b" d="M369.1 255.8l4.7-3.2-2.6-4.6-4.7 3.1z"/>
<path fill="#73ba2c" d="M364.3 259l4.8-3.2-2.6-4.7-4.8 3.2z"/>
<path class="m" d="M364.3 259l14.3-9.5-7.8-13.3-14.3 9z"/>
<path fill="#6fb82d" d="M349.9 269.1l14.4-10.1-7.8-13.8-14.3 9.6z"/>
<path fill="#78bd2a" d="M354.3 252.9l4.8-3.2-2.6-4.5-4.8 3.2z"/>
<path fill="#74bb2c" d="M349.5 256.2l4.8-3.3-2.6-4.5-4.7 3.2z"/>
<path fill="#70b82d" d="M344.7 259.5l4.8-3.3-2.5-4.6-4.8 3.2z"/>
<path fill="#74ba2c" d="M356.9 257.6l4.8-3.3-2.6-4.6-4.8 3.2z"/>
<path fill="#6fb82d" d="M352.1 260.9l4.8-3.3-2.6-4.7-4.8 3.3z"/>
<path fill="#6cb62f" d="M347.3 264.3l4.8-3.4-2.6-4.7-4.8 3.3z"/>
<path fill="#6fb72d" d="M359.5 262.3l4.8-3.3-2.6-4.7-4.8 3.3z"/>
<path fill="#6bb630" d="M354.7 265.7l4.8-3.4-2.6-4.7-4.8 3.3z"/>
<path fill="#69b534" d="M349.9 269.1l4.8-3.4-2.6-4.8-4.8 3.4z"/>
<path class="m" d="M349.9 269.1l14.4-10.1-7.8-13.8-14.3 9.6z"/>
<path fill="#67b438" d="M335.5 279.8l14.4-10.7-7.7-14.3-14.4 10.2z"/>
<path fill="#6db72e" d="M340.5 260.8l3.6-2.5-1.9-3.5-3.6 2.5z"/>
<path fill="#6bb630" d="M336.9 263.4l3.6-2.6-1.9-3.5-3.6 2.6z"/>
<path fill="#69b534" d="M333.3 266l3.6-2.6-1.9-3.5-3.6 2.5z"/>
<path fill="#67b437" d="M329.7 268.6l3.6-2.6-1.9-3.6-3.6 2.6z"/>
<path fill="#6bb631" d="M342.4 264.4l3.6-2.5-1.9-3.6-3.6 2.5z"/>
<path fill="#69b534" d="M338.8 267l3.6-2.6-1.9-3.6-3.6 2.6z"/>
<path fill="#67b438" d="M335.2 269.6l3.6-2.6-1.9-3.6-3.6 2.6z"/>
<path fill="#67b43f" d="M331.6 272.3l3.6-2.7-1.9-3.6-3.6 2.6z"/>
<path fill="#68b535" d="M344.4 268.1l3.6-2.6-2-3.6-3.6 2.5z"/>
<path fill="#67b439" d="M340.8 270.7l3.6-2.6-2-3.7-3.6 2.6z"/>
<path fill="#67b440" d="M337.2 273.3l3.6-2.6-2-3.7-3.6 2.6z"/>
<path fill="#69b54a" d="M333.6 276l3.6-2.7-2-3.7-3.6 2.7z"/>
<path fill="#66b439" d="M346.3 271.8l3.6-2.7-1.9-3.6-3.6 2.6z"/>
<path fill="#67b442" d="M342.7 274.4l3.6-2.6-1.9-3.7-3.6 2.6z"/>
<path fill="#69b54c" d="M339.1 277.1l3.6-2.7-1.9-3.7-3.6 2.6z"/>
<path fill="#6ab556" d="M335.5 279.8l3.6-2.7-1.9-3.8-3.6 2.7z"/>
<path class="m" d="M335.5 279.8l14.4-10.7-7.7-14.3-14.4 10.2z"/>
<path fill="#6cb65e" d="M321.1 291l14.4-11.2-7.7-14.8-14.4 10.8z"/>
<path fill="#66b43d" d="M326.1 271.3l3.6-2.7-1.9-3.6-3.6 2.7z"/>
<path fill="#68b547" d="M322.5 274l3.6-2.7-1.9-3.6-3.6 2.6z"/>
<path fill="#6ab551" d="M318.9 276.7l3.6-2.7-1.9-3.7-3.6 2.7z"/>
<path fill="#6bb65c" d="M315.3 279.5l3.6-2.8-1.9-3.7-3.6 2.8z"/>
<path fill="#68b549" d="M328 275l3.6-2.7-1.9-3.7-3.6 2.7z"/>
<path fill="#6ab553" d="M324.4 277.7l3.6-2.7-1.9-3.7-3.6 2.7z"/>
<path fill="#6cb65d" d="M320.8 280.5l3.6-2.8-1.9-3.7-3.6 2.7z"/>
<path fill="#6db86c" d="M317.2 283.2l3.6-2.7-1.9-3.8-3.6 2.8z"/>
<path fill="#6ab554" d="M330 278.7l3.6-2.7-2-3.7-3.6 2.7z"/>
<path fill="#6cb65e" d="M326.4 281.5l3.6-2.8-2-3.7-3.6 2.7z"/>
<path fill="#6db86e" d="M322.8 284.3l3.6-2.8-2-3.8-3.6 2.8z"/>
<path fill="#6eba80" d="M319.2 287.1l3.6-2.8-2-3.8-3.6 2.7z"/>
<path fill="#6cb660" d="M331.9 282.6l3.6-2.8-1.9-3.8-3.6 2.7z"/>
<path fill="#6db871" d="M328.3 285.3l3.6-2.7-1.9-3.9-3.6 2.8z"/>
<path fill="#6eba82" d="M324.7 288.2l3.6-2.9-1.9-3.8-3.6 2.8z"/>
<path fill="#6fbd94" d="M321.1 291l3.6-2.8-1.9-3.9-3.6 2.8z"/>
<path class="m" d="M321.1 291l14.4-11.2-7.7-14.8-14.4 10.8z"/>
<path fill="#6fbea0" d="M306.7 302.7l14.4-11.7-7.7-15.2-14.4 11.2z"/>
<path fill="#6db76a" d="M311.7 282.3l3.6-2.8-1.9-3.7-3.6 2.7z"/>
<path fill="#6eb97b" d="M308.1 285.1l3.6-2.8-1.9-3.8-3.6 2.8z"/>
<path fill="#6fbc8d" d="M304.5 287.9l3.6-2.8-1.9-3.8-3.6 2.8z"/>
<path fill="#70be9e" d="M300.9 290.8l3.6-2.9-1.9-3.8-3.6 2.9z"/>
<path fill="#6eba7d" d="M313.6 286.1l3.6-2.9-1.9-3.7-3.6 2.8z"/>
<path fill="#6fbc8f" d="M310 288.9l3.6-2.8-1.9-3.8-3.6 2.8z"/>
<path fill="#6fbea0" d="M306.4 291.8l3.6-2.9-1.9-3.8-3.6 2.8z"/>
<path fill="#6abfac" d="M302.8 294.7l3.6-2.9-1.9-3.9-3.6 2.9z"/>
<path fill="#6fbc91" d="M315.6 289.9l3.6-2.8-2-3.9-3.6 2.9z"/>
<path fill="#6fbea1" d="M312 292.8l3.6-2.9-2-3.8-3.6 2.8z"/>
<path fill="#69bfae" d="M308.3 295.7l3.7-2.9-2-3.9-3.6 2.9z"/>
<path fill="#64c0bb" d="M304.7 298.6l3.6-2.9-1.9-3.9-3.6 2.9z"/>
<path fill="#6ebea3" d="M317.5 293.9l3.6-2.9-1.9-3.9-3.6 2.8z"/>
<path fill="#69bfb0" d="M313.9 296.8l3.6-2.9-1.9-4-3.6 2.9z"/>
<path fill="#63c1bd" d="M310.3 299.7l3.6-2.9-1.9-4-3.7 2.9z"/>
<path fill="#5ec2ca" d="M306.7 302.7l3.6-3-2-4-3.6 2.9z"/>
<path class="m" d="M306.7 302.7l14.4-11.7-7.7-15.2-14.4 11.2z"/>
<path fill="#56c1d3" d="M292.3 314.8l14.4-12.1-7.7-15.7-14.5 11.7z"/>
<path fill="#6bbfab" d="M297.3 293.7l3.6-2.9-1.9-3.8-3.6 2.9z"/>
<path fill="#65c0b8" d="M293.7 296.7l3.6-3-1.9-3.8-3.6 2.9z"/>
<path fill="#60c1c5" d="M290.1 299.6l3.6-2.9-1.9-3.9-3.7 3z"/>
<path fill="#58c1d2" d="M286.4 302.6l3.7-3-2-3.8-3.6 2.9z"/>
<path fill="#65c0b9" d="M299.2 297.6l3.6-2.9-1.9-3.9-3.6 2.9z"/>
<path fill="#5fc1c7" d="M295.6 300.6l3.6-3-1.9-3.9-3.6 3z"/>
<path fill="#57c1d2" d="M292 303.6l3.6-3-1.9-3.9-3.6 2.9z"/>
<path fill="#4abedd" d="M288.4 306.6l3.6-3-1.9-4-3.7 3z"/>
<path fill="#5ec2c8" d="M301.1 301.6l3.6-3-1.9-3.9-3.6 2.9z"/>
<path fill="#55c0d4" d="M297.5 304.6l3.6-3-1.9-4-3.6 3z"/>
<path fill="#49bede" d="M293.9 307.6l3.6-3-1.9-4-3.6 3z"/>
<path fill="#3cbbe8" d="M290.3 310.7l3.6-3.1-1.9-4-3.6 3z"/>
<path fill="#54c0d5" d="M303.1 305.7l3.6-3-2-4.1-3.6 3z"/>
<path fill="#47bddf" d="M299.5 308.7l3.6-3-2-4.1-3.6 3z"/>
<path fill="#3bbae9" d="M295.9 311.7l3.6-3-2-4.1-3.6 3z"/>
<path fill="#37b3e9" d="M292.3 314.8l3.6-3.1-2-4.1-3.6 3.1z"/>
<path class="m" d="M292.3 314.8l14.4-12.1-7.7-15.7-14.5 11.7z"/>
<path fill="#33ade7" d="M277.8 327.3l14.5-12.5-7.8-16.1-14.5 12.2z"/>
<path fill="#4bbedc" d="M282.8 305.7l3.6-3.1-1.9-3.9-3.6 3z"/>
<path fill="#3fbbe6" d="M279.2 308.7l3.6-3-1.9-4-3.6 3.1z"/>
<path fill="#38b5e9" d="M275.6 311.8l3.6-3.1-1.9-3.9-3.6 3z"/>
<path fill="#34aee8" d="M272 314.9l3.6-3.1-1.9-4-3.7 3.1z"/>
<path fill="#3ebbe7" d="M284.8 309.7l3.6-3.1-2-4-3.6 3.1z"/>
<path fill="#37b5e9" d="M281.2 312.7l3.6-3-2-4-3.6 3z"/>
<path fill="#34ade7" d="M277.5 315.8l3.7-3.1-2-4-3.6 3.1z"/>
<path fill="#30a6e6" d="M273.9 319l3.6-3.2-1.9-4-3.6 3.1z"/>
<path fill="#37b4e9" d="M286.7 313.7l3.6-3-1.9-4.1-3.6 3.1z"/>
<path fill="#33ade7" d="M283.1 316.8l3.6-3.1-1.9-4-3.6 3z"/>
<path fill="#30a5e5" d="M279.5 320l3.6-3.2-1.9-4.1-3.7 3.1z"/>
<path fill="#2e9adf" d="M275.9 323.1l3.6-3.1-2-4.2-3.6 3.2z"/>
<path fill="#33ace7" d="M288.7 317.9l3.6-3.1-2-4.1-3.6 3z"/>
<path fill="#30a3e4" d="M285.1 321l3.6-3.1-2-4.2-3.6 3.1z"/>
<path fill="#2e99de" d="M281.4 324.2l3.7-3.2-2-4.2-3.6 3.2z"/>
<path fill="#2c8ed8" d="M277.8 327.3l3.6-3.1-1.9-4.2-3.6 3.1z"/>
<path class="m" d="M277.8 327.3l14.5-12.5-7.8-16.1-14.5 12.2z"/>
<path fill="#2a84d2" d="M263.4 340.3l14.4-13-7.8-16.4-14.5 12.6z"/>
<path fill="#30a6e6" d="M268.4 318l3.6-3.1-2-4-3.6 3.1z"/>
<path fill="#2e9be0" d="M264.7 321.2l3.7-3.2-2-4-3.6 3.2z"/>
<path fill="#2c90d9" d="M261.1 324.4l3.6-3.2-1.9-4-3.6 3.1z"/>
<path fill="#2a85d3" d="M257.5 327.6l3.6-3.2-1.9-4.1-3.7 3.2z"/>
<path fill="#2e9bdf" d="M270.3 322.1l3.6-3.1-1.9-4.1-3.6 3.1z"/>
<path fill="#2c90d9" d="M266.7 325.3l3.6-3.2-1.9-4.1-3.7 3.2z"/>
<path fill="#2a85d2" d="M263.1 328.5l3.6-3.2-2-4.1-3.6 3.2z"/>
<path fill="#297ccd" d="M259.5 331.7l3.6-3.2-2-4.1-3.6 3.2z"/>
<path fill="#2c8fd8" d="M272.3 326.3l3.6-3.2-2-4.1-3.6 3.1z"/>
<path fill="#2a84d2" d="M268.7 329.5l3.6-3.2-2-4.2-3.6 3.2z"/>
<path fill="#287ccc" d="M265.1 332.7l3.6-3.2-2-4.2-3.6 3.2z"/>
<path fill="#2773c6" d="M261.4 336l3.7-3.3-2-4.2-3.6 3.2z"/>
<path fill="#2a83d1" d="M274.2 330.5l3.6-3.2-1.9-4.2-3.6 3.2z"/>
<path fill="#287bcc" d="M270.6 333.7l3.6-3.2-1.9-4.2-3.6 3.2z"/>
<path fill="#2772c6" d="M267 337l3.6-3.3-1.9-4.2-3.6 3.2z"/>
<path fill="#256ac0" d="M263.4 340.3l3.6-3.3-1.9-4.3-3.7 3.3z"/>
<path class="m" d="M263.4 340.3l14.4-13-7.8-16.4-14.5 12.6z"/>
<path fill="#2463bb" d="M249 353.5l14.4-13.2-7.9-16.8-14.5 13z"/>
<path fill="#297dcd" d="M253.9 330.8l3.6-3.2-2-4.1-3.6 3.2z"/>
<path fill="#2774c7" d="M250.2 334.1l3.7-3.3-2-4.1-3.6 3.3z"/>
<path fill="#256cc1" d="M246.6 337.4l3.6-3.3-1.9-4.1-3.7 3.2z"/>
<path fill="#2463bb" d="M243 340.7l3.6-3.3-2-4.2-3.6 3.3z"/>
<path fill="#2774c7" d="M255.8 335l3.7-3.3-2-4.1-3.6 3.2z"/>
<path fill="#256bc1" d="M252.2 338.3l3.6-3.3-1.9-4.2-3.7 3.3z"/>
<path fill="#2463bb" d="M248.6 341.6l3.6-3.3-2-4.2-3.6 3.3z"/>
<path fill="#235fb7" d="M245 344.9l3.6-3.3-2-4.2-3.6 3.3z"/>
<path fill="#256bc1" d="M257.8 339.2l3.6-3.2-1.9-4.3-3.7 3.3z"/>
<path fill="#2463bb" d="M254.2 342.5l3.6-3.3-2-4.2-3.6 3.3z"/>
<path fill="#235eb6" d="M250.6 345.8l3.6-3.3-2-4.2-3.6 3.3z"/>
<path fill="#225ab2" d="M247 349.2l3.6-3.4-2-4.2-3.6 3.3z"/>
<path fill="#2463bb" d="M259.8 343.5l3.6-3.2-2-4.3-3.6 3.2z"/>
<path fill="#235eb6" d="M256.2 346.9l3.6-3.4-2-4.3-3.6 3.3z"/>
<path fill="#225ab2" d="M252.6 350.2l3.6-3.3-2-4.4-3.6 3.3z"/>
<path fill="#2155ad" d="M249 353.5l3.6-3.3-2-4.4-3.6 3.4z"/>
<path class="m" d="M249 353.5l14.4-13.2-7.9-16.8-14.5 13z"/>
<path fill="#2051a9" d="M234.6 367.1l14.4-13.6-8-17-14.5 13.4z"/>
<path fill="#235db5" d="M238.8 346.5l4.9-4.4-2.7-5.6-4.8 4.4z"/>
<path fill="#2157af" d="M234 351l4.8-4.5-2.6-5.6-4.9 4.5z"/>
<path fill="#2051a9" d="M229.2 355.5l4.8-4.5-2.7-5.6-4.8 4.5z"/>
<path fill="#2157af" d="M241.5 352.2l4.8-4.5-2.6-5.6-4.9 4.4z"/>
<path fill="#2051a9" d="M236.7 356.7l4.8-4.5-2.7-5.7-4.8 4.5z"/>
<path fill="#1f4ea6" d="M231.9 361.3l4.8-4.6-2.7-5.7-4.8 4.5z"/>
<path fill="#2051a9" d="M244.2 358l4.8-4.5-2.7-5.8-4.8 4.5z"/>
<path fill="#1f4ea6" d="M239.4 362.6l4.8-4.6-2.7-5.8-4.8 4.5z"/>
<path fill="#1e4aa2" d="M234.6 367.1l4.8-4.5-2.7-5.9-4.8 4.6z"/>
<path class="m" d="M234.6 367.1l14.4-13.6-8-17-14.5 13.4z"/>
</g>
<line x1="234.6" y1="367.1" x2="296.6" y2="362.5" stroke="#111" stroke-width="1"/>
<text x="303.5" y="366.8" font-family="'Liberation Serif',serif" font-size="18" fill="#111">Min</text>
<g fill="#000">
<circle cx="99.4" cy="256.8" r="2.3"/>
<circle cx="97.1" cy="203.1" r="2.3"/>
<circle cx="94.7" cy="149.4" r="2.3"/>
<circle cx="92.4" cy="95.7" r="2.3"/>
<circle cx="90" cy="42" r="2.3"/>
<circle cx="235" cy="446" r="2.3"/>
<circle cx="208.5" cy="421.7" r="2.3"/>
<circle cx="182" cy="397.4" r="2.3"/>
<circle cx="155.4" cy="373" r="2.3"/>
<circle cx="128.9" cy="348.7" r="2.3"/>
<circle cx="102.4" cy="324.4" r="2.3"/>
<circle cx="290.3" cy="431.4" r="2.3"/>
<circle cx="345.6" cy="416.8" r="2.3"/>
<circle cx="401" cy="402.2" r="2.3"/>
<circle cx="456.3" cy="387.6" r="2.3"/>
<circle cx="511.6" cy="373" r="2.3"/>
</g>
<g font-family="'Liberation Sans',sans-serif" font-size="14" fill="#111" stroke="#111" stroke-width="0.15">
<text x="84.6" y="254.8" textLength="7.4" lengthAdjust="spacingAndGlyphs">2</text>
<text x="82.3" y="201.1" textLength="7.4" lengthAdjust="spacingAndGlyphs">3</text>
<text x="79.9" y="147.4" textLength="7.4" lengthAdjust="spacingAndGlyphs">4</text>
<text x="77.6" y="93.7" textLength="7.4" lengthAdjust="spacingAndGlyphs">5</text>
<text x="75.2" y="40" textLength="7.4" lengthAdjust="spacingAndGlyphs">6</text>
<text x="206.6" y="459.7" textLength="20.6" lengthAdjust="spacingAndGlyphs">300</text>
<text x="180.1" y="435.4" textLength="20.6" lengthAdjust="spacingAndGlyphs">310</text>
<text x="153.6" y="411.1" textLength="20.6" lengthAdjust="spacingAndGlyphs">320</text>
<text x="127" y="386.7" textLength="20.6" lengthAdjust="spacingAndGlyphs">330</text>
<text x="100.5" y="362.4" textLength="20.6" lengthAdjust="spacingAndGlyphs">340</text>
<text x="74" y="338.1" textLength="20.6" lengthAdjust="spacingAndGlyphs">350</text>
<text x="241.3" y="460" textLength="14" lengthAdjust="spacingAndGlyphs">10</text>
<text x="296.6" y="445.4" textLength="14" lengthAdjust="spacingAndGlyphs">12</text>
<text x="351.9" y="430.8" textLength="14" lengthAdjust="spacingAndGlyphs">14</text>
<text x="407.3" y="416.2" textLength="14" lengthAdjust="spacingAndGlyphs">16</text>
<text x="462.6" y="401.6" textLength="14" lengthAdjust="spacingAndGlyphs">18</text>
<clipPath id="c20"><rect x="500" y="370" width="27" height="30"/></clipPath>
<text x="518.4" y="387" textLength="14" lengthAdjust="spacingAndGlyphs" clip-path="url(#c20)">20</text>
</g>
<g font-family="'Liberation Sans',sans-serif" font-size="16.4" fill="#111" stroke="#111" stroke-width="0.3">
<text transform="translate(18.8,229.6) rotate(-90)" textLength="148" lengthAdjust="spacingAndGlyphs">Acceleration (m/s<tspan font-size="9.5" dy="-5.5">2</tspan><tspan dy="5.5">)</tspan></text>
<text x="29.8" y="416.8" textLength="102" lengthAdjust="spacingAndGlyphs">C: Radius (m)</text>
<text x="387.7" y="458.2" textLength="155" lengthAdjust="spacingAndGlyphs">A: Buried Depth (m)</text>
</g>
</svg>
</body></html>
